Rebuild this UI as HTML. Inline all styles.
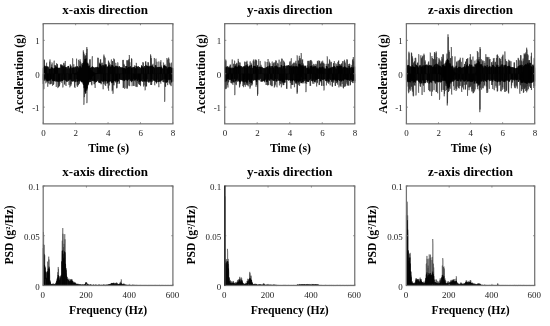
<!DOCTYPE html>
<html><head><meta charset="utf-8"><title>Vibration signals</title>
<style>
html,body{margin:0;padding:0;background:#fff}
svg{display:block}
text{font-family:"Liberation Serif","Times New Roman",serif}
.t{font-size:8.95px;fill:#1a1a1a}
.l{font-size:11.7px;font-weight:bold;fill:#000}
.ti{font-size:13.05px;font-weight:bold;fill:#000}
.s{fill:none;stroke:#000;stroke-width:0.55;stroke-linejoin:bevel}
.k2{fill:none;stroke:#444;stroke-width:0.52;stroke-linejoin:bevel}
.k{fill:none;stroke:#262626;stroke-width:0.52;stroke-linejoin:bevel}
</style></head><body>
<svg width="550" height="326" viewBox="0 0 550 326">
<rect width="550" height="326" fill="#fff"/>
<polyline points="43.2,73.75 43.2,83.89 43.45,73.75 43.45,73.75 43.7,73.75 43.7,89.29 43.95,89.09 43.95,60.08 44.2,59.51 44.2,73.75 44.45,73.75 44.45,60.13 44.71,73.75 44.71,73.75 44.96,73.75 44.96,73.75 45.21,65.82 45.21,73.75 45.46,73.75 45.46,66.79 45.71,73.75 45.71,83.28 45.96,82.63 45.96,73.75 46.21,73.75 46.21,73.75 46.46,73.75 46.46,63.67 46.71,62.68 46.71,73.75 46.96,82.23 46.96,73.75 47.21,73.75 47.21,81.81 47.46,73.75 47.46,73.75 47.72,73.75 47.72,86.74 47.97,73.75 47.97,73.75 48.22,73.75 48.22,73.75 48.47,83.38 48.47,73.75 48.72,73.75 48.72,73.75 48.97,73.75 48.97,73.75 49.22,73.75 49.22,73.75 49.47,73.75 49.47,73.75 49.72,61.63 49.72,73.75 49.97,84.35 49.97,59.47 50.22,73.75 50.22,84.11 50.48,73.75 50.48,73.75 50.73,73.75 50.73,73.75 50.98,84.03 50.98,73.75 51.23,73.75 51.23,83.58 51.48,73.75 51.48,73.75 51.73,64.47 51.73,73.75 51.98,73.75 51.98,62.49 52.23,63.3 52.23,73.75 52.48,85.75 52.48,73.75 52.73,73.75 52.73,73.75 52.98,73.75 52.98,73.75 53.23,73.75 53.23,73.75 53.49,84.91 53.49,73.75 53.74,73.75 53.74,84.15 53.99,73.75 53.99,62.08 54.24,60.67 54.24,80.93 54.49,73.75 54.49,73.75 54.74,65.44 54.74,73.75 54.99,73.75 54.99,65.02 55.24,73.75 55.24,73.75 55.49,73.75 55.49,73.75 55.74,65.27 55.74,73.75 55.99,73.75 55.99,66.14 56.25,73.75 56.25,86.91 56.5,73.75 56.5,63.17 56.75,63.58 56.75,73.75 57,73.75 57,73.75 57.25,64.1 57.25,73.75 57.5,73.75 57.5,64.49 57.75,73.75 57.75,87.89 58,87.8 58,73.75 58.25,73.75 58.25,73.75 58.5,87.08 58.5,73.75 58.75,73.75 58.75,85.15 59,86.62 59,73.75 59.26,73.75 59.26,73.75 59.51,85.98 59.51,73.75 59.76,73.75 59.76,84.44 60.01,73.75 60.01,73.75 60.26,73.75 60.26,73.75 60.51,73.75 60.51,73.75 60.76,73.75 60.76,73.75 61.01,73.75 61.01,73.75 61.26,73.75 61.26,73.75 61.51,73.75 61.51,73.75 61.76,73.75 61.76,82.78 62.02,73.75 62.02,65.11 62.27,64.96 62.27,73.75 62.52,73.75 62.52,73.75 62.77,73.75 62.77,87.44 63.02,87.12 63.02,73.75 63.27,73.75 63.27,73.75 63.52,73.75 63.52,73.75 63.77,62.8 63.77,73.75 64.02,73.75 64.02,63.41 64.27,73.75 64.27,73.75 64.52,83.88 64.52,73.75 64.77,73.75 64.77,84.88 65.03,73.75 65.03,73.75 65.28,60.99 65.28,73.75 65.53,73.75 65.53,73.75 65.78,73.75 65.78,73.75 66.03,86.03 66.03,73.75 66.28,73.75 66.28,73.75 66.53,73.75 66.53,73.75 66.78,73.75 66.78,73.75 67.03,73.75 67.03,73.75 67.28,73.75 67.28,73.75 67.53,73.75 67.53,73.75 67.79,73.75 67.79,73.75 68.04,73.75 68.04,73.75 68.29,73.75 68.29,73.75 68.54,73.75 68.54,73.75 68.79,73.75 68.79,73.75 69.04,84.97 69.04,73.75 69.29,73.74 69.29,73.76 69.54,73.75 69.54,73.75 69.79,73.74 69.79,87.32 70.04,86.77 70.04,73.74 70.29,64.34 70.29,73.76 70.54,84.25 70.54,65.01 70.8,64.9 70.8,85.99 71.05,73.77 71.05,73.72 71.3,73.73 71.3,84.4 71.55,83.55 71.55,73.71 71.8,73.71 71.8,73.79 72.05,73.81 72.05,73.69 72.3,73.67 72.3,73.83 72.55,73.84 72.55,58.3 72.8,59.15 72.8,73.85 73.05,73.85 73.05,73.62 73.3,73.61 73.3,73.88 73.56,73.91 73.56,73.57 73.81,64.28 73.81,73.91 74.06,74.04 74.06,73.53 74.31,73.52 74.31,74.06 74.56,86.81 74.56,73.56 74.81,73.31 74.81,86.81 75.06,87.96 75.06,73.3 75.31,73.33 75.31,74.37 75.56,74.27 75.56,73.02 75.81,72.89 75.81,74.36 76.06,74.47 76.06,72.95 76.31,72.9 76.31,74.75 76.57,74.51 76.57,58.66 76.82,72.29 76.82,75.2 77.07,85.57 77.07,72.61 77.32,72.42 77.32,86.68 77.57,87.03 77.57,71.63 77.82,71.87 77.82,75.48 78.07,85.26 78.07,71.62 78.32,72.05 78.32,85.09 78.57,83.16 78.57,59.85 78.82,70.07 78.82,75.71 79.07,83.84 79.07,70.23 79.33,69.63 79.33,83.57 79.58,78.99 79.58,70.15 79.83,60.86 79.83,78.43 80.08,79.97 80.08,59.24 80.33,69.33 80.33,80.57 80.58,77.68 80.58,62.55 80.83,61.96 80.83,79.53 81.08,81.09 81.08,67.36 81.33,67.08 81.33,81.81 81.58,82.17 81.58,63.69 81.83,67.11 81.83,82.37 82.08,79.37 82.08,64.51 82.34,63.31 82.34,81.96 82.59,82.23 82.59,63.45 82.84,65.25 82.84,83.72 83.09,83.82 83.09,65.26 83.34,50.37 83.34,84.58 83.59,84.3 83.59,52.01 83.84,64.99 83.84,104.81 84.09,102.64 84.09,53.71 84.34,55.11 84.34,97.13 84.59,95.49 84.59,57.79 84.84,56.38 84.84,88.75 85.1,90.94 85.1,55.38 85.35,56.67 85.35,93.79 85.6,92.39 85.6,55.56 85.85,60.34 85.85,93.14 86.1,89.92 86.1,62.78 86.35,53.04 86.35,86.91 86.6,87.45 86.6,54.49 86.85,47.03 86.85,103.14 87.1,101.08 87.1,48.9 87.35,62.23 87.35,85.4 87.6,85.89 87.6,63.03 87.85,62.66 87.85,85.22 88.11,81.98 88.11,67.37 88.36,63.66 88.36,84.97 88.61,84.82 88.61,68.76 88.86,67.12 88.86,81.69 89.11,80.94 89.11,64.99 89.36,66.05 89.36,79.69 89.61,81.8 89.61,60.14 89.86,59.32 89.86,79.66 90.11,79.94 90.11,59.44 90.36,69.78 90.36,80.14 90.61,78.99 90.61,67.88 90.87,68.49 90.87,77.51 91.12,79.18 91.12,69.6 91.37,70.18 91.37,84.09 91.62,84.49 91.62,70.69 91.87,70.26 91.87,85.3 92.12,76.64 92.12,58.47 92.37,56.22 92.37,76.67 92.62,75.31 92.62,71.2 92.87,71.86 92.87,76.13 93.12,76 93.12,72.24 93.37,71.91 93.37,75.68 93.62,75.42 93.62,72.29 93.88,72.67 93.88,75 94.13,84.29 94.13,72.71 94.38,72.62 94.38,84.04 94.63,74.84 94.63,72.87 94.88,73.3 94.88,74.67 95.13,87.95 95.13,73.06 95.38,73.14 95.38,74.15 95.63,74.19 95.63,73.22 95.88,73.46 95.88,74.18 96.13,74.08 96.13,73.39 96.38,73.43 96.38,74.1 96.64,74.06 96.64,73.49 96.89,73.62 96.89,73.97 97.14,73.9 97.14,73.59 97.39,73.58 97.39,73.92 97.64,73.89 97.64,73.63 97.89,57.6 97.89,73.86 98.14,73.84 98.14,58.01 98.39,73.68 98.39,73.83 98.64,73.82 98.64,73.69 98.89,73.7 98.89,73.79 99.14,73.77 99.14,73.72 99.39,62.68 99.39,73.78 99.65,73.77 99.65,63.59 99.9,73.73 99.9,73.77 100.15,73.77 100.15,73.73 100.4,59.61 100.4,73.76 100.65,73.76 100.65,59.27 100.9,73.74 100.9,73.76 101.15,84.3 101.15,73.75 101.4,73.75 101.4,73.75 101.65,73.75 101.65,73.75 101.9,62.95 101.9,73.75 102.15,73.75 102.15,62.64 102.41,73.75 102.41,73.75 102.66,73.75 102.66,73.75 102.91,73.75 102.91,73.75 103.16,89.25 103.16,73.75 103.41,73.75 103.41,73.75 103.66,83.77 103.66,73.75 103.91,54.6 103.91,83.79 104.16,73.75 104.16,56.31 104.41,73.75 104.41,73.75 104.66,73.75 104.66,73.75 104.91,73.75 104.91,85.15 105.16,85.01 105.16,57.7 105.42,73.75 105.42,73.75 105.67,85.94 105.67,73.75 105.92,73.75 105.92,73.75 106.17,73.75 106.17,73.75 106.42,73.75 106.42,73.75 106.67,73.75 106.67,73.75 106.92,73.75 106.92,73.75 107.17,73.75 107.17,73.75 107.42,73.75 107.42,73.75 107.67,73.75 107.67,73.75 107.92,73.75 107.92,73.75 108.18,88.35 108.18,73.75 108.43,60.59 108.43,88.6 108.68,90.71 108.68,61.53 108.93,73.75 108.93,73.75 109.18,73.75 109.18,73.75 109.43,62.69 109.43,85.46 109.68,73.75 109.68,73.75 109.93,73.75 109.93,73.75 110.18,73.75 110.18,73.75 110.43,64.48 110.43,73.75 110.68,73.75 110.68,73.75 110.94,73.75 110.94,73.75 111.19,73.75 111.19,61.53 111.44,59.44 111.44,73.75 111.69,73.75 111.69,73.75 111.94,73.75 111.94,73.75 112.19,91.22 112.19,73.75 112.44,61.17 112.44,89.88 112.69,89.04 112.69,61.11 112.94,73.75 112.94,93.79 113.19,92.39 113.19,73.75 113.44,73.75 113.44,73.75 113.69,84.83 113.69,58.49 113.95,60 113.95,85.39 114.2,73.75 114.2,73.75 114.45,59.4 114.45,73.75 114.7,73.75 114.7,73.75 114.95,73.75 114.95,73.75 115.2,73.75 115.2,73.75 115.45,73.75 115.45,73.75 115.7,82.47 115.7,62.85 115.95,63.92 115.95,81.8 116.2,73.75 116.2,73.75 116.45,73.75 116.45,73.75 116.71,88.39 116.71,73.75 116.96,73.75 116.96,87.8 117.21,73.75 117.21,73.75 117.46,73.75 117.46,83.71 117.71,73.75 117.71,62.4 117.96,63.38 117.96,73.75 118.21,73.75 118.21,73.75 118.46,73.75 118.46,73.75 118.71,73.75 118.71,73.75 118.96,73.75 118.96,83.86 119.21,83.27 119.21,73.75 119.46,73.75 119.46,83.37 119.72,73.75 119.72,73.75 119.97,73.75 119.97,73.75 120.22,73.75 120.22,73.75 120.47,73.75 120.47,73.75 120.72,73.75 120.72,73.75 120.97,73.75 120.97,73.75 121.22,73.75 121.22,73.75 121.47,73.75 121.47,73.75 121.72,73.75 121.72,73.75 121.97,73.75 121.97,73.75 122.22,73.75 122.22,73.75 122.48,73.75 122.48,73.75 122.73,73.75 122.73,60.66 122.98,59.91 122.98,73.75 123.23,88.03 123.23,59.97 123.48,73.75 123.48,87.4 123.73,73.75 123.73,73.75 123.98,63.86 123.98,73.75 124.23,73.75 124.23,64.95 124.48,73.75 124.48,87.74 124.73,88.86 124.73,73.75 124.98,73.75 124.98,73.75 125.23,73.75 125.23,73.75 125.49,66.09 125.49,73.75 125.74,73.75 125.74,66.49 125.99,73.75 125.99,87.95 126.24,73.75 126.24,73.75 126.49,73.75 126.49,73.75 126.74,73.75 126.74,60.41 126.99,60.87 126.99,88.74 127.24,89.01 127.24,60.18 127.49,73.75 127.49,87.73 127.74,73.75 127.74,73.75 127.99,61.1 127.99,73.75 128.25,73.75 128.25,60.29 128.5,60.01 128.5,73.75 128.75,85.57 128.75,73.75 129,58.94 129,73.75 129.25,73.75 129.25,55.05 129.5,56.36 129.5,86.17 129.75,85.81 129.75,62.24 130,62.37 130,73.75 130.25,73.75 130.25,73.75 130.5,73.75 130.5,73.75 130.75,73.75 130.75,73.75 131,73.75 131,73.75 131.26,82.25 131.26,73.75 131.51,58.42 131.51,81.91 131.76,73.75 131.76,58.87 132.01,73.75 132.01,86.17 132.26,85.2 132.26,73.75 132.51,73.75 132.51,73.75 132.76,73.75 132.76,73.75 133.01,73.75 133.01,73.75 133.26,73.75 133.26,73.75 133.51,73.75 133.51,84.58 133.76,85.88 133.76,73.75 134.02,73.75 134.02,85.88 134.27,73.75 134.27,65.52 134.52,65.52 134.52,73.75 134.77,80.79 134.77,73.75 135.02,73.75 135.02,80.71 135.27,81.51 135.27,66.62 135.52,65.81 135.52,73.75 135.77,86.64 135.77,73.75 136.02,73.75 136.02,73.75 136.27,73.75 136.27,62.86 136.52,64.22 136.52,73.75 136.77,86.58 136.77,73.75 137.03,73.75 137.03,87.07 137.28,73.75 137.28,73.75 137.53,73.75 137.53,73.75 137.78,73.75 137.78,73.75 138.03,73.75 138.03,82.82 138.28,73.75 138.28,73.75 138.53,73.75 138.53,82.79 138.78,84.06 138.78,73.75 139.03,73.75 139.03,73.75 139.28,84.43 139.28,73.75 139.53,73.75 139.53,84.79 139.79,73.75 139.79,73.75 140.04,73.75 140.04,73.75 140.29,84.88 140.29,73.75 140.54,73.75 140.54,86.17 140.79,73.75 140.79,73.75 141.04,73.75 141.04,73.75 141.29,73.75 141.29,73.75 141.54,65 141.54,73.75 141.79,73.75 141.79,73.75 142.04,73.75 142.04,73.75 142.29,73.75 142.29,73.75 142.54,73.75 142.54,73.75 142.8,73.75 142.8,61.99 143.05,62.48 143.05,73.75 143.3,73.75 143.3,62.81 143.55,73.75 143.55,86.39 143.8,86.57 143.8,73.75 144.05,73.75 144.05,85.28 144.3,73.75 144.3,73.75 144.55,73.75 144.55,73.75 144.8,73.75 144.8,73.75 145.05,73.75 145.05,90.3 145.3,89.6 145.3,73.75 145.56,61.68 145.56,73.75 145.81,86.52 145.81,61.38 146.06,73.75 146.06,73.75 146.31,86.1 146.31,73.75 146.56,73.75 146.56,86.34 146.81,73.75 146.81,73.75 147.06,73.75 147.06,73.75 147.31,73.75 147.31,73.75 147.56,73.75 147.56,73.75 147.81,73.75 147.81,73.75 148.06,62.12 148.06,73.75 148.31,73.75 148.31,62.59 148.57,73.75 148.57,73.75 148.82,73.75 148.82,73.75 149.07,73.75 149.07,73.75 149.32,73.75 149.32,73.75 149.57,73.75 149.57,73.75 149.82,73.75 149.82,73.75 150.07,73.75 150.07,73.75 150.32,73.75 150.32,73.75 150.57,54.38 150.57,84.15 150.82,84.95 150.82,55.73 151.07,60.55 151.07,73.75 151.33,84.97 151.33,58.18 151.58,73.75 151.58,84.94 151.83,83.52 151.83,73.75 152.08,73.75 152.08,73.75 152.33,73.75 152.33,73.75 152.58,64.93 152.58,73.75 152.83,73.75 152.83,64.5 153.08,63.77 153.08,73.75 153.33,73.75 153.33,73.75 153.58,73.75 153.58,73.75 153.83,73.75 153.83,73.75 154.08,73.75 154.08,73.75 154.34,73.75 154.34,57.97 154.59,73.75 154.59,83.81 154.84,85.27 154.84,73.75 155.09,73.75 155.09,73.75 155.34,73.75 155.34,73.75 155.59,73.75 155.59,73.75 155.84,73.75 155.84,59.12 156.09,58.69 156.09,73.75 156.34,83.1 156.34,73.75 156.59,73.75 156.59,83.54 156.84,73.75 156.84,61.73 157.1,62.22 157.1,73.75 157.35,73.75 157.35,73.75 157.6,73.75 157.6,73.75 157.85,73.75 157.85,73.75 158.1,73.75 158.1,73.75 158.35,73.75 158.35,73.75 158.6,73.75 158.6,73.75 158.85,87.19 158.85,61.48 159.1,73.75 159.1,73.75 159.35,73.75 159.35,73.75 159.6,73.75 159.6,73.75 159.85,73.75 159.85,73.75 160.11,73.75 160.11,73.75 160.36,73.75 160.36,62.29 160.61,62.3 160.61,82.77 160.86,83.64 160.86,60.19 161.11,73.75 161.11,73.75 161.36,73.75 161.36,66.37 161.61,65.55 161.61,73.75 161.86,73.75 161.86,73.75 162.11,73.75 162.11,73.75 162.36,73.75 162.36,73.75 162.61,73.75 162.61,73.75 162.87,81.95 162.87,73.75 163.12,73.75 163.12,73.75 163.37,73.75 163.37,62.54 163.62,63.08 163.62,73.75 163.87,73.75 163.87,73.75 164.12,73.75 164.12,73.75 164.37,73.75 164.37,73.75 164.62,65.22 164.62,101.81 164.87,99.84 164.87,64.63 165.12,64.6 165.12,73.75 165.37,86.79 165.37,73.75 165.62,73.75 165.62,86.5 165.88,73.75 165.88,73.75 166.13,73.75 166.13,81.88 166.38,81.75 166.38,73.75 166.63,73.75 166.63,83.04 166.88,73.75 166.88,57.99 167.13,59.28 167.13,73.75 167.38,73.75 167.38,59.58 167.63,73.75 167.63,85.14 167.88,73.75 167.88,73.75 168.13,73.75 168.13,73.75 168.38,73.75 168.38,73.75 168.64,57.55 168.64,73.75 168.89,73.75 168.89,58.86 169.14,73.75 169.14,82.75 169.39,81.46 169.39,62.66 169.64,63.37 169.64,73.75 169.89,84.15 169.89,63.58 170.14,73.75 170.14,84.19 170.39,85.11 170.39,73.75 170.64,73.75 170.64,73.75 170.89,73.75 170.89,73.75 171.14,73.75 171.14,86.11 171.39,73.75 171.39,62.64 171.65,73.75 171.65,73.75 171.9,73.75 171.9,73.75 172.15,73.75 172.15,73.75 172.4,73.75 172.4,73.75 172.65,73.75 172.65,73.75 172.9,73.75 172.9,73.75" class="k"/>
<polyline points="43.2,68.09 43.2,79.24 43.45,80.35 43.45,67.13 43.7,67.21 43.7,80.91 43.95,80.16 43.95,67.37 44.2,66.88 44.2,80.37 44.45,80.38 44.45,65.87 44.71,65.71 44.71,78.7 44.96,78.76 44.96,66.07 45.21,68.49 45.21,78.61 45.46,78.7 45.46,67.76 45.71,68.43 45.71,79.82 45.96,80.51 45.96,68.52 46.21,66.59 46.21,80.09 46.46,79.85 46.46,66.56 46.71,66.58 46.71,80.13 46.96,80.8 46.96,66.66 47.21,66.92 47.21,80.79 47.46,80.56 47.46,66.62 47.72,66.35 47.72,80.46 47.97,80.35 47.97,66.84 48.22,66.8 48.22,80.42 48.47,80.84 48.47,67.49 48.72,67.62 48.72,80.24 48.97,80.37 48.97,69.31 49.22,69.24 49.22,80.21 49.47,80.56 49.47,69.17 49.72,69.19 49.72,80.36 49.97,80.43 49.97,69.31 50.22,68.9 50.22,80.37 50.48,79.46 50.48,69.03 50.73,68.73 50.73,79.86 50.98,78.67 50.98,68.34 51.23,67.47 51.23,78.87 51.48,78.9 51.48,67.38 51.73,67.1 51.73,78.89 51.98,78.27 51.98,69.05 52.23,68 52.23,78.91 52.48,80.56 52.48,67.79 52.73,67.71 52.73,80.64 52.98,80.86 52.98,68.8 53.23,69.08 53.23,81.2 53.49,80.78 53.49,68.62 53.74,68.39 53.74,81.08 53.99,80.75 53.99,68.68 54.24,68.35 54.24,81.3 54.49,80.97 54.49,68.52 54.74,68.18 54.74,78.78 54.99,80.63 54.99,67.98 55.24,68.81 55.24,80.66 55.49,80.31 55.49,66.88 55.74,66.56 55.74,81.48 55.99,81.72 55.99,66.77 56.25,67.06 56.25,81.35 56.5,80.82 56.5,67 56.75,68.28 56.75,81.07 57,78.93 57,68.04 57.25,68.12 57.25,81.31 57.5,81.46 57.5,67.77 57.75,67.55 57.75,81.37 58,81.4 58,68.05 58.25,68.48 58.25,82.09 58.5,79.06 58.5,67.85 58.75,68.31 58.75,79.68 59,79.03 59,68.17 59.26,67.81 59.26,81.26 59.51,81.05 59.51,68.09 59.76,68.17 59.76,81.3 60.01,81.27 60.01,67.86 60.26,68.23 60.26,81.56 60.51,79.28 60.51,68.42 60.76,64.73 60.76,81.17 61.01,80.82 61.01,64.25 61.26,65.77 61.26,81.27 61.51,80.44 61.51,65.88 61.76,65.63 61.76,80.67 62.02,78.59 62.02,65.48 62.27,65.85 62.27,78.86 62.52,81.04 62.52,66.65 62.77,66.6 62.77,80.78 63.02,79.39 63.02,66.65 63.27,68.37 63.27,79.62 63.52,79.51 63.52,66.43 63.77,66.34 63.77,79.51 64.02,79.91 64.02,68.62 64.27,68.75 64.27,79.3 64.52,79.23 64.52,66.15 64.77,65.53 64.77,79.74 65.03,80.13 65.03,67.42 65.28,67.1 65.28,79.91 65.53,79.65 65.53,67.39 65.78,67.61 65.78,79.83 66.03,80.97 66.03,67.18 66.28,68.57 66.28,81.32 66.53,81.16 66.53,67.21 66.78,67.26 66.78,81.57 67.03,81.87 67.03,68.74 67.28,68.64 67.28,81.47 67.53,81.44 67.53,68.48 67.79,66.49 67.79,78.73 68.04,80.31 68.04,66.4 68.29,66.07 68.29,80.66 68.54,80.65 68.54,65.94 68.79,68.46 68.79,80.73 69.04,79.62 69.04,68.52 69.29,68.5 69.29,79.36 69.54,79.5 69.54,68.64 69.79,68.51 69.79,79.43 70.04,79.66 70.04,68.69 70.29,66.98 70.29,79.63 70.54,78.96 70.54,66.87 70.8,66.61 70.8,78.8 71.05,79.11 71.05,66.47 71.3,66.4 71.3,80.65 71.55,80.71 71.55,68.43 71.8,68.33 71.8,81.03 72.05,81.38 72.05,68.05 72.3,67.9 72.3,81.29 72.55,81.46 72.55,67.95 72.8,68.41 72.8,79.53 73.05,81.03 73.05,67.31 73.3,67.33 73.3,81.16 73.56,80.85 73.56,67.64 73.81,67.54 73.81,81.39 74.06,80.78 74.06,68.13 74.31,68.18 74.31,79.48 74.56,78.66 74.56,68.5 74.81,67.25 74.81,81.27 75.06,82.22 75.06,67.03 75.31,66.47 75.31,81.49 75.56,81.14 75.56,67.06 75.81,68.42 75.81,81.71 76.06,81.32 76.06,68.11 76.31,68.59 76.31,78.98 76.57,79.08 76.57,68.33 76.82,66.53 76.82,79.12 77.07,81.52 77.07,66.83 77.32,66.01 77.32,81.97 77.57,81.4 77.57,66.8 77.82,68.52 77.82,78.93 78.07,79.48 78.07,67.57 78.32,67.52 78.32,78.98 78.57,80.85 78.57,67.62 78.82,68.35 78.82,81.16 79.07,81.08 79.07,68.16 79.33,68.2 79.33,81.24 79.58,81.19 79.58,67.79 79.83,65.89 79.83,79.28 80.08,79.87 80.08,66.33 80.33,66.15 80.33,80.44 80.58,80.47 80.58,67.76 80.83,67.35 80.83,79.76 81.08,81.65 81.08,67.78 81.33,67.95 81.33,81.13 81.58,81.44 81.58,68.24 81.83,68.14 81.83,81.33 82.08,80.77 82.08,66.75 82.34,65.52 82.34,80.91 82.59,81.88 82.59,64.88 82.84,67.64 82.84,82.05 83.09,82.75 83.09,65.95 83.34,62.93 83.34,84.31 83.59,84.93 83.59,62.37 83.84,62.52 83.84,86.04 84.09,88.19 84.09,61.33 84.34,63.37 84.34,86.72 84.59,87.49 84.59,61.83 84.84,58.96 84.84,86.42 85.1,91.99 85.1,62.55 85.35,59.41 85.35,92.24 85.6,93.28 85.6,59.06 85.85,59.52 85.85,89.05 86.1,90.65 86.1,58.29 86.35,61.34 86.35,87.28 86.6,88.71 86.6,62.29 86.85,62.96 86.85,90.42 87.1,88.5 87.1,63.14 87.35,64.94 87.35,88.39 87.6,85.92 87.6,63.79 87.85,66.51 87.85,83.01 88.11,82.52 88.11,66.6 88.36,66.61 88.36,83.96 88.61,82.87 88.61,67.01 88.86,65.84 88.86,82.47 89.11,81.89 89.11,66.19 89.36,65.99 89.36,79.6 89.61,79.27 89.61,68.54 89.86,68.17 89.86,81.86 90.11,82.02 90.11,67.94 90.36,67.82 90.36,81.38 90.61,81.92 90.61,67.97 90.87,68.67 90.87,81.32 91.12,80.3 91.12,67.72 91.37,67.49 91.37,79.32 91.62,79.36 91.62,67.23 91.87,67.24 91.87,79.44 92.12,80.87 92.12,67.24 92.37,66.67 92.37,81 92.62,79.64 92.62,66.44 92.87,68.12 92.87,79.97 93.12,80.12 93.12,68.29 93.37,67.45 93.37,79.35 93.62,81.28 93.62,67.17 93.88,67.61 93.88,81.01 94.13,81.28 94.13,68.05 94.38,67.93 94.38,79.05 94.63,81.04 94.63,67.71 94.88,68.11 94.88,81.48 95.13,79.85 95.13,68.25 95.38,67.57 95.38,82.62 95.63,82.13 95.63,67.43 95.88,67.41 95.88,82.02 96.13,81.98 96.13,67.52 96.38,67.88 96.38,82.05 96.64,80.46 96.64,67.67 96.89,67.11 96.89,80.88 97.14,80.71 97.14,66.89 97.39,67.31 97.39,80.89 97.64,81.13 97.64,67.22 97.89,67.37 97.89,79.52 98.14,79.5 98.14,67.92 98.39,68 98.39,81.82 98.64,82.2 98.64,68.08 98.89,67.7 98.89,82.22 99.14,82.84 99.14,67.03 99.39,67.86 99.39,82.69 99.65,82.85 99.65,64.15 99.9,64.22 99.9,82.49 100.15,79.76 100.15,63.9 100.4,64.45 100.4,82.89 100.65,82.9 100.65,64.7 100.9,64.6 100.9,82.72 101.15,83.4 101.15,65.69 101.4,66.06 101.4,80.98 101.65,80.87 101.65,65.89 101.9,66.3 101.9,80.66 102.15,79.73 102.15,67.46 102.41,67.59 102.41,79.59 102.66,81.54 102.66,67.65 102.91,65.15 102.91,81.71 103.16,81.26 103.16,64.95 103.41,67.69 103.41,81.32 103.66,80.49 103.66,66.67 103.91,66.16 103.91,80.65 104.16,80.83 104.16,66.43 104.41,66.43 104.41,80.66 104.66,80.54 104.66,67.49 104.91,64.55 104.91,81.7 105.16,82.35 105.16,64.65 105.42,64.35 105.42,80.37 105.67,80.81 105.67,65.02 105.92,65.02 105.92,80.31 106.17,81.2 106.17,64.26 106.42,64.73 106.42,80.97 106.67,81.18 106.67,67.48 106.92,66.58 106.92,83.61 107.17,82.92 107.17,67.02 107.42,66.83 107.42,82.55 107.67,82.35 107.67,66.88 107.92,67.89 107.92,83.29 108.18,82.08 108.18,66.57 108.43,66.24 108.43,81.45 108.68,81.75 108.68,65.6 108.93,65.43 108.93,81.39 109.18,81.46 109.18,64.71 109.43,65.92 109.43,81.02 109.68,81.56 109.68,67.66 109.93,67.52 109.93,81.25 110.18,80.9 110.18,67.62 110.43,66.8 110.43,81.22 110.68,79.49 110.68,66.73 110.94,66.85 110.94,79.33 111.19,82.26 111.19,66.58 111.44,66.61 111.44,83.15 111.69,82.58 111.69,65.1 111.94,64.91 111.94,82.3 112.19,80.02 112.19,65.06 112.44,65.59 112.44,81.59 112.69,82.44 112.69,65.29 112.94,68.15 112.94,82.8 113.19,81.65 113.19,66.96 113.44,66.35 113.44,81.55 113.69,81.82 113.69,67.91 113.95,67.21 113.95,80.45 114.2,79.25 114.2,67.16 114.45,67.3 114.45,81.06 114.7,81.02 114.7,66.94 114.95,67.6 114.95,80.75 115.2,80.77 115.2,66.34 115.45,66.28 115.45,81.2 115.7,78.97 115.7,66.61 115.95,65.82 115.95,80.02 116.2,80.16 116.2,65.81 116.45,67.96 116.45,80.02 116.71,80.36 116.71,66.7 116.96,66.67 116.96,79.72 117.21,81.68 117.21,66.38 117.46,68.67 117.46,81.78 117.71,79.06 117.71,66.52 117.96,66.66 117.96,81.38 118.21,80.9 118.21,66.53 118.46,68.6 118.46,81.27 118.71,78.8 118.71,68.01 118.96,67.73 118.96,78.87 119.21,78.68 119.21,68.57 119.46,66.02 119.46,79.39 119.72,79.05 119.72,66.87 119.97,67.85 119.97,78.34 120.22,79.01 120.22,67.89 120.47,67.63 120.47,80.01 120.72,79.53 120.72,67.28 120.97,66.98 120.97,79.88 121.22,79.64 121.22,68.81 121.47,67.84 121.47,79.58 121.72,79.84 121.72,67.73 121.97,67.55 121.97,80.1 122.22,80.18 122.22,67.24 122.48,68.24 122.48,80.22 122.73,78.92 122.73,68.1 122.98,68.02 122.98,79.37 123.23,78.93 123.23,68.34 123.48,68.03 123.48,78.35 123.73,80.61 123.73,68.63 123.98,68.75 123.98,80.31 124.23,80.69 124.23,68.05 124.48,68.49 124.48,81.13 124.73,80.73 124.73,68.31 124.98,68.84 124.98,79.8 125.23,80.05 125.23,68.59 125.49,69.12 125.49,79.43 125.74,78.77 125.74,69.03 125.99,68.95 125.99,79.68 126.24,79.96 126.24,68.6 126.49,66.08 126.49,79.77 126.74,79.68 126.74,66.43 126.99,66.41 126.99,80.06 127.24,80.82 127.24,67.86 127.49,68.05 127.49,81.11 127.74,78.82 127.74,68.2 127.99,67.86 127.99,79.39 128.25,79.85 128.25,67.95 128.5,67.19 128.5,79.21 128.75,79.31 128.75,67.48 129,67.04 129,79.35 129.25,79.13 129.25,67.1 129.5,67.35 129.5,79.17 129.75,79.05 129.75,68.21 130,68.65 130,79.3 130.25,80.85 130.25,66.1 130.5,67.07 130.5,80.31 130.75,80.35 130.75,66.78 131,68.17 131,80.2 131.26,80.06 131.26,68.11 131.51,68.17 131.51,78.58 131.76,81.27 131.76,68.22 132.01,68.75 132.01,81.38 132.26,81.02 132.26,67.95 132.51,67.47 132.51,80.24 132.76,80.49 132.76,67.91 133.01,67.41 133.01,80.37 133.26,80.37 133.26,67.56 133.51,67.49 133.51,78.67 133.76,78.97 133.76,67.41 134.02,67.04 134.02,78.71 134.27,78.88 134.27,66.95 134.52,67.17 134.52,80.12 134.77,80.01 134.77,68.93 135.02,68.48 135.02,80.3 135.27,79.35 135.27,68.35 135.52,68.2 135.52,79.6 135.77,79.46 135.77,68.59 136.02,68.97 136.02,79.55 136.27,79.41 136.27,66.23 136.52,66.47 136.52,78.88 136.77,78.59 136.77,66.55 137.03,66.78 137.03,80.87 137.28,80.97 137.28,66.86 137.53,67.27 137.53,80.7 137.78,78.43 137.78,66.86 138.03,66.3 138.03,79.88 138.28,79.24 138.28,66.73 138.53,66.32 138.53,79.72 138.78,79.14 138.78,68.45 139.03,68.96 139.03,81.76 139.28,81.24 139.28,67.03 139.53,67.33 139.53,81.54 139.79,79.59 139.79,67.03 140.04,68.1 140.04,79.48 140.29,81.51 140.29,67.97 140.54,68.36 140.54,81.33 140.79,81.19 140.79,68.44 141.04,68.47 141.04,80.08 141.29,80.23 141.29,68.91 141.54,66.52 141.54,80.98 141.79,80.31 141.79,66.63 142.04,66.03 142.04,81.37 142.29,81.1 142.29,66.43 142.54,68.52 142.54,81.06 142.8,81.86 142.8,68.11 143.05,67.77 143.05,78.85 143.3,79.21 143.3,67.78 143.55,67.86 143.55,81.27 143.8,80.82 143.8,67.48 144.05,67.92 144.05,80.67 144.3,80.75 144.3,66.02 144.55,66.59 144.55,81.31 144.8,81.43 144.8,66.29 145.05,68.6 145.05,81.55 145.3,79.04 145.3,68.69 145.56,68.07 145.56,81.1 145.81,81.04 145.81,65.46 146.06,64.89 146.06,79.71 146.31,79.48 146.31,68.29 146.56,66.06 146.56,79.13 146.81,81.49 146.81,65.62 147.06,66.04 147.06,81.37 147.31,81.62 147.31,66.17 147.56,66 147.56,79.34 147.81,79.29 147.81,66.09 148.06,67.02 148.06,79.43 148.31,81.61 148.31,67.3 148.57,66.46 148.57,82.42 148.82,81.85 148.82,67.24 149.07,66.67 149.07,82.24 149.32,82.51 149.32,66.64 149.57,66.71 149.57,79.28 149.82,81.31 149.82,65.83 150.07,65.88 150.07,81.3 150.32,81.34 150.32,65.92 150.57,66.31 150.57,81.12 150.82,81.53 150.82,66.85 151.07,66.56 151.07,79.42 151.33,79.4 151.33,66.19 151.58,65.87 151.58,79.31 151.83,81.56 151.83,65.64 152.08,65.96 152.08,81.53 152.33,80.63 152.33,66.31 152.58,66.08 152.58,79.2 152.83,79.3 152.83,68.13 153.08,66.77 153.08,80.21 153.33,80.2 153.33,67.01 153.58,67.52 153.58,80.22 153.83,80.5 153.83,67.37 154.08,66.97 154.08,80.9 154.34,80.03 154.34,67.97 154.59,68.22 154.59,80.57 154.84,80.36 154.84,68.44 155.09,68.36 155.09,80.12 155.34,80.48 155.34,65.3 155.59,65.39 155.59,81.77 155.84,81.4 155.84,65.33 156.09,66.58 156.09,81.8 156.34,79.46 156.34,67.28 156.59,67.31 156.59,82.18 156.84,81.46 156.84,68.61 157.1,67.96 157.1,82.12 157.35,78.9 157.35,68.01 157.6,67.16 157.6,79.66 157.85,79.22 157.85,67.32 158.1,67.26 158.1,82.13 158.35,81.96 158.35,67.56 158.6,67.29 158.6,81.65 158.85,81.24 158.85,67.18 159.1,67.08 159.1,81.55 159.35,81.46 159.35,67.38 159.6,66.88 159.6,81.27 159.85,81.74 159.85,67.36 160.11,67.09 160.11,80.77 160.36,81.19 160.36,67.13 160.61,67.51 160.61,81.37 160.86,78.86 160.86,68.42 161.11,67.86 161.11,80.2 161.36,79.98 161.36,67.23 161.61,67.67 161.61,80.66 161.86,80.53 161.86,67.59 162.11,67.7 162.11,80.35 162.36,79.21 162.36,68.84 162.61,68.62 162.61,79.33 162.87,79.86 162.87,68.69 163.12,68.94 163.12,79.31 163.37,78.99 163.37,68.73 163.62,65.56 163.62,81.62 163.87,82.35 163.87,65.9 164.12,66.45 164.12,81.85 164.37,78.89 164.37,65.98 164.62,65.44 164.62,79.12 164.87,79.22 164.87,66.58 165.12,66.01 165.12,79.38 165.37,79.23 165.37,66.24 165.62,68.06 165.62,79.38 165.88,82.64 165.88,68.73 166.13,66.35 166.13,81.99 166.38,82.04 166.38,66.69 166.63,68.62 166.63,79.39 166.88,79.8 166.88,68.66 167.13,68.51 167.13,80.01 167.38,81.88 167.38,68.72 167.63,68.67 167.63,82.05 167.88,80.62 167.88,67.41 168.13,67.98 168.13,80.28 168.38,80.04 168.38,68.54 168.64,67.46 168.64,79.19 168.89,79.43 168.89,67.29 169.14,66.97 169.14,79.06 169.39,79.57 169.39,67.04 169.64,67.33 169.64,79.49 169.89,79.59 169.89,67.89 170.14,67.65 170.14,80 170.39,79.3 170.39,66.81 170.64,67.16 170.64,79.09 170.89,79.02 170.89,67.13 171.14,68.62 171.14,78.85 171.39,81.83 171.39,68.28 171.65,68.04 171.65,82.57 171.9,81.74 171.9,68.28 172.15,67.92 172.15,80.78 172.4,80.55 172.4,67.72 172.65,68.55 172.65,81.84 172.9,80.94 172.9,68.28" class="s"/>
<rect x="43.2" y="23.65" width="129.7" height="100.19999999999999" fill="none" stroke="#727272" stroke-width="1.25"/>
<text x="43.4" y="136.3" text-anchor="middle" class="t">0</text>
<text x="75.83" y="136.3" text-anchor="middle" class="t">2</text>
<text x="108.25" y="136.3" text-anchor="middle" class="t">4</text>
<text x="140.67" y="136.3" text-anchor="middle" class="t">6</text>
<text x="173.1" y="136.3" text-anchor="middle" class="t">8</text>
<text x="39.6" y="111.2" text-anchor="end" class="t">-1</text>
<text x="39.6" y="77.8" text-anchor="end" class="t">0</text>
<text x="39.6" y="44.4" text-anchor="end" class="t">1</text>
<path d="M43.2 123.85v-1.6M43.2 23.65v1.6M75.62 123.85v-1.6M75.62 23.65v1.6M108.05 123.85v-1.6M108.05 23.65v1.6M140.47 123.85v-1.6M140.47 23.65v1.6M172.9 123.85v-1.6M172.9 23.65v1.6M43.2 107.15h1.6M172.9 107.15h-1.6M43.2 73.75h1.6M172.9 73.75h-1.6M43.2 40.35h1.6M172.9 40.35h-1.6" stroke="#727272" stroke-width="0.8" fill="none"/>
<text x="105.15" y="13.75" text-anchor="middle" class="ti">x-axis direction</text>
<text x="108.75" y="151.9" text-anchor="middle" class="l">Time (s)</text>
<text transform="translate(23.3 73.75) rotate(-90)" text-anchor="middle" class="l">Acceleration (g)</text>
<polyline points="224.7,60.57 224.7,73.75 224.95,73.75 224.95,61.89 225.2,73.75 225.2,73.75 225.45,88.61 225.45,73.75 225.7,59.54 225.7,89.18 225.95,73.75 225.95,60.67 226.2,73.75 226.2,88.65 226.45,87.76 226.45,73.75 226.7,73.75 226.7,73.75 226.96,73.75 226.96,73.75 227.21,73.75 227.21,84.32 227.46,85.14 227.46,73.75 227.71,73.75 227.71,73.75 227.96,87.5 227.96,73.75 228.21,73.75 228.21,73.75 228.46,82.43 228.46,73.75 228.71,73.75 228.71,82 228.96,73.75 228.96,73.75 229.21,65.92 229.21,73.75 229.46,73.75 229.46,73.75 229.71,73.75 229.71,73.75 229.96,73.75 229.96,73.75 230.21,64.59 230.21,73.75 230.46,73.75 230.46,65 230.71,64.75 230.71,82.7 230.96,82.64 230.96,73.75 231.22,73.75 231.22,73.75 231.47,83.09 231.47,73.75 231.72,73.75 231.72,73.75 231.97,83.5 231.97,73.75 232.22,59.45 232.22,82.77 232.47,73.75 232.47,73.75 232.72,73.75 232.72,84.04 232.97,84.85 232.97,73.75 233.22,73.75 233.22,73.75 233.47,73.75 233.47,73.75 233.72,63.69 233.72,73.75 233.97,73.75 233.97,64.18 234.22,73.75 234.22,73.75 234.47,82.68 234.47,60.67 234.72,61.25 234.72,95.13 234.97,93.63 234.97,73.75 235.22,73.75 235.22,73.75 235.47,73.75 235.47,73.75 235.73,64.28 235.73,73.75 235.98,84.35 235.98,64.21 236.23,73.75 236.23,85.17 236.48,73.75 236.48,73.75 236.73,62.83 236.73,73.75 236.98,73.75 236.98,63.47 237.23,73.75 237.23,81.85 237.48,81.68 237.48,73.75 237.73,73.75 237.73,73.75 237.98,73.75 237.98,73.75 238.23,58.9 238.23,73.75 238.48,73.75 238.48,61.19 238.73,73.75 238.73,73.75 238.98,73.75 238.98,73.75 239.23,73.75 239.23,73.75 239.48,87.47 239.48,73.75 239.73,62.52 239.73,86.61 239.99,73.75 239.99,62.59 240.24,73.75 240.24,83.32 240.49,84.19 240.49,73.75 240.74,73.75 240.74,73.75 240.99,73.75 240.99,73.75 241.24,73.75 241.24,73.75 241.49,73.75 241.49,73.75 241.74,73.75 241.74,73.75 241.99,73.75 241.99,73.75 242.24,73.75 242.24,73.75 242.49,73.75 242.49,73.75 242.74,73.75 242.74,86.04 242.99,84.37 242.99,73.75 243.24,73.75 243.24,73.75 243.49,87.19 243.49,73.75 243.74,73.75 243.74,73.75 243.99,84.46 243.99,73.75 244.25,73.75 244.25,84.65 244.5,73.75 244.5,73.75 244.75,61.52 244.75,84.85 245,84.8 245,63.16 245.25,62.12 245.25,86.74 245.5,73.75 245.5,73.75 245.75,73.75 245.75,73.75 246,73.75 246,73.75 246.25,73.75 246.25,84.99 246.5,84.95 246.5,61.99 246.75,62.17 246.75,83.97 247,73.75 247,60.77 247.25,73.75 247.25,73.75 247.5,85.3 247.5,64.01 247.75,64.07 247.75,84.76 248,73.75 248,73.75 248.25,73.75 248.25,86.31 248.5,73.75 248.5,73.75 248.76,73.75 248.76,73.75 249.01,73.75 249.01,73.75 249.26,73.75 249.26,83.14 249.51,83.89 249.51,73.75 249.76,73.75 249.76,73.75 250.01,88.71 250.01,62.13 250.26,61.39 250.26,87.3 250.51,73.75 250.51,73.75 250.76,73.75 250.76,73.75 251.01,73.75 251.01,62.78 251.26,63.62 251.26,84.44 251.51,85.35 251.51,73.75 251.76,73.75 251.76,73.75 252.01,85.4 252.01,73.75 252.26,73.75 252.26,84.05 252.51,84.17 252.51,73.75 252.76,73.75 252.76,73.75 253.02,73.75 253.02,60.87 253.27,60.59 253.27,73.75 253.52,73.75 253.52,73.75 253.77,59.38 253.77,73.75 254.02,73.75 254.02,61.54 254.27,73.75 254.27,73.75 254.52,73.75 254.52,73.75 254.77,73.75 254.77,73.75 255.02,73.75 255.02,73.75 255.27,60.09 255.27,73.75 255.52,73.75 255.52,61.91 255.77,59.39 255.77,73.75 256.02,86.85 256.02,73.75 256.27,60.35 256.27,73.75 256.52,85.09 256.52,60.61 256.77,61.11 256.77,84.35 257.02,73.75 257.02,73.75 257.28,64.99 257.28,73.75 257.53,95.79 257.53,65.29 257.78,73.75 257.78,94.25 258.03,73.75 258.03,73.75 258.28,73.75 258.28,73.75 258.53,73.75 258.53,62.2 258.78,59.2 258.78,73.75 259.03,73.75 259.03,73.75 259.28,73.75 259.28,73.75 259.53,73.75 259.53,73.75 259.78,73.75 259.78,73.75 260.03,73.75 260.03,61.14 260.28,61.11 260.28,73.75 260.53,73.75 260.53,73.75 260.78,73.75 260.78,73.75 261.03,73.75 261.03,64.8 261.28,73.75 261.28,73.75 261.53,73.75 261.53,73.75 261.79,73.75 261.79,73.75 262.04,73.75 262.04,73.75 262.29,73.75 262.29,73.75 262.54,73.75 262.54,73.75 262.79,73.75 262.79,73.75 263.04,73.75 263.04,73.75 263.29,73.75 263.29,73.75 263.54,73.75 263.54,73.75 263.79,73.75 263.79,73.75 264.04,73.75 264.04,73.75 264.29,73.75 264.29,73.75 264.54,82.28 264.54,73.75 264.79,73.75 264.79,81.83 265.04,73.75 265.04,61.5 265.29,62.64 265.29,73.75 265.54,73.75 265.54,73.75 265.79,73.75 265.79,73.75 266.05,84.97 266.05,73.75 266.3,73.75 266.3,73.75 266.55,73.75 266.55,73.75 266.8,73.75 266.8,84.76 267.05,84.14 267.05,62.01 267.3,62.77 267.3,73.75 267.55,85.37 267.55,73.75 267.8,73.75 267.8,73.75 268.05,84.86 268.05,59.01 268.3,73.75 268.3,85.16 268.55,83.47 268.55,73.75 268.8,73.75 268.8,73.75 269.05,73.75 269.05,73.75 269.3,61.69 269.3,73.75 269.55,73.75 269.55,63.48 269.8,73.75 269.8,73.75 270.05,73.75 270.05,63.28 270.31,73.75 270.31,84.92 270.56,73.75 270.56,73.75 270.81,73.75 270.81,73.75 271.06,85.25 271.06,73.75 271.31,73.75 271.31,86.16 271.56,84.57 271.56,73.75 271.81,73.75 271.81,73.75 272.06,73.75 272.06,62.63 272.31,61.57 272.31,86.17 272.56,84.92 272.56,73.75 272.81,73.75 272.81,73.75 273.06,73.75 273.06,63.64 273.31,73.75 273.31,73.75 273.56,73.75 273.56,73.75 273.81,63.14 273.81,73.75 274.06,73.75 274.06,62.38 274.31,73.75 274.31,87.49 274.57,85.57 274.57,73.75 274.82,73.75 274.82,86.42 275.07,73.75 275.07,62.7 275.32,62.34 275.32,84.52 275.57,84.62 275.57,73.75 275.82,60.25 275.82,73.75 276.07,73.75 276.07,61.87 276.32,60.85 276.32,73.75 276.57,73.75 276.57,73.75 276.82,73.75 276.82,86.27 277.07,87.27 277.07,73.75 277.32,73.75 277.32,73.75 277.57,73.75 277.57,63.88 277.82,62.86 277.82,73.75 278.07,73.75 278.07,63.81 278.32,73.75 278.32,73.75 278.57,73.75 278.57,73.75 278.82,73.75 278.82,73.75 279.08,73.75 279.08,59.7 279.33,73.75 279.33,85.17 279.58,85.45 279.58,73.75 279.83,73.75 279.83,73.75 280.08,82.93 280.08,73.75 280.33,73.75 280.33,82.97 280.58,84.15 280.58,62.31 280.83,61.62 280.83,73.75 281.08,73.75 281.08,73.75 281.33,73.75 281.33,87.33 281.58,85.31 281.58,73.75 281.83,58.46 281.83,73.75 282.08,83.69 282.08,59.06 282.33,73.75 282.33,82.96 282.58,73.75 282.58,73.75 282.83,73.75 282.83,73.75 283.08,85.19 283.08,73.75 283.34,73.75 283.34,73.75 283.59,84.99 283.59,60.65 283.84,73.75 283.84,85.06 284.09,73.75 284.09,73.75 284.34,61.77 284.34,73.75 284.59,82.35 284.59,62.96 284.84,73.75 284.84,82.85 285.09,73.75 285.09,73.75 285.34,73.75 285.34,73.75 285.59,73.75 285.59,73.75 285.84,73.75 285.84,73.75 286.09,73.75 286.09,73.75 286.34,73.75 286.34,73.75 286.59,88.38 286.59,73.75 286.84,73.75 286.84,88.97 287.09,73.75 287.09,73.75 287.34,73.75 287.34,73.75 287.6,73.75 287.6,73.75 287.85,73.75 287.85,73.75 288.1,73.75 288.1,73.75 288.35,73.75 288.35,73.75 288.6,73.75 288.6,73.75 288.85,73.75 288.85,73.75 289.1,73.75 289.1,73.75 289.35,73.75 289.35,73.75 289.6,73.75 289.6,73.75 289.85,62.17 289.85,73.75 290.1,73.75 290.1,61.08 290.35,73.75 290.35,83.01 290.6,73.75 290.6,73.75 290.85,73.75 290.85,88.05 291.1,88.64 291.1,60.24 291.35,58.29 291.35,73.75 291.6,84.76 291.6,73.75 291.85,64.85 291.85,84.65 292.11,73.75 292.11,73.75 292.36,73.75 292.36,73.75 292.61,84.83 292.61,64.87 292.86,63.88 292.86,84.83 293.11,73.75 293.11,63.38 293.36,73.75 293.36,73.75 293.61,73.75 293.61,73.75 293.86,62.5 293.86,73.75 294.11,73.75 294.11,63.11 294.36,64.04 294.36,87.22 294.61,87.04 294.61,73.75 294.86,73.75 294.86,73.75 295.11,73.75 295.11,62.56 295.36,62.77 295.36,73.75 295.61,83.19 295.61,73.75 295.86,60.85 295.86,83.74 296.11,83.33 296.11,73.74 296.37,63.58 296.37,73.78 296.62,83.67 296.62,73.67 296.87,73.63 296.87,73.84 297.12,93.79 297.12,55.38 297.37,56.67 297.37,92.39 297.62,74.59 297.62,65.87 297.87,66.34 297.87,75.17 298.12,75.19 298.12,70.22 298.37,60.51 298.37,84.59 298.62,85.14 298.62,60.83 298.87,63.62 298.87,81.29 299.12,83.84 299.12,58.61 299.37,55.83 299.37,80.92 299.62,85.92 299.62,58.55 299.87,59.33 299.87,82.08 300.12,81.01 300.12,58.02 300.37,64.14 300.37,81.53 300.63,82.38 300.63,62.48 300.88,59.77 300.88,77.73 301.13,77.02 301.13,53.04 301.38,54.49 301.38,77.14 301.63,75.02 301.63,62.84 301.88,72.13 301.88,82.34 302.13,83.34 302.13,72.6 302.38,60.2 302.38,83.15 302.63,73.89 302.63,59.28 302.88,73.63 302.88,73.83 303.13,73.79 303.13,63.49 303.38,64.04 303.38,83.33 303.63,73.75 303.63,64.99 303.88,73.75 303.88,73.75 304.13,73.75 304.13,73.75 304.38,73.75 304.38,73.75 304.63,73.75 304.63,73.75 304.88,73.75 304.88,73.75 305.14,83.47 305.14,73.75 305.39,73.75 305.39,83 305.64,73.75 305.64,65.55 305.89,73.75 305.89,92.12 306.14,90.83 306.14,73.75 306.39,73.75 306.39,73.75 306.64,83.84 306.64,73.75 306.89,73.75 306.89,73.75 307.14,73.75 307.14,73.75 307.39,65.14 307.39,73.75 307.64,73.75 307.64,73.75 307.89,61.12 307.89,73.75 308.14,73.75 308.14,60.73 308.39,73.75 308.39,73.75 308.64,73.75 308.64,73.75 308.89,61.04 308.89,73.75 309.14,73.75 309.14,63.57 309.4,73.75 309.4,73.75 309.65,73.75 309.65,73.75 309.9,61.33 309.9,73.75 310.15,85.95 310.15,60.29 310.4,62.19 310.4,84.01 310.65,85.72 310.65,73.75 310.9,59.97 310.9,73.75 311.15,73.75 311.15,60.58 311.4,73.75 311.4,73.75 311.65,73.75 311.65,73.75 311.9,61.49 311.9,73.75 312.15,73.75 312.15,73.75 312.4,73.75 312.4,82.26 312.65,82.32 312.65,65.42 312.9,65.8 312.9,83.86 313.15,73.75 313.15,73.75 313.4,73.75 313.4,73.75 313.66,73.75 313.66,63.86 313.91,73.75 313.91,83.76 314.16,82.82 314.16,64.81 314.41,64.66 314.41,73.75 314.66,73.75 314.66,73.75 314.91,73.75 314.91,73.75 315.16,81.7 315.16,73.75 315.41,73.75 315.41,82.48 315.66,73.75 315.66,73.75 315.91,63.83 315.91,73.75 316.16,73.75 316.16,64.52 316.41,65.65 316.41,73.75 316.66,86.49 316.66,73.75 316.91,73.75 316.91,73.75 317.16,82.08 317.16,73.75 317.41,60.8 317.41,83.18 317.66,73.75 317.66,61.5 317.92,73.75 317.92,73.75 318.17,73.75 318.17,73.75 318.42,73.75 318.42,73.75 318.67,73.75 318.67,61.48 318.92,60.28 318.92,73.75 319.17,85.1 319.17,73.75 319.42,61.05 319.42,84.74 319.67,73.75 319.67,61.19 319.92,73.75 319.92,73.75 320.17,73.75 320.17,73.75 320.42,63.9 320.42,73.75 320.67,73.75 320.67,63.43 320.92,73.75 320.92,81.2 321.17,82.57 321.17,73.75 321.42,61.57 321.42,73.75 321.67,85.77 321.67,63.56 321.92,62.95 321.92,85.77 322.17,73.75 322.17,73.75 322.43,62.41 322.43,73.75 322.68,73.75 322.68,60.72 322.93,73.75 322.93,73.75 323.18,73.75 323.18,73.75 323.43,63.66 323.43,73.75 323.68,85.91 323.68,62.74 323.93,73.75 323.93,90.45 324.18,89.28 324.18,73.75 324.43,73.75 324.43,73.75 324.68,73.75 324.68,63.84 324.93,64.29 324.93,73.75 325.18,73.75 325.18,73.75 325.43,73.75 325.43,73.75 325.68,73.75 325.68,73.75 325.93,73.75 325.93,73.75 326.18,73.75 326.18,73.75 326.43,73.75 326.43,85.4 326.69,73.75 326.69,63.83 326.94,64.45 326.94,73.75 327.19,73.75 327.19,56.38 327.44,57.6 327.44,73.75 327.69,82.28 327.69,73.75 327.94,73.75 327.94,82.77 328.19,73.75 328.19,64.01 328.44,73.75 328.44,73.75 328.69,83.86 328.69,63.67 328.94,73.75 328.94,82.46 329.19,73.75 329.19,73.75 329.44,59.36 329.44,73.75 329.69,73.75 329.69,62.12 329.94,60.57 329.94,73.75 330.19,85.32 330.19,73.75 330.44,73.75 330.44,73.75 330.69,73.75 330.69,73.75 330.95,62.38 330.95,73.75 331.2,73.75 331.2,61.8 331.45,73.75 331.45,73.75 331.7,73.75 331.7,73.75 331.95,73.75 331.95,73.75 332.2,86.34 332.2,73.75 332.45,73.75 332.45,86.66 332.7,73.75 332.7,73.75 332.95,73.75 332.95,82.25 333.2,81.98 333.2,73.75 333.45,63.54 333.45,73.75 333.7,82.74 333.7,63 333.95,73.75 333.95,81.25 334.2,73.75 334.2,61.1 334.45,61.4 334.45,73.75 334.7,73.75 334.7,73.75 334.95,73.75 334.95,73.75 335.2,85.73 335.2,73.75 335.46,73.75 335.46,85.97 335.71,73.75 335.71,63.47 335.96,63.53 335.96,73.75 336.21,73.75 336.21,73.75 336.46,73.75 336.46,73.75 336.71,83.06 336.71,64.19 336.96,64.42 336.96,83.15 337.21,73.75 337.21,73.75 337.46,73.75 337.46,84.5 337.71,84.63 337.71,62.2 337.96,62.85 337.96,73.75 338.21,73.75 338.21,73.75 338.46,60.98 338.46,73.75 338.71,73.75 338.71,60.44 338.96,73.75 338.96,87.39 339.21,73.75 339.21,73.75 339.46,64.19 339.46,73.75 339.72,73.75 339.72,64.09 339.97,73.75 339.97,85.67 340.22,85.18 340.22,73.75 340.47,64.64 340.47,73.75 340.72,85.69 340.72,64.91 340.97,73.75 340.97,86.89 341.22,73.75 341.22,73.75 341.47,63.86 341.47,73.75 341.72,73.75 341.72,63.42 341.97,73.75 341.97,83 342.22,83.94 342.22,73.75 342.47,61.22 342.47,73.75 342.72,73.75 342.72,73.75 342.97,73.75 342.97,86.52 343.22,87.58 343.22,73.75 343.47,73.75 343.47,88.37 343.72,73.75 343.72,73.75 343.98,61.14 343.98,73.75 344.23,73.75 344.23,61.52 344.48,59.82 344.48,73.75 344.73,86.87 344.73,73.75 344.98,61.6 344.98,86.41 345.23,73.75 345.23,63.2 345.48,73.75 345.48,73.75 345.73,85.84 345.73,73.75 345.98,73.75 345.98,73.75 346.23,73.75 346.23,73.75 346.48,73.75 346.48,73.75 346.73,82.48 346.73,73.75 346.98,59.05 346.98,84.07 347.23,73.75 347.23,60.04 347.48,73.75 347.48,73.75 347.73,85.46 347.73,73.75 347.98,73.75 347.98,85.4 348.23,73.75 348.23,65.31 348.49,64.26 348.49,84.95 348.74,85.69 348.74,73.75 348.99,73.75 348.99,73.75 349.24,73.75 349.24,73.75 349.49,63.78 349.49,73.75 349.74,73.75 349.74,64.16 349.99,64.37 349.99,73.75 350.24,85.32 350.24,73.75 350.49,73.75 350.49,84.73 350.74,73.75 350.74,73.75 350.99,73.75 350.99,73.75 351.24,73.75 351.24,73.75 351.49,73.75 351.49,81.5 351.74,82.09 351.74,64.93 351.99,65.38 351.99,73.75 352.24,73.75 352.24,73.75 352.49,60.23 352.49,73.75 352.75,82.82 352.75,58.91 353,59.31 353,83.13 353.25,73.75 353.25,57.05 353.5,58.22 353.5,73.75 353.75,73.75 353.75,61.33 354,73.75 354,73.75 354.25,73.75 354.25,73.75 354.5,73.75 354.5,73.75 354.75,82.87 354.75,73.75" class="k"/>
<polyline points="224.7,67.47 224.7,78.82 224.95,82.07 224.95,67.17 225.2,67.56 225.2,81.58 225.45,81.38 225.45,68.46 225.7,68.55 225.7,81.43 225.95,82.03 225.95,66.8 226.2,66.93 226.2,79.02 226.45,80.68 226.45,67.39 226.7,68.77 226.7,80.46 226.96,80.79 226.96,66.45 227.21,66.4 227.21,79.11 227.46,78.82 227.46,66.42 227.71,67.59 227.71,79.08 227.96,78.91 227.96,67.53 228.21,67.94 228.21,79.27 228.46,78.98 228.46,67.42 228.71,67.36 228.71,79 228.96,78.56 228.96,67.97 229.21,67.41 229.21,79.7 229.46,79.64 229.46,67.71 229.71,68.73 229.71,80.08 229.96,79.43 229.96,68.92 230.21,68.13 230.21,79.28 230.46,79.46 230.46,67.86 230.71,67.76 230.71,79.35 230.96,79.64 230.96,68.9 231.22,69.05 231.22,79.24 231.47,80.53 231.47,68.08 231.72,67.72 231.72,81.15 231.97,78.69 231.97,67.85 232.22,67.69 232.22,78.85 232.47,79 232.47,68.53 232.72,68.83 232.72,79.18 232.97,81.44 232.97,68.03 233.22,67.88 233.22,82.09 233.47,82.38 233.47,68.08 233.72,68.57 233.72,81.8 233.97,81.79 233.97,68.13 234.22,68.43 234.22,78.99 234.47,78.81 234.47,67.41 234.72,66.84 234.72,78.81 234.97,78.74 234.97,66.2 235.22,66.74 235.22,81.58 235.47,81 235.47,66.25 235.73,65.67 235.73,81.1 235.98,80.02 235.98,66.37 236.23,68.6 236.23,80.37 236.48,80.33 236.48,67.16 236.73,66.86 236.73,80.1 236.98,80.36 236.98,67.23 237.23,67.26 237.23,78.62 237.48,78.69 237.48,67.12 237.73,67.85 237.73,80.36 237.98,80.52 237.98,67.2 238.23,66.11 238.23,80.05 238.48,80.62 238.48,65.87 238.73,65.68 238.73,81.08 238.98,81.41 238.98,65.17 239.23,65.61 239.23,81.87 239.48,81.43 239.48,66.55 239.73,66.67 239.73,81.81 239.99,81.98 239.99,66.64 240.24,67.98 240.24,81.87 240.49,82.38 240.49,65.91 240.74,65.76 240.74,80.98 240.99,81.17 240.99,66.61 241.24,66.67 241.24,81.26 241.49,81.35 241.49,66.28 241.74,68.04 241.74,79.85 241.99,79.9 241.99,67.9 242.24,68.05 242.24,80.19 242.49,81.32 242.49,67.74 242.74,66.77 242.74,81.26 242.99,81.45 242.99,66.76 243.24,66.72 243.24,81.84 243.49,81.75 243.49,66.73 243.74,66.82 243.74,81.37 243.99,82.55 243.99,66.77 244.25,66.01 244.25,82.03 244.5,79.2 244.5,66.71 244.75,66.83 244.75,79.1 245,79.07 245,68.12 245.25,67.69 245.25,81.27 245.5,81.65 245.5,67.7 245.75,65.61 245.75,81 246,81.56 246,65.19 246.25,65.44 246.25,81.61 246.5,82.41 246.5,67.82 246.75,68.25 246.75,82.24 247,82.49 247,65.41 247.25,66 247.25,82.48 247.5,80.63 247.5,65.79 247.75,68.2 247.75,80.73 248,80.73 248,66.43 248.25,66.66 248.25,79.47 248.5,79.57 248.5,66.85 248.76,67.01 248.76,79.64 249.01,79.11 249.01,68.36 249.26,65.69 249.26,81.22 249.51,81.75 249.51,65.77 249.76,65.91 249.76,81.55 250.01,81.74 250.01,65.68 250.26,65.76 250.26,81.79 250.51,79.34 250.51,67.86 250.76,68.16 250.76,82.23 251.01,82.98 251.01,68.11 251.26,64.84 251.26,82.78 251.51,82.38 251.51,65.01 251.76,64.72 251.76,82.54 252.01,82.57 252.01,67.74 252.26,68.28 252.26,79.73 252.51,79.25 252.51,68.4 252.76,67.98 252.76,79.41 253.02,79.86 253.02,66.35 253.27,66.28 253.27,80.51 253.52,80.38 253.52,65.97 253.77,66.25 253.77,80.41 254.02,80.32 254.02,68.14 254.27,66.05 254.27,79.05 254.52,79.55 254.52,65.87 254.77,68.76 254.77,80.06 255.02,79.92 255.02,66.24 255.27,66.21 255.27,79.52 255.52,79.96 255.52,66.55 255.77,67.81 255.77,80.31 256.02,79.78 256.02,67.76 256.27,66.91 256.27,81.53 256.52,81.62 256.52,67.12 256.77,67.61 256.77,81.87 257.02,78.9 257.02,67.99 257.28,66.95 257.28,78.87 257.53,79.61 257.53,66.17 257.78,67.3 257.78,78.77 258.03,78.9 258.03,67.42 258.28,67.05 258.28,78.57 258.53,79.56 258.53,69.2 258.78,68.91 258.78,80.06 259.03,79.89 259.03,67.57 259.28,66.75 259.28,79.83 259.53,80.3 259.53,66.78 259.78,67.2 259.78,78.89 260.03,78.75 260.03,67.42 260.28,67.06 260.28,78.84 260.53,78.47 260.53,67.39 260.78,69.02 260.78,78.53 261.03,81.72 261.03,66.57 261.28,67.11 261.28,81.2 261.53,79.1 261.53,69.09 261.79,67.17 261.79,81.56 262.04,81.2 262.04,66.87 262.29,67.27 262.29,81.63 262.54,80.95 262.54,68.1 262.79,68.14 262.79,81.01 263.04,80.54 263.04,68.16 263.29,68.05 263.29,80.67 263.54,80.2 263.54,68.26 263.79,68.77 263.79,81.21 264.04,80.62 264.04,68.38 264.29,68.97 264.29,80.93 264.54,80.69 264.54,68.15 264.79,68.01 264.79,79.99 265.04,80.3 265.04,68.53 265.29,68.55 265.29,79.75 265.54,78.79 265.54,68.13 265.79,67.89 265.79,78.95 266.05,78.88 266.05,66.91 266.3,67.81 266.3,81.79 266.55,81.35 266.55,67.6 266.8,67.26 266.8,81.83 267.05,81.95 267.05,67.51 267.3,67.38 267.3,81.68 267.55,79.53 267.55,66.65 267.8,66.54 267.8,79.86 268.05,80.1 268.05,66.32 268.3,68.53 268.3,79.29 268.55,79.08 268.55,68.36 268.8,68.6 268.8,79.13 269.05,80.17 269.05,68.1 269.3,65.84 269.3,80.46 269.55,80.43 269.55,65.56 269.8,66.6 269.8,80.5 270.05,80.65 270.05,66.49 270.31,66.09 270.31,78.8 270.56,78.97 270.56,68.3 270.81,67.48 270.81,79.07 271.06,79.46 271.06,67.75 271.31,67.91 271.31,79.14 271.56,79.35 271.56,66.02 271.81,66.54 271.81,78.83 272.06,78.66 272.06,66.14 272.31,66.26 272.31,80.13 272.56,79.71 272.56,66.12 272.81,68.45 272.81,80.07 273.06,80.46 273.06,68.05 273.31,68.7 273.31,80.69 273.56,80.32 273.56,67.17 273.81,67.45 273.81,80.65 274.06,80.67 274.06,68.47 274.31,68.91 274.31,80.82 274.57,78.85 274.57,68.37 274.82,66.2 274.82,79.45 275.07,79.11 275.07,66.48 275.32,68.1 275.32,79.04 275.57,79 275.57,66.28 275.82,66.06 275.82,79.6 276.07,81.26 276.07,68.53 276.32,66.21 276.32,81.51 276.57,81.36 276.57,65.49 276.82,65.98 276.82,81.15 277.07,78.65 277.07,67.06 277.32,67.01 277.32,78.68 277.57,79.2 277.57,66.73 277.82,67.36 277.82,80.78 278.07,80.56 278.07,67.31 278.32,68.45 278.32,80.43 278.57,80.1 278.57,68.4 278.82,68.53 278.82,79.88 279.08,80.61 279.08,67.19 279.33,67.22 279.33,80.26 279.58,80.17 279.58,67.53 279.83,68.65 279.83,80.81 280.08,80.53 280.08,68.01 280.33,67.83 280.33,80.24 280.58,80.86 280.58,67.71 280.83,67.08 280.83,80.41 281.08,80.6 281.08,65.37 281.33,65.89 281.33,80.48 281.58,79.51 281.58,64.97 281.83,66.54 281.83,81.69 282.08,81.67 282.08,66.18 282.33,67.88 282.33,81.1 282.58,81.78 282.58,68.62 282.83,68.57 282.83,81.1 283.08,78.85 283.08,68.28 283.34,66.25 283.34,82.63 283.59,82.05 283.59,66.09 283.84,66.36 283.84,81.91 284.09,82.39 284.09,66.13 284.34,65.8 284.34,82.23 284.59,81.7 284.59,65.53 284.84,66.12 284.84,82.13 285.09,82.22 285.09,66.15 285.34,66.21 285.34,79.63 285.59,79.46 285.59,68.63 285.84,68.34 285.84,79.59 286.09,79.77 286.09,66.01 286.34,65.42 286.34,79.88 286.59,78.99 286.59,66.24 286.84,68.21 286.84,79.4 287.09,79.32 287.09,68.08 287.34,65.88 287.34,79.66 287.6,79.12 287.6,65.76 287.85,65.47 287.85,79.97 288.1,79.68 288.1,65.52 288.35,65.11 288.35,80.24 288.6,80.35 288.6,65.2 288.85,65.54 288.85,80.59 289.1,79.52 289.1,68.63 289.35,66.21 289.35,80.1 289.6,79.97 289.6,66.03 289.85,66.3 289.85,80 290.1,79.75 290.1,66.98 290.35,66.97 290.35,81.2 290.6,80.78 290.6,67.46 290.85,65.77 290.85,80.81 291.1,78.8 291.1,65.83 291.35,68.04 291.35,80.13 291.6,79.64 291.6,67.75 291.85,67.96 291.85,79.62 292.11,81.03 292.11,66.71 292.36,66.7 292.36,81.4 292.61,80.05 292.61,66.69 292.86,67.03 292.86,80.04 293.11,80.08 293.11,66.4 293.36,66.56 293.36,80.33 293.61,80.26 293.61,66.41 293.86,66.33 293.86,79.4 294.11,80.2 294.11,66.65 294.36,66.81 294.36,79.65 294.61,80.93 294.61,66.48 294.86,66.82 294.86,81.58 295.11,81.07 295.11,66.89 295.36,68.08 295.36,79.26 295.61,80.13 295.61,68.46 295.86,66.21 295.86,82.39 296.11,82.54 296.11,66.01 296.37,66.76 296.37,79.97 296.62,81.58 296.62,66.75 296.87,66.63 296.87,82.54 297.12,80.77 297.12,66.7 297.37,67.92 297.37,80.61 297.62,80.57 297.62,67.72 297.87,67.31 297.87,80.82 298.12,79.78 298.12,67.03 298.37,67.28 298.37,82.33 298.62,82.24 298.62,66.17 298.87,63.89 298.87,81.63 299.12,81.69 299.12,63.75 299.37,63.81 299.37,79.92 299.62,80.6 299.62,65.41 299.87,64.6 299.87,81 300.12,80.75 300.12,64.19 300.37,65.53 300.37,80.74 300.63,80.51 300.63,65.58 300.88,66.25 300.88,83.17 301.13,82.88 301.13,66.31 301.38,66.82 301.38,83.02 301.63,80.04 301.63,66.03 301.88,65.4 301.88,80.13 302.13,80.01 302.13,65.16 302.38,65.66 302.38,79.37 302.63,82.04 302.63,66.45 302.88,68.17 302.88,81.72 303.13,81.23 303.13,67.06 303.38,67.14 303.38,81.43 303.63,81.7 303.63,66.26 303.88,66.1 303.88,79.03 304.13,78.62 304.13,65.65 304.38,66.24 304.38,78.71 304.63,80.63 304.63,68.44 304.88,66.51 304.88,80.88 305.14,80.94 305.14,66.37 305.39,66.48 305.39,78.73 305.64,79.41 305.64,66.26 305.89,66.79 305.89,79.34 306.14,79.41 306.14,68.6 306.39,68.5 306.39,78.62 306.64,81.52 306.64,67.97 306.89,68.31 306.89,80.74 307.14,81.09 307.14,67.67 307.39,68.15 307.39,81.3 307.64,81.94 307.64,68.14 307.89,68.1 307.89,79.02 308.14,81.75 308.14,68.59 308.39,68.73 308.39,81.97 308.64,81.29 308.64,67.3 308.89,66.55 308.89,81.38 309.14,80.95 309.14,68.96 309.4,68.98 309.4,78.98 309.65,79.99 309.65,68.68 309.9,68.3 309.9,79.81 310.15,78.45 310.15,68.82 310.4,66.4 310.4,78.69 310.65,78.8 310.65,66.25 310.9,66.07 310.9,78.66 311.15,78.73 311.15,66.07 311.4,65.83 311.4,80.89 311.65,80.77 311.65,66.17 311.9,65.61 311.9,80.62 312.15,78.79 312.15,66.61 312.4,67.64 312.4,78.58 312.65,81.08 312.65,67.37 312.9,68.94 312.9,80.93 313.15,80.36 313.15,68.95 313.4,66.57 313.4,80.1 313.66,80.36 313.66,66.98 313.91,66.76 313.91,79.13 314.16,78.88 314.16,66.47 314.41,66.8 314.41,81.9 314.66,81.01 314.66,68.67 314.91,66.36 314.91,81.61 315.16,79.04 315.16,66.13 315.41,66.6 315.41,79.28 315.66,79.53 315.66,66.53 315.91,66.24 315.91,79.94 316.16,80.14 316.16,68.39 316.41,68.58 316.41,79.64 316.66,78.71 316.66,67.71 316.91,67.42 316.91,78.5 317.16,79.52 317.16,67.93 317.41,69 317.41,79.1 317.66,78.66 317.66,69.01 317.92,69.04 317.92,78.75 318.17,78.75 318.17,69.1 318.42,69.2 318.42,78.36 318.67,78.75 318.67,69.13 318.92,67.84 318.92,78.88 319.17,78.36 319.17,67.77 319.42,67.62 319.42,78.57 319.67,78.55 319.67,67.03 319.92,67.72 319.92,78.76 320.17,81.05 320.17,67.65 320.42,67.56 320.42,81.15 320.67,81.03 320.67,67.92 320.92,68.76 320.92,81.15 321.17,78.98 321.17,68.05 321.42,68.1 321.42,79 321.67,78.98 321.67,67.26 321.92,66.95 321.92,78.96 322.17,79.25 322.17,67.28 322.43,66.68 322.43,79.91 322.68,79.56 322.68,66.91 322.93,68.69 322.93,79.71 323.18,79.78 323.18,68.48 323.43,68.81 323.43,79.33 323.68,79.47 323.68,67.76 323.93,67.23 323.93,79.32 324.18,79.11 324.18,68.69 324.43,68.84 324.43,78.98 324.68,79.16 324.68,68.81 324.93,68.74 324.93,79.39 325.18,78.84 325.18,68.41 325.43,68.68 325.43,78.83 325.68,80.89 325.68,69.03 325.93,68.86 325.93,80.74 326.18,81.25 326.18,66 326.43,66.07 326.43,80.94 326.69,80.92 326.69,66.23 326.94,68.88 326.94,80.96 327.19,78.72 327.19,66.74 327.44,66.81 327.44,79.79 327.69,80.42 327.69,69.09 327.94,69.09 327.94,78.98 328.19,78.87 328.19,68.83 328.44,68.42 328.44,78.85 328.69,81.2 328.69,68.56 328.94,68.71 328.94,81.51 329.19,81.48 329.19,68.68 329.44,68.81 329.44,78.8 329.69,78.66 329.69,69.08 329.94,67.81 329.94,79.39 330.19,79.63 330.19,67.88 330.44,67.86 330.44,79.67 330.69,79.85 330.69,67.66 330.95,68.31 330.95,79.86 331.2,78.73 331.2,68.42 331.45,68.43 331.45,81.43 331.7,81.56 331.7,68.97 331.95,66.94 331.95,81.57 332.2,79.33 332.2,67.47 332.45,66.9 332.45,79.96 332.7,79.72 332.7,68.93 332.95,67.55 332.95,79.26 333.2,78.81 333.2,67.36 333.45,67.57 333.45,80.14 333.7,79.95 333.7,66.51 333.95,66.16 333.95,80.17 334.2,78.61 334.2,66.54 334.45,66.34 334.45,78.51 334.7,79.42 334.7,66.57 334.95,67.45 334.95,79.6 335.2,79.58 335.2,67.34 335.46,67.13 335.46,78.85 335.71,80.53 335.71,68.66 335.96,68.68 335.96,80.61 336.21,78.89 336.21,68.94 336.46,68.67 336.46,80.45 336.71,79.85 336.71,66.09 336.96,66.37 336.96,80.09 337.21,81.6 337.21,65.98 337.46,67.04 337.46,81.66 337.71,81.33 337.71,66.94 337.96,67.07 337.96,79.66 338.21,79.63 338.21,66.74 338.46,67.22 338.46,78.63 338.71,80.09 338.71,68.84 338.96,65.89 338.96,80.07 339.21,80.32 339.21,66.47 339.46,65.96 339.46,80.94 339.72,78.78 339.72,66.21 339.97,66.1 339.97,80.22 340.22,80.35 340.22,66.42 340.47,66.45 340.47,80.32 340.72,79.11 340.72,66.3 340.97,68.67 340.97,81.72 341.22,81.38 341.22,66.05 341.47,66.44 341.47,81.08 341.72,80.1 341.72,66.17 341.97,66.38 341.97,80.19 342.22,80.29 342.22,68.52 342.47,68.9 342.47,80.01 342.72,80.25 342.72,68.81 342.97,67.32 342.97,80.2 343.22,80.8 343.22,67.18 343.47,67.55 343.47,80.36 343.72,79.99 343.72,67.87 343.98,68.64 343.98,79.68 344.23,79.62 344.23,66.67 344.48,66.65 344.48,78.98 344.73,78.78 344.73,66.65 344.98,66.55 344.98,78.98 345.23,78.82 345.23,67.33 345.48,67.46 345.48,78.76 345.73,79.48 345.73,67.71 345.98,67.8 345.98,79.43 346.23,79.56 346.23,67.56 346.48,67.96 346.48,79.44 346.73,79.53 346.73,67.94 346.98,68.1 346.98,78.76 347.23,80.08 347.23,68.35 347.48,67.77 347.48,80.15 347.73,80.12 347.73,68.15 347.98,68.2 347.98,79.65 348.23,79.46 348.23,68.45 348.49,68.88 348.49,78.79 348.74,79.96 348.74,66.51 348.99,66.02 348.99,80.11 349.24,79.91 349.24,66.15 349.49,68.57 349.49,80.91 349.74,80.39 349.74,68.8 349.99,68.09 349.99,80.27 350.24,79.95 350.24,67.98 350.49,68.39 350.49,79.06 350.74,79.19 350.74,68.42 350.99,67.12 350.99,79.45 351.24,79.61 351.24,66.85 351.49,67.15 351.49,79.94 351.74,80.06 351.74,69.09 351.99,68.15 351.99,78.56 352.24,81.19 352.24,67.96 352.49,67.57 352.49,80.96 352.75,81.18 352.75,67.55 353,68.18 353,79.82 353.25,79.08 353.25,69.1 353.5,68.3 353.5,79.23 353.75,80.82 353.75,68.86 354,66.83 354,80.89 354.25,80.75 354.25,66.89 354.5,66.73 354.5,79.06 354.75,81.07 354.75,66.67" class="s"/>
<rect x="224.7" y="23.65" width="130.05" height="100.19999999999999" fill="none" stroke="#727272" stroke-width="1.25"/>
<text x="224.9" y="136.3" text-anchor="middle" class="t">0</text>
<text x="257.41" y="136.3" text-anchor="middle" class="t">2</text>
<text x="289.93" y="136.3" text-anchor="middle" class="t">4</text>
<text x="322.44" y="136.3" text-anchor="middle" class="t">6</text>
<text x="354.95" y="136.3" text-anchor="middle" class="t">8</text>
<text x="221.1" y="111.2" text-anchor="end" class="t">-1</text>
<text x="221.1" y="77.8" text-anchor="end" class="t">0</text>
<text x="221.1" y="44.4" text-anchor="end" class="t">1</text>
<path d="M224.7 123.85v-1.6M224.7 23.65v1.6M257.21 123.85v-1.6M257.21 23.65v1.6M289.73 123.85v-1.6M289.73 23.65v1.6M322.24 123.85v-1.6M322.24 23.65v1.6M354.75 123.85v-1.6M354.75 23.65v1.6M224.7 107.15h1.6M354.75 107.15h-1.6M224.7 73.75h1.6M354.75 73.75h-1.6M224.7 40.35h1.6M354.75 40.35h-1.6" stroke="#727272" stroke-width="0.8" fill="none"/>
<text x="289.73" y="13.75" text-anchor="middle" class="ti">y-axis direction</text>
<text x="290.43" y="151.9" text-anchor="middle" class="l">Time (s)</text>
<text transform="translate(204.8 73.75) rotate(-90)" text-anchor="middle" class="l">Acceleration (g)</text>
<polyline points="406.4,73.75 406.4,73.75 406.65,91.36 406.65,59.42 406.9,60.8 406.9,73.75 407.15,73.75 407.15,73.75 407.4,73.75 407.4,73.75 407.65,73.75 407.65,73.75 407.9,73.75 407.9,73.75 408.15,86.58 408.15,73.75 408.4,73.75 408.4,73.75 408.66,93.21 408.66,73.75 408.91,51.71 408.91,91.95 409.16,73.75 409.16,53.25 409.41,73.75 409.41,88.27 409.66,89.45 409.66,73.75 409.91,73.75 409.91,88.44 410.16,73.75 410.16,73.75 410.41,73.75 410.41,73.75 410.66,90.72 410.66,73.75 410.91,73.75 410.91,73.75 411.16,86.31 411.16,73.75 411.41,52.55 411.41,86.81 411.66,73.75 411.66,53.25 411.91,73.75 411.91,73.75 412.16,89.48 412.16,73.75 412.41,56.39 412.41,91.62 412.66,91.2 412.66,58.45 412.92,73.75 412.92,73.75 413.17,95.73 413.17,64.53 413.42,62.54 413.42,96.34 413.67,95.55 413.67,63.6 413.92,73.75 413.92,73.75 414.17,85.37 414.17,73.75 414.42,61.93 414.42,83.96 414.67,85.21 414.67,60.99 414.92,73.75 414.92,73.75 415.17,85.61 415.17,57.98 415.42,73.75 415.42,73.75 415.67,73.75 415.67,57.78 415.92,60.17 415.92,95.46 416.17,93.94 416.17,73.75 416.42,73.75 416.42,73.75 416.67,73.75 416.67,73.75 416.92,73.75 416.92,73.75 417.18,73.75 417.18,73.75 417.43,62.96 417.43,73.75 417.68,73.75 417.68,62.53 417.93,73.75 417.93,73.75 418.18,73.75 418.18,73.75 418.43,73.75 418.43,91.47 418.68,92.77 418.68,54.22 418.93,55.32 418.93,73.75 419.18,73.75 419.18,73.75 419.43,73.75 419.43,73.75 419.68,73.75 419.68,73.75 419.93,73.75 419.93,73.75 420.18,86.08 420.18,73.75 420.43,73.75 420.43,86.91 420.68,73.75 420.68,56.21 420.93,55.29 420.93,73.75 421.18,73.75 421.18,73.75 421.44,58.61 421.44,73.75 421.69,73.75 421.69,57.71 421.94,73.75 421.94,94.21 422.19,94.97 422.19,73.75 422.44,56.57 422.44,73.75 422.69,73.75 422.69,58.29 422.94,55.66 422.94,73.75 423.19,84.89 423.19,73.75 423.44,73.75 423.44,85.78 423.69,84.87 423.69,73.75 423.94,53.71 423.94,73.75 424.19,92.12 424.19,55.11 424.44,73.75 424.44,73.75 424.69,73.75 424.69,73.75 424.94,61.85 424.94,73.75 425.19,73.75 425.19,60.4 425.44,73.75 425.44,73.75 425.7,73.75 425.7,73.75 425.95,73.75 425.95,73.75 426.2,73.75 426.2,73.75 426.45,73.75 426.45,73.75 426.7,73.75 426.7,73.75 426.95,73.75 426.95,73.75 427.2,73.75 427.2,73.75 427.45,73.75 427.45,73.75 427.7,82.97 427.7,73.75 427.95,73.75 427.95,73.75 428.2,73.75 428.2,62.56 428.45,62.5 428.45,88.43 428.7,90.14 428.7,61.37 428.95,73.75 428.95,73.75 429.2,73.75 429.2,73.75 429.45,73.75 429.45,73.75 429.7,91.23 429.7,73.75 429.96,73.75 429.96,90.78 430.21,91.35 430.21,52.57 430.46,53.15 430.46,73.75 430.71,73.75 430.71,73.75 430.96,73.75 430.96,73.75 431.21,73.75 431.21,73.75 431.46,73.75 431.46,95.32 431.71,96.02 431.71,57.35 431.96,56.1 431.96,73.75 432.21,73.75 432.21,73.75 432.46,58.05 432.46,91.54 432.71,88.98 432.71,73.75 432.96,73.75 432.96,73.75 433.21,73.75 433.21,58.9 433.46,59.42 433.46,73.75 433.71,73.75 433.71,59.29 433.96,73.75 433.96,89.82 434.22,90.18 434.22,60.88 434.47,52.04 434.47,73.75 434.72,73.75 434.72,53.56 434.97,73.75 434.97,73.75 435.22,73.75 435.22,59.48 435.47,59.82 435.47,73.76 435.72,73.76 435.72,73.74 435.97,52.79 435.97,73.76 436.22,91.86 436.22,51.51 436.47,73.73 436.47,91.75 436.72,73.78 436.72,58.56 436.97,57.17 436.97,73.77 437.22,73.8 437.22,73.7 437.47,73.7 437.47,91.96 437.72,93.26 437.72,73.68 437.97,73.68 437.97,73.86 438.22,73.86 438.22,63.82 438.48,62.52 438.48,73.89 438.73,73.93 438.73,73.55 438.98,57.91 438.98,74.01 439.23,74.08 439.23,59.21 439.48,73.33 439.48,99.8 439.73,97.98 439.73,61.85 439.98,60.2 439.98,74.25 440.23,74.57 440.23,72.96 440.48,72.8 440.48,74.55 440.73,74.6 440.73,61.35 440.98,61.33 440.98,74.99 441.23,75.26 441.23,61.73 441.48,72.55 441.48,90.06 441.73,91.84 441.73,56.88 441.98,58.29 441.98,89.95 442.23,76.51 442.23,58.76 442.48,70.29 442.48,75.97 442.73,77.76 442.73,54.34 442.99,70.52 442.99,76.19 443.24,77.15 443.24,68.98 443.49,54.42 443.49,89.43 443.74,89.97 443.74,68.16 443.99,67.32 443.99,77.19 444.24,96.31 444.24,67.92 444.49,63.71 444.49,93.79 444.74,80.82 444.74,65.58 444.99,67.44 444.99,90.94 445.24,90.9 445.24,63 445.49,62.56 445.49,81.59 445.74,85.62 445.74,62.37 445.99,60.62 445.99,83.58 446.24,86.02 446.24,63.58 446.49,62.48 446.49,89.99 446.74,89.04 446.74,56.86 446.99,53.57 446.99,85.31 447.25,105.48 447.25,62.22 447.5,58.59 447.5,103.26 447.75,89.56 447.75,65.26 448,34.34 448,81.93 448.25,91.86 448.25,37.1 448.5,65.5 448.5,91.8 448.75,87.72 448.75,55.41 449,50.37 449,90.9 449.25,90.34 449.25,52.01 449.5,56.92 449.5,84.97 449.75,88.13 449.75,63.27 450,63.05 450,88.98 450.25,86.98 450.25,58.25 450.5,58.25 450.5,81.03 450.75,81.53 450.75,58.14 451,67.45 451,83.67 451.25,82.37 451.25,47.03 451.51,48.9 451.51,92.59 451.76,94.55 451.76,69.52 452.01,68.97 452.01,81.56 452.26,78.6 452.26,56.22 452.51,70.29 452.51,79.47 452.76,76.49 452.76,69.17 453.01,69.13 453.01,78.43 453.26,77.49 453.26,69.94 453.51,70.98 453.51,86.2 453.76,77.19 453.76,71.03 454.01,71.67 454.01,76.18 454.26,90.1 454.26,72.04 454.51,72.04 454.51,75.4 454.76,74.68 454.76,72.71 455.01,56.45 455.01,75.19 455.26,74.48 455.26,72.43 455.51,72.66 455.51,74.81 455.77,88.61 455.77,73.05 456.02,73.08 456.02,90.97 456.27,88.69 456.27,73.13 456.52,61.64 456.52,74.07 456.77,89.36 456.77,62.75 457.02,62.47 457.02,86.23 457.27,86.36 457.27,73.53 457.52,73.55 457.52,73.94 457.77,73.91 457.77,73.57 458.02,61.13 458.02,73.83 458.27,86.67 458.27,60.48 458.52,73.7 458.52,88.02 458.77,73.8 458.77,73.69 459.02,73.7 459.02,73.8 459.27,88.5 459.27,73.72 459.52,59.59 459.52,73.77 459.77,85.74 459.77,60.17 460.03,73.74 460.03,86.02 460.28,73.76 460.28,57.74 460.53,59.98 460.53,73.76 460.78,73.76 460.78,73.74 461.03,73.75 461.03,73.75 461.28,73.75 461.28,61.81 461.53,62.68 461.53,90.07 461.78,91.94 461.78,73.75 462.03,73.75 462.03,73.75 462.28,87.57 462.28,73.75 462.53,73.75 462.53,86.34 462.78,73.75 462.78,57.83 463.03,73.75 463.03,73.75 463.28,73.75 463.28,73.75 463.53,73.75 463.53,89.39 463.78,73.75 463.78,73.75 464.03,73.75 464.03,85.01 464.29,84.68 464.29,73.75 464.54,63.95 464.54,73.75 464.79,73.75 464.79,64.24 465.04,73.75 465.04,73.75 465.29,89.59 465.29,73.75 465.54,61.92 465.54,89.17 465.79,73.75 465.79,61.44 466.04,73.75 466.04,73.75 466.29,84.62 466.29,73.75 466.54,59.18 466.54,84.27 466.79,73.75 466.79,59.02 467.04,73.75 467.04,73.75 467.29,73.75 467.29,73.75 467.54,58.53 467.54,95.8 467.79,73.75 467.79,58.3 468.04,73.75 468.04,73.75 468.29,73.75 468.29,73.75 468.55,73.75 468.55,87.25 468.8,87.39 468.8,73.75 469.05,73.75 469.05,90.19 469.3,73.75 469.3,73.75 469.55,73.75 469.55,87.17 469.8,86.37 469.8,73.75 470.05,57.25 470.05,87.19 470.3,73.75 470.3,54.16 470.55,56.66 470.55,86.37 470.8,86.13 470.8,73.75 471.05,59.66 471.05,85.26 471.3,73.75 471.3,59.84 471.55,73.75 471.55,90.55 471.8,91.52 471.8,73.75 472.05,73.75 472.05,89.03 472.3,73.75 472.3,73.75 472.55,73.75 472.55,73.75 472.81,91.45 472.81,56.85 473.06,56.55 473.06,93.27 473.31,73.75 473.31,73.75 473.56,73.75 473.56,92.98 473.81,91.63 473.81,73.75 474.06,73.75 474.06,73.75 474.31,73.75 474.31,73.75 474.56,73.74 474.56,91.44 474.81,88.81 474.81,61.3 475.06,60.59 475.06,89.36 475.31,73.89 475.31,73.58 475.56,73.44 475.56,73.96 475.81,74.55 475.81,72.79 476.06,71.34 476.06,75.12 476.31,75.24 476.31,70.36 476.56,65.73 476.56,78.99 476.81,80.2 476.81,65.21 477.07,59.34 477.07,81.49 477.32,86.7 477.32,50.99 477.57,53.8 477.57,89.14 477.82,88.49 477.82,59.31 478.07,52.3 478.07,85.82 478.32,85.17 478.32,62.43 478.57,59.36 478.57,80.08 478.82,77.62 478.82,59.1 479.07,56.97 479.07,77.41 479.32,90.49 479.32,59.02 479.57,72.33 479.57,90.64 479.82,112.16 479.82,72.89 480.07,47.03 480.07,109.47 480.32,90.33 480.32,48.9 480.57,73.69 480.57,87.72 480.82,73.76 480.82,73.74 481.07,73.75 481.07,73.75 481.33,73.75 481.33,59.23 481.58,59.62 481.58,89.62 481.83,73.75 481.83,73.75 482.08,73.75 482.08,73.75 482.33,73.75 482.33,73.75 482.58,61.34 482.58,73.75 482.83,87.86 482.83,60.21 483.08,73.75 483.08,88.37 483.33,73.75 483.33,73.75 483.58,73.75 483.58,73.75 483.83,73.75 483.83,62.61 484.08,61.01 484.08,86.26 484.33,84.9 484.33,73.75 484.58,73.75 484.58,84.96 484.83,73.75 484.83,62.77 485.08,73.75 485.08,73.75 485.33,73.75 485.33,73.75 485.59,73.75 485.59,73.75 485.84,73.75 485.84,54.21 486.09,73.75 486.09,86.32 486.34,86.37 486.34,57.03 486.59,73.75 486.59,73.75 486.84,92.94 486.84,73.75 487.09,73.75 487.09,90.33 487.34,73.75 487.34,73.75 487.59,57.51 487.59,92.68 487.84,91.87 487.84,56.89 488.09,73.75 488.09,73.75 488.34,73.75 488.34,73.75 488.59,73.75 488.59,73.75 488.84,73.75 488.84,57.72 489.09,57.16 489.09,85.8 489.34,88.85 489.34,59.43 489.59,73.75 489.59,73.75 489.85,73.75 489.85,60.54 490.1,59.06 490.1,73.75 490.35,73.75 490.35,73.75 490.6,73.75 490.6,73.75 490.85,73.75 490.85,73.75 491.1,73.75 491.1,73.75 491.35,73.75 491.35,73.75 491.6,62.28 491.6,83.57 491.85,84.97 491.85,62.37 492.1,73.75 492.1,85 492.35,73.75 492.35,73.75 492.6,73.75 492.6,87.73 492.85,89.04 492.85,73.75 493.1,61.18 493.1,73.75 493.35,73.75 493.35,58.45 493.6,61.4 493.6,73.75 493.85,73.75 493.85,73.75 494.11,57.98 494.11,90.15 494.36,90.15 494.36,73.75 494.61,73.75 494.61,73.75 494.86,73.75 494.86,73.75 495.11,62.34 495.11,73.75 495.36,73.75 495.36,61.77 495.61,73.75 495.61,73.75 495.86,85.79 495.86,73.75 496.11,73.75 496.11,87.67 496.36,73.75 496.36,58.07 496.61,58.94 496.61,73.75 496.86,73.75 496.86,73.75 497.11,55.01 497.11,91.13 497.36,91.57 497.36,54.44 497.61,73.75 497.61,90.99 497.86,73.75 497.86,56.59 498.11,55.93 498.11,73.75 498.37,73.75 498.37,73.75 498.62,73.75 498.62,73.75 498.87,73.75 498.87,73.75 499.12,73.75 499.12,85.71 499.37,85.14 499.37,59.94 499.62,57.87 499.62,73.75 499.87,73.75 499.87,58.54 500.12,73.75 500.12,84.3 500.37,84.8 500.37,60.28 500.62,59.13 500.62,73.75 500.87,91.03 500.87,60.97 501.12,73.75 501.12,91.43 501.37,73.75 501.37,73.75 501.62,73.75 501.62,73.75 501.87,73.75 501.87,57.31 502.12,56.77 502.12,73.75 502.37,89.68 502.37,73.75 502.62,55.74 502.62,87.18 502.88,87.43 502.88,54.57 503.13,54.75 503.13,73.75 503.38,73.75 503.38,73.75 503.63,73.75 503.63,73.75 503.88,73.75 503.88,73.75 504.13,73.75 504.13,88.93 504.38,73.75 504.38,73.75 504.63,73.75 504.63,91.09 504.88,91.75 504.88,51.45 505.13,73.75 505.13,91.93 505.38,73.75 505.38,59.31 505.63,59.21 505.63,73.75 505.88,73.75 505.88,73.75 506.13,73.75 506.13,73.75 506.38,91.1 506.38,61.09 506.63,73.75 506.63,90.24 506.88,73.75 506.88,61.46 507.14,62.46 507.14,73.75 507.39,73.75 507.39,73.75 507.64,73.75 507.64,73.75 507.89,73.75 507.89,73.75 508.14,73.75 508.14,73.75 508.39,92.42 508.39,73.75 508.64,59.74 508.64,93.44 508.89,73.75 508.89,62.43 509.14,73.75 509.14,73.75 509.39,73.75 509.39,73.75 509.64,60.7 509.64,73.75 509.89,73.75 509.89,60.89 510.14,73.75 510.14,73.75 510.39,73.75 510.39,73.75 510.64,73.75 510.64,73.75 510.89,73.75 510.89,62.79 511.14,61.42 511.14,73.75 511.4,88.22 511.4,73.75 511.65,73.75 511.65,85.46 511.9,73.75 511.9,73.75 512.15,73.75 512.15,73.75 512.4,82.44 512.4,73.75 512.65,73.75 512.65,82.38 512.9,73.75 512.9,73.75 513.15,73.75 513.15,73.75 513.4,73.75 513.4,73.75 513.65,73.75 513.65,73.75 513.9,73.75 513.9,73.75 514.15,62.48 514.15,84.66 514.4,86.51 514.4,62.6 514.65,73.75 514.65,73.75 514.9,87.86 514.9,73.75 515.15,73.75 515.15,88.25 515.4,73.75 515.4,73.75 515.66,73.75 515.66,73.75 515.91,73.75 515.91,73.75 516.16,73.75 516.16,85.5 516.41,84.91 516.41,60.12 516.66,62.06 516.66,73.75 516.91,86.53 516.91,73.75 517.16,73.75 517.16,87.06 517.41,88.55 517.41,73.75 517.66,73.75 517.66,73.75 517.91,73.75 517.91,73.75 518.16,57.86 518.16,73.75 518.41,73.75 518.41,61.2 518.66,58.66 518.66,73.75 518.91,73.76 518.91,73.74 519.16,73.74 519.16,73.76 519.41,73.76 519.41,73.73 519.66,60.31 519.66,92.57 519.92,93.73 519.92,73.71 520.17,73.67 520.17,73.8 520.42,84.65 520.42,73.66 520.67,55.08 520.67,85.3 520.92,73.96 520.92,55.46 521.17,73.49 521.17,74.03 521.42,91.05 521.42,73.23 521.67,60.57 521.67,74.18 521.92,89.09 521.92,61.64 522.17,72.28 522.17,89.27 522.42,74.94 522.42,72.64 522.67,71.74 522.67,75.75 522.92,86.62 522.92,70.9 523.17,58.57 523.17,76.27 523.42,92.8 523.42,60.76 523.67,67.26 523.67,92.34 523.92,91.5 523.92,66.32 524.18,53.36 524.18,78.75 524.43,88.55 524.43,54.45 524.68,62.78 524.68,88.76 524.93,88.83 524.93,56.06 525.18,54.6 525.18,81.92 525.43,87.46 525.43,53.81 525.68,52.53 525.68,90.99 525.93,88.26 525.93,54.25 526.18,58.94 526.18,88.81 526.43,90.46 526.43,50.8 526.68,47.7 526.68,92.3 526.93,84.66 526.93,49.52 527.18,55.84 527.18,86.13 527.43,84 527.43,57.87 527.68,54.15 527.68,90.42 527.93,88.24 527.93,58.07 528.18,55.38 528.18,89.02 528.44,88.26 528.44,60.73 528.69,60.34 528.69,80.96 528.94,82.25 528.94,60.31 529.19,60.94 529.19,78.39 529.44,86.53 529.44,60.01 529.69,69.57 529.69,79.47 529.94,78.4 529.94,68.76 530.19,70.63 530.19,76.36 530.44,87.82 530.44,70.09 530.69,71.3 530.69,88 530.94,75.21 530.94,72.43 531.19,56.28 531.19,74.59 531.44,90.03 531.44,52.74 531.69,72.94 531.69,74.22 531.94,74 531.94,73.23 532.19,73.48 532.19,73.92 532.44,73.9 532.44,73.61 532.7,73.59 532.7,73.9 532.95,73.83 532.95,73.66 533.2,73.7 533.2,73.8 533.45,73.78 533.45,73.71 533.7,73.72 533.7,87.86 533.95,86.29 533.95,73.73 534.2,57.87 534.2,85.85 534.45,73.75 534.45,58.91 534.7,73.75 534.7,85.97" class="k"/>
<polyline points="406.4,68.19 406.4,79.71 406.65,81.02 406.65,67.3 406.9,67.99 406.9,81.49 407.15,81.12 407.15,66.49 407.4,65.81 407.4,81.51 407.65,81.48 407.65,66.15 407.9,64.95 407.9,81.37 408.15,82.33 408.15,65.02 408.4,65.11 408.4,81.45 408.66,81.69 408.66,65.11 408.91,66.03 408.91,80.98 409.16,81.93 409.16,65.99 409.41,65.95 409.41,81.61 409.66,81.93 409.66,67.65 409.91,67.41 409.91,79.79 410.16,82.3 410.16,68.17 410.41,66.58 410.41,82.16 410.66,81.97 410.66,66.4 410.91,66.49 410.91,79.28 411.16,79.55 411.16,66.76 411.41,67.47 411.41,79.75 411.66,81.09 411.66,67.55 411.91,67.41 411.91,80.56 412.16,80.38 412.16,65.57 412.41,65.08 412.41,80.82 412.66,79.67 412.66,68 412.92,66.84 412.92,79.89 413.17,82.58 413.17,67.01 413.42,66.95 413.42,82.2 413.67,82.07 413.67,66.66 413.92,67.56 413.92,80.79 414.17,80.51 414.17,67.05 414.42,68.1 414.42,79.51 414.67,82 414.67,67.27 414.92,68.13 414.92,81.81 415.17,81.97 415.17,67.4 415.42,67.73 415.42,82.73 415.67,81.97 415.67,64.33 415.92,65.52 415.92,80.63 416.17,80.15 416.17,65.35 416.42,64.92 416.42,80.38 416.67,80.25 416.67,65.33 416.92,67.82 416.92,79.7 417.18,79.53 417.18,66.42 417.43,66.48 417.43,79.35 417.68,80.54 417.68,65.92 417.93,67.68 417.93,80.42 418.18,80.61 418.18,68.02 418.43,68.14 418.43,79.77 418.68,81.64 418.68,67.07 418.93,68.1 418.93,81.34 419.18,81.71 419.18,66.21 419.43,66.12 419.43,79.54 419.68,82.71 419.68,65.15 419.93,65.36 419.93,82.53 420.18,83.82 420.18,65.18 420.43,65.37 420.43,81.53 420.68,81.49 420.68,67.01 420.93,66.45 420.93,81.53 421.18,82.73 421.18,66.94 421.44,67 421.44,83.39 421.69,83.19 421.69,67.58 421.94,67.34 421.94,82.19 422.19,83.25 422.19,66.43 422.44,67.1 422.44,79.99 422.69,80.24 422.69,67.54 422.94,65.51 422.94,80.85 423.19,80.61 423.19,65.67 423.44,65.46 423.44,82.55 423.69,82.75 423.69,67.61 423.94,67.65 423.94,83.03 424.19,83.22 424.19,65.77 424.44,65.4 424.44,82.79 424.69,82.59 424.69,65.8 424.94,65.92 424.94,82.36 425.19,82.69 425.19,67.56 425.44,65.2 425.44,82.1 425.7,83.17 425.7,65.15 425.95,65.17 425.95,80.07 426.2,79.5 426.2,64.87 426.45,67.05 426.45,79.95 426.7,79.83 426.7,65.03 426.95,64.35 426.95,82.13 427.2,81.62 427.2,65.12 427.45,65.49 427.45,81.19 427.7,80.5 427.7,65.59 427.95,66.38 427.95,80.66 428.2,80.7 428.2,66.54 428.45,65.84 428.45,79.57 428.7,80.3 428.7,65.87 428.95,67.73 428.95,80.39 429.2,83.69 429.2,64.91 429.45,65.12 429.45,82.78 429.7,82.41 429.7,65.59 429.96,65.18 429.96,81.48 430.21,81.99 430.21,65.5 430.46,65.67 430.46,82.34 430.71,81.35 430.71,65.8 430.96,66.2 430.96,81.03 431.21,82.06 431.21,65.82 431.46,65.97 431.46,82.7 431.71,82.76 431.71,65.43 431.96,67.26 431.96,80.35 432.21,80.15 432.21,67.08 432.46,67.83 432.46,80.58 432.71,80.36 432.71,67.22 432.96,67.14 432.96,80.16 433.21,80.93 433.21,67.23 433.46,67.03 433.46,80.47 433.71,79.75 433.71,66.28 433.96,67.03 433.96,79.72 434.22,81.3 434.22,64.94 434.47,65.14 434.47,81.22 434.72,81.26 434.72,64.74 434.97,67.17 434.97,82.8 435.22,83.02 435.22,67.56 435.47,67.33 435.47,83.51 435.72,82.69 435.72,64.54 435.97,64.09 435.97,81.33 436.22,81.44 436.22,64.14 436.47,63.65 436.47,81.26 436.72,81.12 436.72,67.01 436.97,66.82 436.97,81.28 437.22,80.39 437.22,66.05 437.47,64.31 437.47,82.13 437.72,81.49 437.72,64.67 437.97,65.13 437.97,81.79 438.22,81.57 438.22,64.75 438.48,67.97 438.48,82.32 438.73,80.97 438.73,66.29 438.98,66.33 438.98,79.61 439.23,81.25 439.23,66.46 439.48,65.92 439.48,82 439.73,81.13 439.73,65.62 439.98,65.56 439.98,80.91 440.23,81.1 440.23,66.22 440.48,67.94 440.48,82.41 440.73,82.45 440.73,66.68 440.98,66.54 440.98,82.01 441.23,81.45 441.23,67.13 441.48,67.12 441.48,81 441.73,81.9 441.73,68.13 441.98,68.19 441.98,79.54 442.23,80.7 442.23,64.97 442.48,65.64 442.48,79.74 442.73,80.6 442.73,65.09 442.99,64.85 442.99,79.37 443.24,80.46 443.24,67.65 443.49,64.51 443.49,80.58 443.74,80.54 443.74,64.88 443.99,66.68 443.99,80.67 444.24,80.13 444.24,66.18 444.49,66.59 444.49,80.29 444.74,80.61 444.74,66.52 444.99,66.81 444.99,80.88 445.24,81.08 445.24,66.61 445.49,66.08 445.49,80.88 445.74,80.91 445.74,66.39 445.99,63.39 445.99,82.08 446.24,82.69 446.24,63.19 446.49,62.48 446.49,83.69 446.74,83.13 446.74,61.79 446.99,59.96 446.99,83.6 447.25,86.28 447.25,61.04 447.5,59.08 447.5,87.36 447.75,88.16 447.75,60.45 448,60.61 448,88.5 448.25,86.37 448.25,60.01 448.5,62.67 448.5,88.12 448.75,86.49 448.75,60.5 449,63.23 449,86.88 449.25,86.03 449.25,64.61 449.5,64.73 449.5,86.5 449.75,84.46 449.75,63.24 450,64.39 450,83.48 450.25,82.9 450.25,63.8 450.5,66.52 450.5,81.94 450.75,80.09 450.75,65.67 451,66.77 451,82.43 451.25,81.81 451.25,66.66 451.51,67.81 451.51,81.35 451.76,79.76 451.76,67.98 452.01,66.57 452.01,79.59 452.26,81.76 452.26,66.7 452.51,66.19 452.51,81.04 452.76,80.7 452.76,65.61 453.01,66.77 453.01,80.03 453.26,79.02 453.26,67.53 453.51,68.52 453.51,81.66 453.76,81.31 453.76,68.62 454.01,67.51 454.01,80.91 454.26,78.74 454.26,68.58 454.51,68.73 454.51,78.78 454.76,79.92 454.76,67.73 455.01,67.75 455.01,79.27 455.26,79.69 455.26,67.46 455.51,68.45 455.51,79.43 455.77,79.25 455.77,68.33 456.02,66.14 456.02,79 456.27,78.86 456.27,65.64 456.52,66.15 456.52,79.66 456.77,80.9 456.77,68.68 457.02,68.37 457.02,80.82 457.27,80.58 457.27,68.56 457.52,68.22 457.52,80.94 457.77,80.52 457.77,68.36 458.02,68.04 458.02,80.81 458.27,80.79 458.27,67.01 458.52,67.46 458.52,81.1 458.77,80.25 458.77,67.15 459.02,67.28 459.02,78.85 459.27,78.73 459.27,66.8 459.52,67.48 459.52,79.47 459.77,79.16 459.77,67.21 460.03,66.86 460.03,80.5 460.28,80.49 460.28,66.95 460.53,67.78 460.53,81.28 460.78,81.66 460.78,67.79 461.03,68.11 461.03,81.27 461.28,81.12 461.28,68 461.53,68.4 461.53,79.46 461.78,78.84 461.78,67.57 462.03,68.08 462.03,79.29 462.28,79.57 462.28,67.95 462.53,67.55 462.53,79.32 462.78,79.82 462.78,68.73 463.03,67.9 463.03,80.66 463.28,80.07 463.28,67.23 463.53,67.54 463.53,79.37 463.78,80.97 463.78,66.9 464.03,68.14 464.03,81.92 464.29,81.27 464.29,66.19 464.54,66.13 464.54,81.14 464.79,79.82 464.79,66.88 465.04,68.4 465.04,80.52 465.29,80.55 465.29,68.23 465.54,68.43 465.54,80.83 465.79,79.91 465.79,66.76 466.04,67.02 466.04,79.45 466.29,79.5 466.29,67.23 466.54,65.21 466.54,79.93 466.79,80.14 466.79,65.4 467.04,65.17 467.04,81.74 467.29,81.58 467.29,64.83 467.54,63.68 467.54,81.12 467.79,81.08 467.79,67.49 468.04,66.95 468.04,80.96 468.29,81.31 468.29,66.66 468.55,65.96 468.55,80.91 468.8,81.24 468.8,66.82 469.05,67.17 469.05,80.88 469.3,80.92 469.3,65.22 469.55,64.52 469.55,81.26 469.8,81.18 469.8,64.28 470.05,66.37 470.05,80.82 470.3,81.15 470.3,65.76 470.55,65.37 470.55,81.8 470.8,80.22 470.8,67.59 471.05,67.19 471.05,81.76 471.3,82.08 471.3,65.24 471.55,64.74 471.55,81.37 471.8,80.74 471.8,65.29 472.05,65.42 472.05,79.6 472.3,81.78 472.3,67.62 472.55,66.83 472.55,81.44 472.81,81.58 472.81,67.08 473.06,66.5 473.06,79.61 473.31,80.21 473.31,67.16 473.56,67.1 473.56,80.66 473.81,80.76 473.81,66.84 474.06,66.99 474.06,83.52 474.31,82.63 474.31,67.39 474.56,67.22 474.56,82.96 474.81,83.45 474.81,64.37 475.06,64.21 475.06,81.26 475.31,80.65 475.31,64.81 475.56,65.02 475.56,81.23 475.81,80.69 475.81,64.63 476.06,63.63 476.06,82.08 476.31,83.37 476.31,64.09 476.56,64.55 476.56,83.11 476.81,83.15 476.81,63.16 477.07,63.77 477.07,81.97 477.32,82.69 477.32,64.33 477.57,63.28 477.57,83.04 477.82,83.52 477.82,62.82 478.07,60.53 478.07,83.87 478.32,84 478.32,61.14 478.57,61.7 478.57,85.21 478.82,83.88 478.82,63.2 479.07,62.78 479.07,82.91 479.32,83.33 479.32,61.84 479.57,64.1 479.57,84.69 479.82,84.86 479.82,64.05 480.07,64.48 480.07,83.74 480.32,82.07 480.32,66.41 480.57,64.58 480.57,81.16 480.82,81.38 480.82,64.99 481.07,64.55 481.07,80.94 481.33,81.11 481.33,64.82 481.58,64.38 481.58,81.48 481.83,80.41 481.83,64.65 482.08,66.66 482.08,80.5 482.33,80.92 482.33,66.54 482.58,66.57 482.58,79.26 482.83,79.56 482.83,66.41 483.08,65.96 483.08,81.54 483.33,81.49 483.33,68.2 483.58,68.05 483.58,81.39 483.83,81.63 483.83,67.22 484.08,68.32 484.08,79.36 484.33,80.49 484.33,65.59 484.58,67.11 484.58,79.9 484.83,79.82 484.83,68.85 485.08,66.64 485.08,78.64 485.33,80.69 485.33,66.56 485.59,66.06 485.59,80.93 485.84,78.88 485.84,66.25 486.09,65.6 486.09,82.02 486.34,81.72 486.34,67.03 486.59,67.18 486.59,81.89 486.84,79.6 486.84,67.02 487.09,67.9 487.09,80.1 487.34,79.91 487.34,65.06 487.59,65.78 487.59,79.36 487.84,79.78 487.84,68.21 488.09,68.55 488.09,79.43 488.34,79.39 488.34,68.52 488.59,67.05 488.59,79.61 488.84,79.07 488.84,66.89 489.09,66.62 489.09,79.93 489.34,81.15 489.34,66.54 489.59,66.71 489.59,80.5 489.85,79.13 489.85,66.44 490.1,65.98 490.1,79.59 490.35,79.13 490.35,67.79 490.6,67.58 490.6,80.99 490.85,80.41 490.85,67.33 491.1,67.24 491.1,80.4 491.35,80.29 491.35,67.59 491.6,66.8 491.6,79.19 491.85,80.08 491.85,67.38 492.1,67.23 492.1,80.34 492.35,80.57 492.35,68.38 492.6,64.97 492.6,80.47 492.85,81.69 492.85,65.37 493.1,64.72 493.1,80.61 493.35,79.39 493.35,65.51 493.6,65.6 493.6,79.49 493.85,79.6 493.85,68.39 494.11,68.45 494.11,79.69 494.36,79.63 494.36,66.29 494.61,66.73 494.61,79.73 494.86,81.05 494.86,67.32 495.11,67.38 495.11,81.06 495.36,81.02 495.36,67.11 495.61,67.66 495.61,81.11 495.86,81.11 495.86,67.35 496.11,67.7 496.11,81.42 496.36,81.44 496.36,67.64 496.61,65.43 496.61,79.57 496.86,79.72 496.86,64.47 497.11,65.06 497.11,82.05 497.36,82.07 497.36,66.27 497.61,66.54 497.61,82.28 497.86,81.86 497.86,65.19 498.11,65.51 498.11,81.8 498.37,81.08 498.37,66.99 498.62,67.87 498.62,80.43 498.87,80.49 498.87,67.11 499.12,66.85 499.12,80.6 499.37,81.15 499.37,67.98 499.62,66.66 499.62,80.45 499.87,81.78 499.87,67.43 500.12,67.04 500.12,82.04 500.37,81.48 500.37,66.52 500.62,67.24 500.62,80.85 500.87,80.82 500.87,65.42 501.12,65.36 501.12,79.73 501.37,79.54 501.37,64.56 501.62,65.3 501.62,80.43 501.87,81.12 501.87,67.52 502.12,67.77 502.12,80.65 502.37,80.58 502.37,64.3 502.62,65.61 502.62,80.32 502.88,79.48 502.88,64.96 503.13,67.2 503.13,81.38 503.38,81.62 503.38,67.41 503.63,67.19 503.63,81.34 503.88,81.37 503.88,66.86 504.13,65.63 504.13,82.1 504.38,79.67 504.38,65.38 504.63,65.98 504.63,81.49 504.88,81.68 504.88,64.95 505.13,64.67 505.13,81.76 505.38,80.08 505.38,66.71 505.63,65.21 505.63,80.46 505.88,80.43 505.88,64.8 506.13,67.67 506.13,79.71 506.38,79.19 506.38,67.41 506.63,67.65 506.63,80.15 506.88,80.91 506.88,66 507.14,66.09 507.14,79.98 507.39,79.1 507.39,66.77 507.64,66.58 507.64,80.43 507.89,80.4 507.89,66.49 508.14,68.24 508.14,80.38 508.39,80.47 508.39,66.4 508.64,66.04 508.64,79.65 508.89,81.78 508.89,65.82 509.14,65.64 509.14,81.2 509.39,81.39 509.39,66.23 509.64,66.32 509.64,81.27 509.89,81.2 509.89,66.47 510.14,67.1 510.14,79.72 510.39,79.3 510.39,67.23 510.64,67.17 510.64,79.61 510.89,79.09 510.89,67.57 511.14,67.45 511.14,78.98 511.4,78.57 511.4,67.42 511.65,67.14 511.65,78.78 511.9,79.46 511.9,67.43 512.15,67.46 512.15,78.64 512.4,79.06 512.4,68.85 512.65,67.14 512.65,78.64 512.9,80.09 512.9,67.72 513.15,69.03 513.15,80.08 513.4,80.17 513.4,67.89 513.65,67.41 513.65,78.9 513.9,78.17 513.9,67.79 514.15,67.85 514.15,79.69 514.4,79.63 514.4,67.8 514.65,69.08 514.65,80.54 514.9,78.68 514.9,68.81 515.15,68.69 515.15,78.67 515.4,78.92 515.4,68.58 515.66,68.56 515.66,79.89 515.91,79.48 515.91,68.38 516.16,67.95 516.16,80.14 516.41,79.99 516.41,68.03 516.66,68.58 516.66,79.84 516.91,80.15 516.91,68.86 517.16,67.84 517.16,79.92 517.41,79.83 517.41,67.97 517.66,67.7 517.66,79.31 517.91,79.1 517.91,66.69 518.16,66.31 518.16,81.25 518.41,81.91 518.41,66.82 518.66,66.57 518.66,81.89 518.91,79.2 518.91,66.04 519.16,66.24 519.16,78.83 519.41,79.5 519.41,65.66 519.66,65.63 519.66,80.29 519.92,80.19 519.92,65.13 520.17,65.15 520.17,80.24 520.42,79.85 520.42,68.02 520.67,65.83 520.67,80.04 520.92,82.43 520.92,65.16 521.17,64.69 521.17,82.53 521.42,82.29 521.42,65.9 521.67,65.45 521.67,82.8 521.92,82.98 521.92,67.12 522.17,67.28 522.17,80.48 522.42,82.35 522.42,65.06 522.67,65.24 522.67,82.92 522.92,82.27 522.92,66.99 523.17,66.67 523.17,81.34 523.42,80.95 523.42,66.82 523.67,66.12 523.67,81.79 523.92,82.18 523.92,66.4 524.18,66.49 524.18,82.44 524.43,82.79 524.43,65.23 524.68,65.87 524.68,81.49 524.93,81.42 524.93,65.59 525.18,64.82 525.18,82.55 525.43,83.06 525.43,64.26 525.68,64.21 525.68,82.82 525.93,82.92 525.93,65.9 526.18,64.85 526.18,83.14 526.43,83.53 526.43,64.87 526.68,64.34 526.68,82.37 526.93,83.43 526.93,65.02 527.18,64.94 527.18,83.78 527.43,82.5 527.43,63.11 527.68,63.6 527.68,82.18 527.93,82.05 527.93,62.71 528.18,62.77 528.18,82.01 528.44,82.18 528.44,64.84 528.69,64.09 528.69,82.92 528.94,83.11 528.94,65.34 529.19,65.43 529.19,82.6 529.44,83.28 529.44,65.28 529.69,63.16 529.69,81.79 529.94,82.41 529.94,62.68 530.19,63.8 530.19,83.09 530.44,81.61 530.44,63.14 530.69,63.5 530.69,81.67 530.94,81.37 530.94,66 531.19,67.12 531.19,82.49 531.44,82.94 531.44,67.1 531.69,67.03 531.69,82.55 531.94,82.96 531.94,66.6 532.19,67.47 532.19,82.48 532.44,81.73 532.44,67 532.7,64.94 532.7,81.84 532.95,81.68 532.95,64.52 533.2,65.55 533.2,81.57 533.45,81.74 533.45,65.76 533.7,65.93 533.7,80.39 533.95,79.54 533.95,66.52 534.2,67.69 534.2,81.54 534.45,81.16 534.45,67.9 534.7,67.67 534.7,81.44" class="s"/>
<rect x="406.4" y="23.65" width="128.30000000000007" height="100.19999999999999" fill="none" stroke="#727272" stroke-width="1.25"/>
<text x="406.6" y="136.3" text-anchor="middle" class="t">0</text>
<text x="438.68" y="136.3" text-anchor="middle" class="t">2</text>
<text x="470.75" y="136.3" text-anchor="middle" class="t">4</text>
<text x="502.82" y="136.3" text-anchor="middle" class="t">6</text>
<text x="534.9" y="136.3" text-anchor="middle" class="t">8</text>
<text x="402.8" y="111.2" text-anchor="end" class="t">-1</text>
<text x="402.8" y="77.8" text-anchor="end" class="t">0</text>
<text x="402.8" y="44.4" text-anchor="end" class="t">1</text>
<path d="M406.4 123.85v-1.6M406.4 23.65v1.6M438.48 123.85v-1.6M438.48 23.65v1.6M470.55 123.85v-1.6M470.55 23.65v1.6M502.62 123.85v-1.6M502.62 23.65v1.6M534.7 123.85v-1.6M534.7 23.65v1.6M406.4 107.15h1.6M534.7 107.15h-1.6M406.4 73.75h1.6M534.7 73.75h-1.6M406.4 40.35h1.6M534.7 40.35h-1.6" stroke="#727272" stroke-width="0.8" fill="none"/>
<text x="470.55" y="13.75" text-anchor="middle" class="ti">z-axis direction</text>
<text x="471.25" y="151.9" text-anchor="middle" class="l">Time (s)</text>
<text transform="translate(387.4 73.75) rotate(-90)" text-anchor="middle" class="l">Acceleration (g)</text>
<polyline points="43.2,285.5 43.2,285.5 43.45,285.5 43.45,232.04 43.7,237.39 43.7,285.5 43.95,285.5 43.95,285.5 44.2,244.84 44.2,285.5 44.45,285.5 44.45,285.5 44.71,255.23 44.71,285.5 44.96,285.5 44.96,285.5 45.21,285.5 45.21,285.5 45.46,285.5 45.46,267.88 45.71,285.5 45.71,285.5 45.96,285.5 45.96,285.5 46.21,273.21 46.21,285.5 46.46,285.5 46.46,271.76 46.71,285.5 46.71,285.5 46.96,285.5 46.96,285.5 47.21,285.5 47.21,285.5 47.46,285.5 47.46,261.61 47.72,264 47.72,285.5 47.97,285.5 47.97,268.93 48.22,285.5 48.22,285.5 48.47,285.5 48.47,285.5 48.72,256.63 48.72,285.5 48.97,285.5 48.97,259.52 49.22,285.5 49.22,285.5 49.47,285.5 49.47,285.5 49.72,285.5 49.72,285.5 49.97,285.5 49.97,285.5 50.22,281.73 50.22,285.5 50.48,285.5 50.48,285.5 50.73,285.5 50.73,285.5 50.98,285.5 50.98,285.5 51.23,285.5 51.23,285.5 51.48,285.5 51.48,285.5 51.73,284.01 51.73,285.5 51.98,285.5 51.98,284.03 52.23,285.5 52.23,285.5 52.48,285.5 52.48,285.5 52.73,285.5 52.73,285.5 52.98,285.5 52.98,283.26 53.23,283.25 53.23,285.5 53.49,285.5 53.49,285.5 53.74,285.5 53.74,285.5 53.99,285.5 53.99,285.5 54.24,285.5 54.24,285.5 54.49,285.5 54.49,285.5 54.74,283.91 54.74,285.5 54.99,285.5 54.99,283.94 55.24,283.9 55.24,285.5 55.49,285.5 55.49,285.5 55.74,283.03 55.74,285.5 55.99,285.5 55.99,285.5 56.25,281.97 56.25,285.5 56.5,285.5 56.5,280.93 56.75,285.5 56.75,285.5 57,285.5 57,279.35 57.25,278.33 57.25,285.5 57.5,285.5 57.5,285.5 57.75,272.2 57.75,285.5 58,285.5 58,285.5 58.25,266.98 58.25,285.5 58.5,285.5 58.5,268.84 58.75,285.5 58.75,285.5 59,285.5 59,285.5 59.26,277.94 59.26,285.5 59.51,285.5 59.51,285.5 59.76,276.33 59.76,285.5 60.01,285.5 60.01,276.67 60.26,285.5 60.26,285.5 60.51,285.5 60.51,285.5 60.76,285.5 60.76,285.5 61.01,285.5 61.01,285.5 61.26,285.5 61.26,285.5 61.51,285.5 61.51,285.5 61.76,285.5 61.76,285.5 62.02,285.5 62.02,285.5 62.27,240.7 62.27,285.5 62.52,285.5 62.52,245.18 62.77,228.06 62.77,285.5 63.02,285.5 63.02,233.8 63.27,243.3 63.27,285.5 63.52,285.5 63.52,247.06 63.77,285.5 63.77,285.5 64.02,285.5 64.02,243.86 64.27,245.68 64.27,285.5 64.52,285.5 64.52,249.66 64.77,234.13 64.77,285.5 65.03,285.5 65.03,239.27 65.28,285.5 65.28,285.5 65.53,285.5 65.53,285.5 65.78,285.5 65.78,285.5 66.03,285.5 66.03,285.5 66.28,270.21 66.28,285.5 66.53,285.5 66.53,273.45 66.78,285.5 66.78,285.5 67.03,285.5 67.03,285.5 67.28,285.5 67.28,285.5 67.53,285.5 67.53,285.5 67.79,285.5 67.79,285.5 68.04,285.5 68.04,285.5 68.29,285.5 68.29,285.5 68.54,285.5 68.54,285.5 68.79,278.55 68.79,285.5 69.04,285.5 69.04,279.04 69.29,285.5 69.29,285.5 69.54,285.5 69.54,285.5 69.79,285.5 69.79,285.5 70.04,285.5 70.04,285.5 70.29,285.5 70.29,285.5 70.54,285.5 70.54,285.5 70.8,279.08 70.8,285.5 71.05,285.5 71.05,279.12 71.3,285.5 71.3,285.5 71.55,285.5 71.55,279.33 71.8,279.46 71.8,285.5 72.05,285.5 72.05,279.45 72.3,285.5 72.3,285.5 72.55,285.5 72.55,285.5 72.8,285.5 72.8,285.5 73.05,285.5 73.05,285.5 73.3,285.5 73.3,285.5 73.56,285.5 73.56,285.5 73.81,281.68 73.81,285.5 74.06,285.5 74.06,285.5 74.31,285.5 74.31,285.5 74.56,285.5 74.56,285.5 74.81,282.37 74.81,285.5 75.06,285.5 75.06,282.53 75.31,282.66 75.31,285.5 75.56,285.5 75.56,285.5 75.81,285.5 75.81,285.5 76.06,285.5 76.06,285.5 76.31,285.5 76.31,285.5 76.57,285.5 76.57,285.5 76.82,283.91 76.82,285.5 77.07,285.5 77.07,284.03 77.32,285.5 77.32,285.5 77.57,285.5 77.57,285.5 77.82,283.82 77.82,285.5 78.07,285.5 78.07,283.86 78.32,285.5 78.32,285.5 78.57,285.5 78.57,284.43 78.82,284.45 78.82,285.5 79.07,285.5 79.07,285.5 79.33,285.5 79.33,285.5 79.58,285.5 79.58,285.5 79.83,284.1 79.83,285.5 80.08,285.5 80.08,284.13 80.33,285.5 80.33,285.5 80.58,285.5 80.58,285.5 80.83,285.5 80.83,285.5 81.08,285.5 81.08,285.5 81.33,285.5 81.33,285.5 81.58,285.5 81.58,285.5 81.83,285.5 81.83,285.5 82.08,285.5 82.08,285.5 82.34,284.33 82.34,285.5 82.59,285.5 82.59,285.5 82.84,285.5 82.84,285.5 83.09,285.5 83.09,285.5 83.34,285.5 83.34,285.5 83.59,285.5 83.59,284.48 83.84,285.5 83.84,285.5 84.09,285.5 84.09,285.5 84.34,284.74 84.34,285.5 84.59,285.5 84.59,284.45 84.84,284.17 84.84,285.5 85.1,285.5 85.1,285.5 85.35,285.5 85.35,285.5 85.6,285.5 85.6,282.21 85.85,285.5 85.85,285.5 86.1,285.5 86.1,285.5 86.35,282.06 86.35,285.5 86.6,285.5 86.6,282.41 86.85,285.5 86.85,285.5 87.1,285.5 87.1,285.5 87.35,283.6 87.35,285.5 87.6,285.5 87.6,283.89 87.85,285.5 87.85,285.5 88.11,285.5 88.11,283.93 88.36,285.5 88.36,285.5 88.61,285.5 88.61,285.5 88.86,285.5 88.86,285.5 89.11,285.5 89.11,285.5 89.36,285.5 89.36,285.5 89.61,285.5 89.61,285.5 89.86,285.5 89.86,285.5 90.11,285.5 90.11,284.4 90.36,284.46 90.36,285.5 90.61,285.5 90.61,284.45 90.87,285.5 90.87,285.5 91.12,285.5 91.12,285.5 91.37,285.5 91.37,285.5 91.62,285.5 91.62,284.85 91.87,284.85 91.87,285.5 92.12,285.5 92.12,285.5 92.37,285.5 92.37,285.5 92.62,285.5 92.62,285.5 92.87,285.5 92.87,285.5 93.12,285.5 93.12,284.68 93.37,284.66 93.37,285.5 93.62,285.5 93.62,284.65 93.88,285.5 93.88,285.5 94.13,285.5 94.13,285.5 94.38,285.5 94.38,285.5 94.63,285.5 94.63,285.5 94.88,284.93 94.88,285.5 95.13,285.5 95.13,284.93 95.38,284.93 95.38,285.5 95.63,285.5 95.63,285.5 95.88,284.68 95.88,285.5 96.13,285.5 96.13,284.67 96.38,285.5 96.38,285.5 96.64,285.5 96.64,285.5 96.89,285 96.89,285.5 97.14,285.5 97.14,285 97.39,285.5 97.39,285.5 97.64,285.5 97.64,285.5 97.89,285.5 97.89,285.5 98.14,285.5 98.14,285.5 98.39,284.79 98.39,285.5 98.64,285.5 98.64,284.77 98.89,285.5 98.89,285.5 99.14,285.5 99.14,285.5 99.39,284.78 99.39,285.5 99.65,285.5 99.65,284.77 99.9,284.76 99.9,285.5 100.15,285.5 100.15,285.5 100.4,285.5 100.4,285.5 100.65,285.5 100.65,285.5 100.9,285.5 100.9,285.5 101.15,285.5 101.15,285.5 101.4,285.5 101.4,285.5 101.65,285.5 101.65,284.85 101.9,284.85 101.9,285.5 102.15,285.5 102.15,285.5 102.41,285.5 102.41,285.5 102.66,285.5 102.66,285.5 102.91,285.5 102.91,285.5 103.16,285.5 103.16,284.66 103.41,284.6 103.41,285.5 103.66,285.5 103.66,285.5 103.91,284.48 103.91,285.5 104.16,285.5 104.16,285.5 104.41,285.5 104.41,285.5 104.66,285.5 104.66,285.5 104.91,285.5 104.91,285.5 105.16,285.5 105.16,284.87 105.42,285.5 105.42,285.5 105.67,285.5 105.67,285.5 105.92,285.5 105.92,285.5 106.17,285.5 106.17,284.76 106.42,285.5 106.42,285.5 106.67,285.5 106.67,285.5 106.92,284.68 106.92,285.5 107.17,285.5 107.17,284.68 107.42,285.5 107.42,285.5 107.67,285.5 107.67,285.5 107.92,284.71 107.92,285.5 108.18,285.5 108.18,284.64 108.43,285.5 108.43,285.5 108.68,285.5 108.68,285.5 108.93,284.35 108.93,285.5 109.18,285.5 109.18,284.23 109.43,285.5 109.43,285.5 109.68,285.5 109.68,285.5 109.93,285.5 109.93,285.5 110.18,285.5 110.18,285.5 110.43,285.5 110.43,285.5 110.68,285.5 110.68,285.5 110.94,285.5 110.94,285.5 111.19,285.5 111.19,283.15 111.44,283.05 111.44,285.5 111.69,285.5 111.69,285.5 111.94,285.5 111.94,285.5 112.19,285.5 112.19,283.15 112.44,283.13 112.44,285.5 112.69,285.5 112.69,285.5 112.94,283.21 112.94,285.5 113.19,285.5 113.19,283.18 113.44,285.5 113.44,285.5 113.69,285.5 113.69,282.79 113.95,282.76 113.95,285.5 114.2,285.5 114.2,285.5 114.45,285.5 114.45,285.5 114.7,285.5 114.7,285.5 114.95,285.5 114.95,285.5 115.2,285.5 115.2,285.5 115.45,285.5 115.45,285.5 115.7,285.5 115.7,285.5 115.95,285.5 115.95,285.5 116.2,285.5 116.2,282.55 116.45,282.63 116.45,285.5 116.71,285.5 116.71,285.5 116.96,282.84 116.96,285.5 117.21,285.5 117.21,282.99 117.46,285.5 117.46,285.5 117.71,285.5 117.71,285.5 117.96,285.5 117.96,285.5 118.21,285.5 118.21,285.5 118.46,285.5 118.46,285.5 118.71,285.5 118.71,285.5 118.96,285.5 118.96,285.5 119.21,285.5 119.21,285.5 119.46,283.7 119.46,285.5 119.72,285.5 119.72,283.64 119.97,285.5 119.97,285.5 120.22,285.5 120.22,282.16 120.47,285.5 120.47,285.5 120.72,285.5 120.72,281.66 120.97,285.5 120.97,285.5 121.22,285.5 121.22,279.33 121.47,279.95 121.47,285.5 121.72,285.5 121.72,285.5 121.97,285.5 121.97,285.5 122.22,285.5 122.22,285.5 122.48,285.5 122.48,285.5 122.73,285.5 122.73,285.5 122.98,285.5 122.98,285.5 123.23,285.5 123.23,283.64 123.48,283.8 123.48,285.5 123.73,285.5 123.73,285.5 123.98,283.76 123.98,285.5 124.23,285.5 124.23,283.89 124.48,284.04 124.48,285.5 124.73,285.5 124.73,285.5 124.98,285.5 124.98,285.5 125.23,285.5 125.23,284.52 125.49,284.59 125.49,285.5 125.74,285.5 125.74,285.5 125.99,284.7 125.99,285.5 126.24,285.5 126.24,284.73 126.49,285.5 126.49,285.5 126.74,285.5 126.74,285.5 126.99,285.5 126.99,285.5 127.24,285.5 127.24,285.5 127.49,285.5 127.49,285.5 127.74,285.5 127.74,284.93 127.99,285.5 127.99,285.5 128.25,285.5 128.25,284.93 128.5,284.94 128.5,285.5 128.75,285.5 128.75,285.5 129,285.5 129,285.5 129.25,285.5 129.25,285.5 129.5,285.5 129.5,285.5 129.75,285.5 129.75,285.5 130,285.5 130,285.5 130.25,285.5 130.25,285.5 130.5,285.5 130.5,285.5 130.75,285.5 130.75,285.5 131,285.5 131,285.5 131.26,285.5 131.26,285.5 131.51,285.5 131.51,285.5 131.76,285.5 131.76,285.5 132.01,285.5 132.01,285.5 132.26,285.5 132.26,285.5 132.51,284.79 132.51,285.5 132.76,285.5 132.76,285.5 133.01,284.83 133.01,285.5 133.26,285.5 133.26,285.5 133.51,285.5 133.51,285.5 133.76,285.5 133.76,284.94 134.02,284.95 134.02,285.5 134.27,285.5 134.27,285.5 134.52,285.5 134.52,285.5 134.77,285.5 134.77,285.02 135.02,285.03 135.02,285.5 135.27,285.5 135.27,285.03 135.52,285.5 135.52,285.5 135.77,285.5 135.77,285.15 136.02,285.15 136.02,285.5 136.27,285.5 136.27,285.16 136.52,285.5 136.52,285.5 136.77,285.5 136.77,285.01 137.03,284.99 137.03,285.5 137.28,285.5 137.28,285.01 137.53,285.5 137.53,285.5 137.78,285.5 137.78,285.5 138.03,285.5 138.03,285.5 138.28,285.5 138.28,285.06 138.53,285.5 138.53,285.5 138.78,285.5 138.78,285.5 139.03,285.5 139.03,285.5 139.28,285.5 139.28,285.5 139.53,285.5 139.53,285.5 139.79,285.5 139.79,285.5 140.04,284.98 140.04,285.5 140.29,285.5 140.29,284.98 140.54,285.5 140.54,285.5 140.79,285.5 140.79,285.5 141.04,285.5 141.04,285.5 141.29,285.5 141.29,285.5 141.54,285.5 141.54,285.5 141.79,285.5 141.79,285.5 142.04,285.5 142.04,285.5 142.29,285.5 142.29,285.5 142.54,285.22 142.54,285.5 142.8,285.5 142.8,285.23 143.05,285.5 143.05,285.5 143.3,285.5 143.3,285.5 143.55,285.5 143.55,285.5 143.8,285.5 143.8,285.5 144.05,285.5 144.05,285.5 144.3,285.5 144.3,285.5 144.55,285.5 144.55,285.5 144.8,285.5 144.8,285.5 145.05,285.5 145.05,285.5 145.3,285.5 145.3,285.5 145.56,285.5 145.56,285.5 145.81,285.5 145.81,285.2 146.06,285.21 146.06,285.5 146.31,285.5 146.31,285.5 146.56,285.07 146.56,285.5 146.81,285.5 146.81,285.07 147.06,285.5 147.06,285.5 147.31,285.5 147.31,285.5 147.56,285.5 147.56,285.5 147.81,285.5 147.81,285.11 148.06,285.5 148.06,285.5 148.31,285.5 148.31,285.17 148.57,285.19 148.57,285.5 148.82,285.5 148.82,285.5 149.07,285.5 149.07,285.5 149.32,285.5 149.32,285.17 149.57,285.19 149.57,285.5 149.82,285.5 149.82,285.5 150.07,285.19 150.07,285.5 150.32,285.5 150.32,285.2 150.57,285.2 150.57,285.5 150.82,285.5 150.82,285.5 151.07,285.5 151.07,285.5 151.33,285.5 151.33,285.15 151.58,285.17 151.58,285.5 151.83,285.5 151.83,285.5 152.08,285.25 152.08,285.5 152.33,285.5 152.33,285.5 152.58,285.5 152.58,285.5 152.83,285.5 152.83,285.5 153.08,285.2 153.08,285.5 153.33,285.5 153.33,285.5 153.58,285.5 153.58,285.5 153.83,285.5 153.83,285.29 154.08,285.29 154.08,285.5 154.34,285.5 154.34,285.29 154.59,285.5 154.59,285.5 154.84,285.5 154.84,285.3 155.09,285.3 155.09,285.5 155.34,285.5 155.34,285.5 155.59,285.5 155.59,285.5 155.84,285.5 155.84,285.21 156.09,285.22 156.09,285.5 156.34,285.5 156.34,285.22 156.59,285.5 156.59,285.5 156.84,285.5 156.84,285.5 157.1,285.5 157.1,285.5 157.35,285.5 157.35,285.5 157.6,285.5 157.6,285.5 157.85,285.5 157.85,285.28 158.1,285.28 158.1,285.5 158.35,285.5 158.35,285.5 158.6,285.5 158.6,285.5 158.85,285.5 158.85,285.5 159.1,285.5 159.1,285.5 159.35,285.5 159.35,285.27 159.6,285.27 159.6,285.5 159.85,285.5 159.85,285.27 160.11,285.5 160.11,285.5 160.36,285.5 160.36,285.24 160.61,285.5 160.61,285.5 160.86,285.5 160.86,285.5 161.11,285.21 161.11,285.5 161.36,285.5 161.36,285.23 161.61,285.21 161.61,285.5 161.86,285.5 161.86,285.5 162.11,285.5 162.11,285.5 162.36,285.5 162.36,285.29 162.61,285.29 162.61,285.5 162.87,285.5 162.87,285.5 163.12,285.5 163.12,285.5 163.37,285.5 163.37,285.5 163.62,285.27 163.62,285.5 163.87,285.5 163.87,285.26 164.12,285.5 164.12,285.5 164.37,285.5 164.37,285.5 164.62,285.5 164.62,285.5 164.87,285.5 164.87,285.5 165.12,285.5 165.12,285.5 165.37,285.5 165.37,285.25 165.62,285.25 165.62,285.5 165.88,285.5 165.88,285.5 166.13,285.5 166.13,285.5 166.38,285.5 166.38,285.5 166.63,285.5 166.63,285.5 166.88,285.5 166.88,285.5 167.13,285.5 167.13,285.5 167.38,285.5 167.38,285.33 167.63,285.33 167.63,285.5 167.88,285.5 167.88,285.5 168.13,285.26 168.13,285.5 168.38,285.5 168.38,285.26 168.64,285.27 168.64,285.5 168.89,285.5 168.89,285.5 169.14,285.5 169.14,285.5 169.39,285.5 169.39,285.5 169.64,285.5 169.64,285.5 169.89,285.5 169.89,285.5 170.14,285.5 170.14,285.5 170.39,285.5 170.39,285.31 170.64,285.31 170.64,285.5 170.89,285.5 170.89,285.31 171.14,285.5 171.14,285.5 171.39,285.5 171.39,285.34 171.65,285.34 171.65,285.5 171.9,285.5 171.9,285.34 172.15,285.5 172.15,285.5 172.4,285.5 172.4,285.5 172.65,285.5 172.65,285.5 172.9,285.5 172.9,285.5" class="k2"/>
<polyline points="43.2,248.04 43.2,285.5 43.45,285.5 43.45,244.37 43.7,255.3 43.7,285.5 43.95,285.5 43.95,253.88 44.2,261.45 44.2,285.5 44.45,285.5 44.45,264.94 44.71,265.96 44.71,285.5 44.96,272.03 44.96,266.64 45.21,268.68 45.21,273.6 45.46,279.07 45.46,271.54 45.71,275.79 45.71,285.5 45.96,285.5 45.96,278.78 46.21,280.09 46.21,285.5 46.46,285.5 46.46,277.72 46.71,278.95 46.71,285.5 46.96,285.5 46.96,273.98 47.21,272.25 47.21,285.5 47.46,285.5 47.46,271.13 47.72,274.27 47.72,285.5 47.97,285.5 47.97,274.94 48.22,272.62 48.22,279.65 48.47,285.5 48.47,268.53 48.72,269.45 48.72,285.5 48.97,285.5 48.97,266.66 49.22,267.06 49.22,285.5 49.47,285.5 49.47,268.62 49.72,276.73 49.72,284.64 49.97,282.3 49.97,280.44 50.22,282.58 50.22,285.5 50.48,285.5 50.48,282.6 50.73,284.03 50.73,285.5 50.98,285.5 50.98,284.59 51.23,284.42 51.23,285.5 51.48,285.5 51.48,284.57 51.73,284.51 51.73,285.5 51.98,285.5 51.98,284.64 52.23,284.51 52.23,285.35 52.48,285.5 52.48,284.46 52.73,284.75 52.73,285.5 52.98,285.5 52.98,284.49 53.23,284.41 53.23,285.5 53.49,285.1 53.49,284.49 53.74,284.66 53.74,285.1 53.99,285.5 53.99,284.48 54.24,284.72 54.24,285.5 54.49,284.9 54.49,284.6 54.74,284.44 54.74,285.5 54.99,285.5 54.99,284.65 55.24,284.65 55.24,285.5 55.49,285.5 55.49,284.71 55.74,284.73 55.74,285.5 55.99,285.32 55.99,283.64 56.25,283.23 56.25,285.5 56.5,285.5 56.5,282.45 56.75,281.34 56.75,285.5 57,285.5 57,281.32 57.25,279.45 57.25,285.5 57.5,285.5 57.5,279.66 57.75,277.39 57.75,285.5 58,285.5 58,275.15 58.25,275.81 58.25,285.5 58.5,285.5 58.5,275.57 58.75,277.15 58.75,285.5 59,285.5 59,280.15 59.26,280.92 59.26,285.5 59.51,285.5 59.51,279.9 59.76,279.63 59.76,285.5 60.01,285.5 60.01,279.94 60.26,278.26 60.26,285.5 60.51,285.5 60.51,278.21 60.76,276.38 60.76,285.5 61.01,285.5 61.01,277.94 61.26,274.88 61.26,285.5 61.51,285.5 61.51,264.62 61.76,261.35 61.76,285.5 62.02,285.5 62.02,261.31 62.27,250.84 62.27,285.5 62.52,285.5 62.52,255.37 62.77,250.52 62.77,282.18 63.02,285.5 63.02,253.72 63.27,255.04 63.27,284.68 63.52,281.74 63.52,260.43 63.77,257.72 63.77,285.5 64.02,285.5 64.02,260.24 64.27,259.74 64.27,279.64 64.52,285.5 64.52,251.41 64.77,255.27 64.77,285.5 65.03,285.5 65.03,252.35 65.28,259.54 65.28,285.5 65.53,285.5 65.53,263.84 65.78,270.65 65.78,285.5 66.03,285.5 66.03,268.29 66.28,273.69 66.28,285.5 66.53,285.5 66.53,275.85 66.78,277.26 66.78,285.5 67.03,285.5 67.03,278.45 67.28,277.3 67.28,284 67.53,285.5 67.53,278.92 67.79,280.88 67.79,283.09 68.04,285.5 68.04,279.94 68.29,280.78 68.29,285.5 68.54,285.5 68.54,280.67 68.79,280.32 68.79,282.37 69.04,285.5 69.04,281.48 69.29,280.9 69.29,285.5 69.54,285.5 69.54,281.61 69.79,282.4 69.79,285.5 70.04,285.5 70.04,280.93 70.29,281.14 70.29,285.5 70.54,285.5 70.54,280.51 70.8,281.7 70.8,285.5 71.05,285.5 71.05,281.65 71.3,280.14 71.3,285.5 71.55,285.5 71.55,280.69 71.8,281.87 71.8,285.5 72.05,285.5 72.05,280.89 72.3,281.04 72.3,285.5 72.55,284.7 72.55,280.93 72.8,281.39 72.8,285.5 73.05,285.5 73.05,282.36 73.3,282.69 73.3,285.5 73.56,285.5 73.56,282.87 73.81,283.06 73.81,284.38 74.06,285.5 74.06,283.02 74.31,282.64 74.31,285.5 74.56,285.5 74.56,283.17 74.81,283.27 74.81,285.5 75.06,284.84 75.06,283.15 75.31,283.81 75.31,285.5 75.56,284.45 75.56,283.79 75.81,283.68 75.81,285.5 76.06,285.5 76.06,283.55 76.31,283.92 76.31,285.5 76.57,285.42 76.57,284.32 76.82,284.01 76.82,285.5 77.07,285.12 77.07,284.4 77.32,284.25 77.32,285.5 77.57,285.5 77.57,284.53 77.82,284.45 77.82,285.5 78.07,284.96 78.07,284.51 78.32,284.59 78.32,285.5 78.57,285.5 78.57,284.74 78.82,284.78 78.82,285.5 79.07,285.5 79.07,284.77 79.33,284.81 79.33,285.16 79.58,285.5 79.58,284.8 79.83,284.78 79.83,285.5 80.08,285.5 80.08,284.65 80.33,284.71 80.33,285.5 80.58,285.5 80.58,284.88 80.83,284.87 80.83,285.5 81.08,284.91 81.08,284.64 81.33,284.76 81.33,285.5 81.58,285.5 81.58,284.87 81.83,284.87 81.83,285.5 82.08,285.5 82.08,284.76 82.34,284.91 82.34,285.5 82.59,285.5 82.59,284.83 82.84,284.75 82.84,285.5 83.09,285.15 83.09,284.8 83.34,284.95 83.34,285.5 83.59,285.5 83.59,284.91 83.84,284.9 83.84,285.5 84.09,285.5 84.09,284.87 84.34,284.96 84.34,285.5 84.59,285.5 84.59,284.78 84.84,284.55 84.84,285.5 85.1,285.5 85.1,284.12 85.35,283.79 85.35,285.5 85.6,285.5 85.6,283.56 85.85,283.5 85.85,285.5 86.1,285.5 86.1,282.89 86.35,283.5 86.35,284.93 86.6,285.5 86.6,283.89 86.85,284.05 86.85,285.5 87.1,285.5 87.1,284.23 87.35,284.54 87.35,285.45 87.6,285.5 87.6,284.83 87.85,284.9 87.85,285.5 88.11,285.5 88.11,284.84 88.36,284.79 88.36,285.5 88.61,285.5 88.61,284.91 88.86,284.79 88.86,285.01 89.11,285.5 89.11,284.98 89.36,284.94 89.36,285.5 89.61,285.5 89.61,284.84 89.86,284.99 89.86,285.5 90.11,285.5 90.11,284.91 90.36,284.95 90.36,285.5 90.61,285.5 90.61,284.89 90.87,285.04 90.87,285.5 91.12,285.5 91.12,285.09 91.37,284.98 91.37,285.5 91.62,285.5 91.62,285 91.87,284.99 91.87,285.5 92.12,285.5 92.12,285.01 92.37,285.17 92.37,285.5 92.62,285.5 92.62,285.15 92.87,285.11 92.87,285.5 93.12,285.5 93.12,285.07 93.37,285.07 93.37,285.5 93.62,285.33 93.62,285.12 93.88,285.07 93.88,285.5 94.13,285.5 94.13,285.1 94.38,285.14 94.38,285.5 94.63,285.5 94.63,285.12 94.88,285.1 94.88,285.5 95.13,285.5 95.13,285.11 95.38,285.05 95.38,285.5 95.63,285.27 95.63,285.05 95.88,285.13 95.88,285.5 96.13,285.5 96.13,285.04 96.38,285.16 96.38,285.5 96.64,285.5 96.64,285.16 96.89,285.16 96.89,285.5 97.14,285.5 97.14,285.11 97.39,285.18 97.39,285.5 97.64,285.5 97.64,285.04 97.89,285.05 97.89,285.5 98.14,285.5 98.14,285.17 98.39,285.15 98.39,285.5 98.64,285.42 98.64,285.12 98.89,285.15 98.89,285.5 99.14,285.44 99.14,285.05 99.39,285.12 99.39,285.5 99.65,285.5 99.65,285.02 99.9,285.08 99.9,285.26 100.15,285.5 100.15,285.03 100.4,285.03 100.4,285.5 100.65,285.5 100.65,285.02 100.9,285.09 100.9,285.5 101.15,285.5 101.15,285.07 101.4,285.03 101.4,285.5 101.65,285.24 101.65,285.11 101.9,285.08 101.9,285.5 102.15,285.5 102.15,285.06 102.41,285.15 102.41,285.5 102.66,285.5 102.66,285.06 102.91,285.08 102.91,285.5 103.16,285.5 103.16,285.02 103.41,285.1 103.41,285.5 103.66,285.5 103.66,285 103.91,285.05 103.91,285.5 104.16,285.5 104.16,285.12 104.41,285.01 104.41,285.5 104.66,285.29 104.66,285.04 104.91,285.13 104.91,285.31 105.16,285.5 105.16,285.07 105.42,285.03 105.42,285.5 105.67,285.5 105.67,284.98 105.92,285.14 105.92,285.5 106.17,285.5 106.17,284.97 106.42,285.07 106.42,285.5 106.67,285.5 106.67,284.97 106.92,285.03 106.92,285.5 107.17,285.5 107.17,284.99 107.42,285.03 107.42,285.5 107.67,285.5 107.67,285.02 107.92,285.08 107.92,285.5 108.18,285.5 108.18,284.97 108.43,284.82 108.43,285.5 108.68,285.5 108.68,284.67 108.93,284.59 108.93,285.5 109.18,285.5 109.18,284.49 109.43,284.31 109.43,285.5 109.68,285.5 109.68,284.42 109.93,284.16 109.93,285.5 110.18,285.5 110.18,284.16 110.43,284.09 110.43,285.5 110.68,285.5 110.68,283.97 110.94,283.87 110.94,285.5 111.19,285.5 111.19,283.83 111.44,283.57 111.44,285.5 111.69,285.5 111.69,283.71 111.94,283.33 111.94,285.5 112.19,285.5 112.19,283.53 112.44,283.87 112.44,285.5 112.69,285.5 112.69,283.71 112.94,283.77 112.94,285.5 113.19,285.5 113.19,283.45 113.44,283.39 113.44,285.5 113.69,285.5 113.69,283.38 113.95,283.54 113.95,285.5 114.2,285.5 114.2,283.82 114.45,283.83 114.45,285.5 114.7,285.5 114.7,283.41 114.95,283.64 114.95,285.5 115.2,285.5 115.2,283.45 115.45,283.61 115.45,285.5 115.7,285.5 115.7,283.5 115.95,283.65 115.95,285.5 116.2,285.5 116.2,283.47 116.45,283.71 116.45,284.61 116.71,285.5 116.71,283.89 116.96,284.08 116.96,285.5 117.21,285.5 117.21,284.34 117.46,284.3 117.46,285.5 117.71,285.5 117.71,284.54 117.96,284.14 117.96,285.5 118.21,285.23 118.21,284.44 118.46,284.09 118.46,285.5 118.71,285.5 118.71,284 118.96,284.03 118.96,285.5 119.21,285.5 119.21,284.03 119.46,284.2 119.46,285.5 119.72,285.5 119.72,283.97 119.97,283.99 119.97,285.5 120.22,285.5 120.22,284.01 120.47,283.72 120.47,285.5 120.72,284.34 120.72,283.85 120.97,283.38 120.97,285.5 121.22,285.5 121.22,283.45 121.47,283.97 121.47,285.5 121.72,285.5 121.72,284.13 121.97,284.16 121.97,285.5 122.22,284.68 122.22,284.07 122.48,284.04 122.48,285.5 122.73,285.5 122.73,284.38 122.98,284.44 122.98,285.5 123.23,285.5 123.23,284.26 123.48,284.52 123.48,285.5 123.73,285.5 123.73,284.52 123.98,284.72 123.98,285.5 124.23,285.5 124.23,284.83 124.48,284.78 124.48,285.5 124.73,285.5 124.73,284.86 124.98,285.01 124.98,285.5 125.23,285.5 125.23,284.98 125.49,285.03 125.49,285.5 125.74,285.22 125.74,285.02 125.99,285.11 125.99,285.5 126.24,285.5 126.24,285.01 126.49,285.1 126.49,285.5 126.74,285.5 126.74,285.06 126.99,285.02 126.99,285.5 127.24,285.46 127.24,285.15 127.49,285.1 127.49,285.5 127.74,285.5 127.74,285.02 127.99,285.03 127.99,285.5 128.25,285.5 128.25,285.08 128.5,285.03 128.5,285.47 128.75,285.5 128.75,285.02 129,285.05 129,285.5 129.25,285.5 129.25,285.05 129.5,285.17 129.5,285.5 129.75,285.5 129.75,285.09 130,285.08 130,285.5 130.25,285.5 130.25,285.1 130.5,285.08 130.5,285.5 130.75,285.5 130.75,285.19 131,285.09 131,285.36 131.26,285.5 131.26,285.1 131.51,285.17 131.51,285.49 131.76,285.5 131.76,285.17 132.01,285.13 132.01,285.5 132.26,285.42 132.26,285.17 132.51,285.12 132.51,285.5 132.76,285.42 132.76,285.17 133.01,285.13 133.01,285.5 133.26,285.22 133.26,285.1 133.51,285.2 133.51,285.5 133.76,285.5 133.76,285.22 134.02,285.13 134.02,285.5 134.27,285.5 134.27,285.18 134.52,285.13 134.52,285.5 134.77,285.5 134.77,285.17 135.02,285.14 135.02,285.5 135.27,285.5 135.27,285.19 135.52,285.2 135.52,285.5 135.77,285.31 135.77,285.25 136.02,285.23 136.02,285.5 136.27,285.5 136.27,285.27 136.52,285.25 136.52,285.5 136.77,285.5 136.77,285.2 137.03,285.27 137.03,285.5 137.28,285.5 137.28,285.24 137.53,285.2 137.53,285.5 137.78,285.5 137.78,285.22 138.03,285.22 138.03,285.5 138.28,285.5 138.28,285.28 138.53,285.26 138.53,285.5 138.78,285.5 138.78,285.25 139.03,285.21 139.03,285.5 139.28,285.5 139.28,285.29 139.53,285.29 139.53,285.5 139.79,285.5 139.79,285.29 140.04,285.25 140.04,285.5 140.29,285.5 140.29,285.28 140.54,285.32 140.54,285.5 140.79,285.35 140.79,285.29 141.04,285.31 141.04,285.5 141.29,285.45 141.29,285.27 141.54,285.31 141.54,285.5 141.79,285.5 141.79,285.34 142.04,285.3 142.04,285.5 142.29,285.5 142.29,285.29 142.54,285.32 142.54,285.5 142.8,285.5 142.8,285.3 143.05,285.32 143.05,285.5 143.3,285.5 143.3,285.32 143.55,285.29 143.55,285.5 143.8,285.5 143.8,285.3 144.05,285.35 144.05,285.47 144.3,285.5 144.3,285.31 144.55,285.32 144.55,285.46 144.8,285.5 144.8,285.29 145.05,285.34 145.05,285.5 145.3,285.5 145.3,285.34 145.56,285.35 145.56,285.5 145.81,285.5 145.81,285.33 146.06,285.35 146.06,285.5 146.31,285.5 146.31,285.32 146.56,285.31 146.56,285.45 146.81,285.5 146.81,285.32 147.06,285.31 147.06,285.44 147.31,285.5 147.31,285.34 147.56,285.31 147.56,285.5 147.81,285.5 147.81,285.34 148.06,285.31 148.06,285.4 148.31,285.5 148.31,285.33 148.57,285.36 148.57,285.5 148.82,285.5 148.82,285.36 149.07,285.37 149.07,285.44 149.32,285.5 149.32,285.36 149.57,285.34 149.57,285.5 149.82,285.5 149.82,285.36 150.07,285.37 150.07,285.5 150.32,285.5 150.32,285.32 150.57,285.35 150.57,285.5 150.82,285.5 150.82,285.33 151.07,285.34 151.07,285.49 151.33,285.5 151.33,285.35 151.58,285.34 151.58,285.5 151.83,285.5 151.83,285.35 152.08,285.33 152.08,285.46 152.33,285.43 152.33,285.35 152.58,285.32 152.58,285.46 152.83,285.47 152.83,285.37 153.08,285.33 153.08,285.5 153.33,285.5 153.33,285.37 153.58,285.34 153.58,285.5 153.83,285.5 153.83,285.38 154.08,285.35 154.08,285.5 154.34,285.5 154.34,285.38 154.59,285.33 154.59,285.5 154.84,285.5 154.84,285.33 155.09,285.34 155.09,285.39 155.34,285.4 155.34,285.33 155.59,285.37 155.59,285.5 155.84,285.5 155.84,285.37 156.09,285.37 156.09,285.5 156.34,285.5 156.34,285.35 156.59,285.34 156.59,285.5 156.84,285.5 156.84,285.33 157.1,285.35 157.1,285.5 157.35,285.5 157.35,285.35 157.6,285.34 157.6,285.5 157.85,285.5 157.85,285.37 158.1,285.38 158.1,285.5 158.35,285.5 158.35,285.38 158.6,285.38 158.6,285.5 158.85,285.5 158.85,285.35 159.1,285.38 159.1,285.46 159.35,285.41 159.35,285.38 159.6,285.35 159.6,285.5 159.85,285.5 159.85,285.38 160.11,285.35 160.11,285.5 160.36,285.5 160.36,285.38 160.61,285.37 160.61,285.5 160.86,285.46 160.86,285.38 161.11,285.35 161.11,285.5 161.36,285.5 161.36,285.38 161.61,285.38 161.61,285.5 161.86,285.5 161.86,285.37 162.11,285.35 162.11,285.5 162.36,285.5 162.36,285.4 162.61,285.37 162.61,285.5 162.87,285.5 162.87,285.36 163.12,285.4 163.12,285.5 163.37,285.5 163.37,285.38 163.62,285.39 163.62,285.5 163.87,285.5 163.87,285.36 164.12,285.38 164.12,285.5 164.37,285.5 164.37,285.37 164.62,285.38 164.62,285.5 164.87,285.5 164.87,285.38 165.12,285.39 165.12,285.5 165.37,285.5 165.37,285.41 165.62,285.38 165.62,285.46 165.88,285.5 165.88,285.39 166.13,285.39 166.13,285.49 166.38,285.5 166.38,285.37 166.63,285.39 166.63,285.5 166.88,285.5 166.88,285.4 167.13,285.4 167.13,285.5 167.38,285.5 167.38,285.37 167.63,285.37 167.63,285.47 167.88,285.43 167.88,285.38 168.13,285.38 168.13,285.5 168.38,285.5 168.38,285.41 168.64,285.41 168.64,285.48 168.89,285.5 168.89,285.41 169.14,285.4 169.14,285.5 169.39,285.5 169.39,285.41 169.64,285.39 169.64,285.5 169.89,285.5 169.89,285.4 170.14,285.39 170.14,285.5 170.39,285.5 170.39,285.41 170.64,285.39 170.64,285.5 170.89,285.5 170.89,285.41 171.14,285.4 171.14,285.5 171.39,285.5 171.39,285.41 171.65,285.42 171.65,285.5 171.9,285.5 171.9,285.41 172.15,285.4 172.15,285.44 172.4,285.5 172.4,285.41 172.65,285.41 172.65,285.5 172.9,285.45 172.9,285.42" class="s"/>
<rect x="43.2" y="185.95" width="129.7" height="99.55000000000001" fill="none" stroke="#727272" stroke-width="1.25"/>
<text x="42.7" y="297.7" text-anchor="middle" class="t">0</text>
<text x="85.93" y="297.7" text-anchor="middle" class="t">200</text>
<text x="129.17" y="297.7" text-anchor="middle" class="t">400</text>
<text x="172.4" y="297.7" text-anchor="middle" class="t">600</text>
<text x="39.6" y="289.55" text-anchor="end" class="t">0</text>
<text x="39.6" y="239.78" text-anchor="end" class="t">0.05</text>
<text x="39.6" y="190" text-anchor="end" class="t">0.1</text>
<path d="M43.2 285.5v-1.6M43.2 185.95v1.6M86.43 285.5v-1.6M86.43 185.95v1.6M129.67 285.5v-1.6M129.67 185.95v1.6M172.9 285.5v-1.6M172.9 185.95v1.6M43.2 285.5h1.6M172.9 285.5h-1.6M43.2 235.72h1.6M172.9 235.72h-1.6M43.2 185.95h1.6M172.9 185.95h-1.6" stroke="#727272" stroke-width="0.8" fill="none"/>
<text x="105.15" y="176.05" text-anchor="middle" class="ti">x-axis direction</text>
<text x="108.05" y="313.8" text-anchor="middle" class="l">Frequency (Hz)</text>
<text transform="translate(13.3 234.92) rotate(-90)" text-anchor="middle" class="l">PSD (g<tspan dy="-3.3" dx="0.2" font-size="5.6">2</tspan><tspan dy="3.3" dx="0.1">/Hz)</tspan></text>
<polyline points="224.7,186.95 224.7,285.5 224.95,285.5 224.95,196.35 225.2,260.71 225.2,285.5 225.45,285.5 225.45,260.61 225.7,285.5 225.7,285.5 225.95,285.5 225.95,285.5 226.2,285.5 226.2,285.5 226.45,285.5 226.45,259.19 226.7,285.5 226.7,285.5 226.96,285.5 226.96,285.5 227.21,285.5 227.21,285.5 227.46,285.5 227.46,248.87 227.71,252.53 227.71,285.5 227.96,285.5 227.96,285.5 228.21,258.92 228.21,285.5 228.46,285.5 228.46,261.58 228.71,269.91 228.71,285.5 228.96,285.5 228.96,285.5 229.21,285.5 229.21,285.5 229.46,285.5 229.46,278.48 229.71,280.39 229.71,285.5 229.96,285.5 229.96,285.5 230.21,280.37 230.21,285.5 230.46,285.5 230.46,280.7 230.71,285.5 230.71,285.5 230.96,285.5 230.96,281.18 231.22,281.44 231.22,285.5 231.47,285.5 231.47,281.7 231.72,285.5 231.72,285.5 231.97,285.5 231.97,282.2 232.22,282.08 232.22,285.5 232.47,285.5 232.47,285.5 232.72,285.5 232.72,285.5 232.97,285.5 232.97,280.95 233.22,281.08 233.22,285.5 233.47,285.5 233.47,281.39 233.72,285.5 233.72,285.5 233.97,285.5 233.97,285.5 234.22,285.5 234.22,285.5 234.47,285.5 234.47,285.5 234.72,285.5 234.72,285.5 234.97,285.5 234.97,282.39 235.22,282.45 235.22,285.5 235.47,285.5 235.47,282.5 235.73,285.5 235.73,285.5 235.98,285.5 235.98,285.5 236.23,282.98 236.23,285.5 236.48,285.5 236.48,285.5 236.73,281.83 236.73,285.5 236.98,285.5 236.98,285.5 237.23,285.5 237.23,285.5 237.48,285.5 237.48,280.62 237.73,280.1 237.73,285.5 237.98,285.5 237.98,285.5 238.23,279.76 238.23,285.5 238.48,285.5 238.48,285.5 238.73,285.5 238.73,285.5 238.98,285.5 238.98,279.1 239.23,285.5 239.23,285.5 239.48,285.5 239.48,285.5 239.73,276.84 239.73,285.5 239.99,285.5 239.99,277.71 240.24,285.5 240.24,285.5 240.49,285.5 240.49,279.07 240.74,279.48 240.74,285.5 240.99,285.5 240.99,285.5 241.24,278.52 241.24,285.5 241.49,285.5 241.49,277.54 241.74,278.33 241.74,285.5 241.99,285.5 241.99,280.18 242.24,280.84 242.24,285.5 242.49,285.5 242.49,281.4 242.74,285.5 242.74,285.5 242.99,285.5 242.99,285.5 243.24,285.5 243.24,285.5 243.49,285.5 243.49,285.5 243.74,285.5 243.74,285.5 243.99,285.5 243.99,285.5 244.25,285.5 244.25,285.5 244.5,285.5 244.5,285.5 244.75,285.5 244.75,285.5 245,285.5 245,283.51 245.25,285.5 245.25,285.5 245.5,285.5 245.5,282.86 245.75,282.89 245.75,285.5 246,285.5 246,285.5 246.25,285.5 246.25,285.5 246.5,285.5 246.5,285.5 246.75,285.5 246.75,285.5 247,285.5 247,280.87 247.25,285.5 247.25,285.5 247.5,285.5 247.5,279.38 247.75,278.76 247.75,285.5 248,285.5 248,285.5 248.25,285.5 248.25,285.5 248.5,285.5 248.5,285.5 248.76,285.5 248.76,285.5 249.01,285.5 249.01,285.5 249.26,285.5 249.26,285.5 249.51,285.5 249.51,276.46 249.76,271.86 249.76,285.5 250.01,285.5 250.01,273.23 250.26,285.5 250.26,285.5 250.51,285.5 250.51,275.93 250.76,276.93 250.76,285.5 251.01,285.5 251.01,275.55 251.26,276.54 251.26,285.5 251.51,285.5 251.51,279.84 251.76,285.5 251.76,285.5 252.01,285.5 252.01,285.5 252.26,282.4 252.26,285.5 252.51,285.5 252.51,285.5 252.76,285.5 252.76,285.5 253.02,285.5 253.02,285.5 253.27,285.5 253.27,285.5 253.52,285.5 253.52,285.5 253.77,285.5 253.77,285.5 254.02,285.5 254.02,285.5 254.27,285.5 254.27,285.5 254.52,285.5 254.52,285.5 254.77,283.81 254.77,285.5 255.02,285.5 255.02,283.88 255.27,283.83 255.27,285.5 255.52,285.5 255.52,285.5 255.77,284.39 255.77,285.5 256.02,285.5 256.02,285.5 256.27,283.94 256.27,285.5 256.52,285.5 256.52,283.99 256.77,285.5 256.77,285.5 257.02,285.5 257.02,285.5 257.28,285.5 257.28,285.5 257.53,285.5 257.53,285.5 257.78,285.5 257.78,285.5 258.03,285.5 258.03,285.5 258.28,285.5 258.28,285.5 258.53,285.5 258.53,285.5 258.78,285.5 258.78,285.5 259.03,285.5 259.03,285.5 259.28,284.34 259.28,285.5 259.53,285.5 259.53,284.39 259.78,285.5 259.78,285.5 260.03,285.5 260.03,284.26 260.28,285.5 260.28,285.5 260.53,285.5 260.53,285.5 260.78,284.46 260.78,285.5 261.03,285.5 261.03,284.49 261.28,285.5 261.28,285.5 261.53,285.5 261.53,285.5 261.79,285.5 261.79,285.5 262.04,285.5 262.04,285.5 262.29,285.5 262.29,285.5 262.54,285.5 262.54,285.5 262.79,285.5 262.79,285.5 263.04,285.5 263.04,285.5 263.29,283.6 263.29,285.5 263.54,285.5 263.54,283.61 263.79,285.5 263.79,285.5 264.04,285.5 264.04,283.62 264.29,285.5 264.29,285.5 264.54,285.5 264.54,284.24 264.79,284.4 264.79,285.5 265.04,285.5 265.04,285.5 265.29,285.5 265.29,285.5 265.54,285.5 265.54,285.5 265.79,285.5 265.79,285.5 266.05,285.5 266.05,285.5 266.3,285.5 266.3,285.5 266.55,285.5 266.55,284.71 266.8,284.74 266.8,285.5 267.05,285.5 267.05,285.5 267.3,284.59 267.3,285.5 267.55,285.5 267.55,284.61 267.8,284.6 267.8,285.5 268.05,285.5 268.05,285.5 268.3,284.81 268.3,285.5 268.55,285.5 268.55,284.8 268.8,284.81 268.8,285.5 269.05,285.5 269.05,285.5 269.3,285.5 269.3,285.5 269.55,285.5 269.55,284.93 269.8,284.93 269.8,285.5 270.05,285.5 270.05,285.5 270.31,284.92 270.31,285.5 270.56,285.5 270.56,284.92 270.81,284.93 270.81,285.5 271.06,285.5 271.06,285.5 271.31,284.79 271.31,285.5 271.56,285.5 271.56,285.5 271.81,285.5 271.81,285.5 272.06,285.5 272.06,285.5 272.31,285.5 272.31,285.5 272.56,285.5 272.56,285.5 272.81,284.97 272.81,285.5 273.06,285.5 273.06,285.5 273.31,284.68 273.31,285.5 273.56,285.5 273.56,284.71 273.81,285.5 273.81,285.5 274.06,285.5 274.06,285.5 274.31,285.5 274.31,285.5 274.57,285.5 274.57,284.64 274.82,284.68 274.82,285.5 275.07,285.5 275.07,285.5 275.32,285.5 275.32,285.5 275.57,285.5 275.57,285.5 275.82,284.7 275.82,285.5 276.07,285.5 276.07,285.5 276.32,285.5 276.32,285.5 276.57,285.5 276.57,285.5 276.82,285.5 276.82,285.5 277.07,285.5 277.07,285.5 277.32,285.5 277.32,285.5 277.57,285.5 277.57,285.5 277.82,285.09 277.82,285.5 278.07,285.5 278.07,285.11 278.32,285.12 278.32,285.5 278.57,285.5 278.57,285.5 278.82,285.16 278.82,285.5 279.08,285.5 279.08,285.15 279.33,285.5 279.33,285.5 279.58,285.5 279.58,285.5 279.83,285.04 279.83,285.5 280.08,285.5 280.08,285.05 280.33,285.5 280.33,285.5 280.58,285.5 280.58,285.5 280.83,285.5 280.83,285.5 281.08,285.5 281.08,285.5 281.33,285.06 281.33,285.5 281.58,285.5 281.58,285.5 281.83,285.18 281.83,285.5 282.08,285.5 282.08,285.5 282.33,285.5 282.33,285.5 282.58,285.5 282.58,285.11 282.83,285.5 282.83,285.5 283.08,285.5 283.08,285.04 283.34,285.04 283.34,285.5 283.59,285.5 283.59,285.06 283.84,285.5 283.84,285.5 284.09,285.5 284.09,285.14 284.34,285.15 284.34,285.5 284.59,285.5 284.59,285.14 284.84,285.5 284.84,285.5 285.09,285.5 285.09,285.24 285.34,285.24 285.34,285.5 285.59,285.5 285.59,285.5 285.84,285.09 285.84,285.5 286.09,285.5 286.09,285.09 286.34,285.5 286.34,285.5 286.59,285.5 286.59,285.5 286.84,285.5 286.84,285.5 287.09,285.5 287.09,285.5 287.34,285.5 287.34,285.5 287.6,285.5 287.6,285.11 287.85,285.5 287.85,285.5 288.1,285.5 288.1,285.5 288.35,285.5 288.35,285.5 288.6,285.5 288.6,285.1 288.85,285.1 288.85,285.5 289.1,285.5 289.1,285.1 289.35,285.5 289.35,285.5 289.6,285.5 289.6,285.5 289.85,285.21 289.85,285.5 290.1,285.5 290.1,285.5 290.35,285.06 290.35,285.5 290.6,285.5 290.6,285.09 290.85,285.5 290.85,285.5 291.1,285.5 291.1,285.5 291.35,285.5 291.35,285.5 291.6,285.5 291.6,285.19 291.85,285.5 291.85,285.5 292.11,285.5 292.11,285.5 292.36,285.5 292.36,285.5 292.61,285.5 292.61,285.5 292.86,285.5 292.86,285.5 293.11,285.5 293.11,285.5 293.36,285.5 293.36,285.5 293.61,285.5 293.61,285.18 293.86,285.18 293.86,285.5 294.11,285.5 294.11,285.17 294.36,285.5 294.36,285.5 294.61,285.5 294.61,285.5 294.86,285.5 294.86,285.5 295.11,285.5 295.11,285.5 295.36,285.5 295.36,285.5 295.61,285.5 295.61,285.5 295.86,285.11 295.86,285.5 296.11,285.5 296.11,285.09 296.37,285.5 296.37,285.5 296.62,285.5 296.62,285.02 296.87,285.5 296.87,285.5 297.12,285.5 297.12,284.8 297.37,284.7 297.37,285.5 297.62,285.5 297.62,284.64 297.87,285.5 297.87,285.5 298.12,285.5 298.12,285.5 298.37,285.5 298.37,285.5 298.62,285.5 298.62,285.5 298.87,285.5 298.87,285.5 299.12,285.5 299.12,285.5 299.37,285.5 299.37,285.5 299.62,285.5 299.62,284.26 299.87,284.24 299.87,285.5 300.12,285.5 300.12,284.25 300.37,285.5 300.37,285.5 300.63,285.5 300.63,285.5 300.88,285.5 300.88,285.5 301.13,285.5 301.13,285.5 301.38,284.42 301.38,285.5 301.63,285.5 301.63,285.5 301.88,284.23 301.88,285.5 302.13,285.5 302.13,285.5 302.38,285.5 302.38,285.5 302.63,285.5 302.63,285.5 302.88,284.22 302.88,285.5 303.13,285.5 303.13,284.24 303.38,285.5 303.38,285.5 303.63,285.5 303.63,285.5 303.88,285.5 303.88,285.5 304.13,285.5 304.13,285.5 304.38,284.17 304.38,285.5 304.63,285.5 304.63,284.17 304.88,285.5 304.88,285.5 305.14,285.5 305.14,285.5 305.39,285.5 305.39,285.5 305.64,285.5 305.64,285.5 305.89,284.62 305.89,285.5 306.14,285.5 306.14,285.5 306.39,284.37 306.39,285.5 306.64,285.5 306.64,284.33 306.89,285.5 306.89,285.5 307.14,285.5 307.14,284.17 307.39,285.5 307.39,285.5 307.64,285.5 307.64,284.25 307.89,284.24 307.89,285.5 308.14,285.5 308.14,284.25 308.39,285.5 308.39,285.5 308.64,285.5 308.64,285.5 308.89,285.5 308.89,285.5 309.14,285.5 309.14,284.23 309.4,284.25 309.4,285.5 309.65,285.5 309.65,285.5 309.9,285.5 309.9,285.5 310.15,285.5 310.15,285.5 310.4,285.5 310.4,285.5 310.65,285.5 310.65,285.5 310.9,284.13 310.9,285.5 311.15,285.5 311.15,285.5 311.4,285.5 311.4,285.5 311.65,285.5 311.65,285.5 311.9,284.16 311.9,285.5 312.15,285.5 312.15,284.19 312.4,284.24 312.4,285.5 312.65,285.5 312.65,285.5 312.9,285.5 312.9,285.5 313.15,285.5 313.15,284.24 313.4,284.27 313.4,285.5 313.66,285.5 313.66,285.5 313.91,285.5 313.91,285.5 314.16,285.5 314.16,285.5 314.41,285.5 314.41,285.5 314.66,285.5 314.66,285.5 314.91,284.31 314.91,285.5 315.16,285.5 315.16,284.34 315.41,285.5 315.41,285.5 315.66,285.5 315.66,285.5 315.91,284.22 315.91,285.5 316.16,285.5 316.16,285.5 316.41,284.48 316.41,285.5 316.66,285.5 316.66,285.5 316.91,285.5 316.91,285.5 317.16,285.5 317.16,285.5 317.41,285.5 317.41,285.5 317.66,285.5 317.66,285.5 317.92,284.14 317.92,285.5 318.17,285.5 318.17,285.5 318.42,285.5 318.42,285.5 318.67,285.5 318.67,285.5 318.92,285.5 318.92,285.5 319.17,285.5 319.17,285.5 319.42,285.5 319.42,285.5 319.67,285.5 319.67,285.5 319.92,285.5 319.92,285.5 320.17,285.5 320.17,285.14 320.42,285.14 320.42,285.5 320.67,285.5 320.67,285.5 320.92,285.5 320.92,285.5 321.17,285.5 321.17,285.5 321.42,285.21 321.42,285.5 321.67,285.5 321.67,285.2 321.92,285.21 321.92,285.5 322.17,285.5 322.17,285.5 322.43,285.15 322.43,285.5 322.68,285.5 322.68,285.15 322.93,285.5 322.93,285.5 323.18,285.5 323.18,285.5 323.43,285.5 323.43,285.5 323.68,285.5 323.68,285.5 323.93,285.5 323.93,285.5 324.18,285.5 324.18,285.24 324.43,285.5 324.43,285.5 324.68,285.5 324.68,285.5 324.93,285.5 324.93,285.5 325.18,285.5 325.18,285.27 325.43,285.28 325.43,285.5 325.68,285.5 325.68,285.27 325.93,285.5 325.93,285.5 326.18,285.5 326.18,285.5 326.43,285.5 326.43,285.5 326.69,285.5 326.69,285.5 326.94,285.5 326.94,285.5 327.19,285.5 327.19,285.27 327.44,285.28 327.44,285.5 327.69,285.5 327.69,285.5 327.94,285.5 327.94,285.5 328.19,285.5 328.19,285.5 328.44,285.5 328.44,285.5 328.69,285.5 328.69,285.5 328.94,285.5 328.94,285.5 329.19,285.5 329.19,285.22 329.44,285.5 329.44,285.5 329.69,285.5 329.69,285.21 329.94,285.21 329.94,285.5 330.19,285.5 330.19,285.2 330.44,285.5 330.44,285.5 330.69,285.5 330.69,285.5 330.95,285.24 330.95,285.5 331.2,285.5 331.2,285.5 331.45,285.5 331.45,285.5 331.7,285.5 331.7,285.28 331.95,285.29 331.95,285.5 332.2,285.5 332.2,285.5 332.45,285.5 332.45,285.5 332.7,285.5 332.7,285.22 332.95,285.5 332.95,285.5 333.2,285.5 333.2,285.28 333.45,285.29 333.45,285.5 333.7,285.5 333.7,285.5 333.95,285.28 333.95,285.5 334.2,285.5 334.2,285.29 334.45,285.5 334.45,285.5 334.7,285.5 334.7,285.5 334.95,285.5 334.95,285.5 335.2,285.5 335.2,285.25 335.46,285.5 335.46,285.5 335.71,285.5 335.71,285.5 335.96,285.5 335.96,285.5 336.21,285.5 336.21,285.24 336.46,285.23 336.46,285.5 336.71,285.5 336.71,285.23 336.96,285.5 336.96,285.5 337.21,285.5 337.21,285.5 337.46,285.27 337.46,285.5 337.71,285.5 337.71,285.26 337.96,285.27 337.96,285.5 338.21,285.5 338.21,285.5 338.46,285.24 338.46,285.5 338.71,285.5 338.71,285.22 338.96,285.5 338.96,285.5 339.21,285.5 339.21,285.23 339.46,285.22 339.46,285.5 339.72,285.5 339.72,285.22 339.97,285.5 339.97,285.5 340.22,285.5 340.22,285.5 340.47,285.32 340.47,285.5 340.72,285.5 340.72,285.5 340.97,285.34 340.97,285.5 341.22,285.5 341.22,285.34 341.47,285.5 341.47,285.5 341.72,285.5 341.72,285.5 341.97,285.5 341.97,285.5 342.22,285.5 342.22,285.5 342.47,285.5 342.47,285.5 342.72,285.5 342.72,285.35 342.97,285.35 342.97,285.5 343.22,285.5 343.22,285.5 343.47,285.5 343.47,285.5 343.72,285.5 343.72,285.34 343.98,285.35 343.98,285.5 344.23,285.5 344.23,285.5 344.48,285.5 344.48,285.5 344.73,285.5 344.73,285.5 344.98,285.34 344.98,285.5 345.23,285.5 345.23,285.5 345.48,285.5 345.48,285.5 345.73,285.5 345.73,285.5 345.98,285.5 345.98,285.5 346.23,285.5 346.23,285.5 346.48,285.33 346.48,285.5 346.73,285.5 346.73,285.33 346.98,285.33 346.98,285.5 347.23,285.5 347.23,285.5 347.48,285.36 347.48,285.5 347.73,285.5 347.73,285.5 347.98,285.29 347.98,285.5 348.23,285.5 348.23,285.29 348.49,285.3 348.49,285.5 348.74,285.5 348.74,285.5 348.99,285.5 348.99,285.5 349.24,285.5 349.24,285.31 349.49,285.31 349.49,285.5 349.74,285.5 349.74,285.5 349.99,285.5 349.99,285.5 350.24,285.5 350.24,285.33 350.49,285.33 350.49,285.5 350.74,285.5 350.74,285.33 350.99,285.5 350.99,285.5 351.24,285.5 351.24,285.34 351.49,285.5 351.49,285.5 351.74,285.5 351.74,285.33 351.99,285.5 351.99,285.5 352.24,285.5 352.24,285.5 352.49,285.5 352.49,285.5 352.75,285.5 352.75,285.5 353,285.5 353,285.5 353.25,285.5 353.25,285.5 353.5,285.35 353.5,285.5 353.75,285.5 353.75,285.35 354,285.5 354,285.5 354.25,285.5 354.25,285.37 354.5,285.37 354.5,285.5 354.75,285.5 354.75,285.5" class="k2"/>
<polyline points="224.7,263.94 224.7,285.5 224.95,285.5 224.95,267.36 225.2,262.98 225.2,285.5 225.45,285.5 225.45,263.94 225.7,264.07 225.7,285.5 225.95,274.52 225.95,264.82 226.2,265.87 226.2,285.5 226.45,282.19 226.45,262.4 226.7,264.97 226.7,285.5 226.96,279.19 226.96,264.76 227.21,261.15 227.21,285.5 227.46,285.5 227.46,261.43 227.71,265.79 227.71,285.5 227.96,285.5 227.96,263.94 228.21,268.26 228.21,278.26 228.46,285.5 228.46,268.53 228.71,272.96 228.71,285.5 228.96,285.5 228.96,277.21 229.21,277.91 229.21,285.5 229.46,285.5 229.46,281.2 229.71,281.84 229.71,285.5 229.96,284.59 229.96,282.67 230.21,282.46 230.21,285.5 230.46,285.5 230.46,283.08 230.71,283.25 230.71,285.5 230.96,285.5 230.96,283 231.22,283.53 231.22,285.5 231.47,285.5 231.47,283.81 231.72,283.8 231.72,285.5 231.97,285.5 231.97,283.54 232.22,283.27 232.22,285.16 232.47,285.5 232.47,283.34 232.72,282.75 232.72,284.45 232.97,283.5 232.97,282.77 233.22,282.9 233.22,285.5 233.47,285.5 233.47,283.17 233.72,282.96 233.72,285.5 233.97,285.5 233.97,283.3 234.22,283.77 234.22,285.5 234.47,285.5 234.47,283.52 234.72,283.42 234.72,285.5 234.97,285.5 234.97,283.8 235.22,283.62 235.22,285.5 235.47,285.5 235.47,284.02 235.73,283.96 235.73,285.16 235.98,285.5 235.98,284.1 236.23,284.1 236.23,285.5 236.48,285.5 236.48,283.57 236.73,283.4 236.73,285.5 236.98,285.5 236.98,282.7 237.23,282.75 237.23,285.5 237.48,285.5 237.48,282.99 237.73,282.41 237.73,285.5 237.98,285.5 237.98,281.52 238.23,281.85 238.23,285.5 238.48,285.5 238.48,282.18 238.73,281.6 238.73,285.5 238.98,285.5 238.98,281.67 239.23,279.84 239.23,285.5 239.48,281.54 239.48,279.68 239.73,279.97 239.73,281.67 239.99,285.5 239.99,280.68 240.24,280.74 240.24,282.99 240.49,285.5 240.49,282 240.74,282.1 240.74,285.5 240.99,285.5 240.99,281.38 241.24,281.27 241.24,285.5 241.49,285.5 241.49,281.46 241.74,279.84 241.74,285.5 241.99,285.5 241.99,281.34 242.24,281.78 242.24,285.5 242.49,285.5 242.49,282.53 242.74,283.05 242.74,285.5 242.99,285.5 242.99,283.22 243.24,283.18 243.24,285.5 243.49,285.5 243.49,283.61 243.74,284.15 243.74,285.5 243.99,285.5 243.99,284.37 244.25,283.96 244.25,285.5 244.5,285.5 244.5,284.24 244.75,284.08 244.75,285.5 245,284.72 245,284.37 245.25,284.03 245.25,285.5 245.5,285.5 245.5,284.18 245.75,284.12 245.75,285.5 246,285.5 246,284.16 246.25,284.2 246.25,284.64 246.5,285.5 246.5,283.87 246.75,283.09 246.75,285.5 247,285.5 247,283.37 247.25,282.77 247.25,285.5 247.5,285.5 247.5,282.71 247.75,281.33 247.75,285.5 248,285.5 248,280.98 248.25,281.3 248.25,284.36 248.5,283.68 248.5,280.51 248.76,279.6 248.76,285.5 249.01,285.5 249.01,279.13 249.26,280.13 249.26,285.5 249.51,285.5 249.51,278.33 249.76,278.43 249.76,285.5 250.01,285.5 250.01,280.02 250.26,278.41 250.26,282.66 250.51,284.22 250.51,278.83 250.76,278.93 250.76,285.5 251.01,281.41 251.01,279.9 251.26,280.93 251.26,285.5 251.51,285.5 251.51,280.05 251.76,281.35 251.76,285.5 252.01,285.5 252.01,282.47 252.26,283.3 252.26,285.5 252.51,285.23 252.51,283.43 252.76,283.93 252.76,285.5 253.02,285.5 253.02,284.04 253.27,284.19 253.27,285.23 253.52,285.5 253.52,284.28 253.77,284.54 253.77,285.5 254.02,285.5 254.02,284.7 254.27,284.57 254.27,285.5 254.52,285.5 254.52,284.62 254.77,284.61 254.77,285.5 255.02,285.5 255.02,284.57 255.27,284.73 255.27,285.5 255.52,285.5 255.52,284.76 255.77,284.8 255.77,285.5 256.02,285.5 256.02,284.76 256.27,284.85 256.27,285.27 256.52,285.5 256.52,284.67 256.77,284.78 256.77,285.5 257.02,285.5 257.02,284.82 257.28,284.86 257.28,285.5 257.53,285.5 257.53,284.82 257.78,284.85 257.78,285.5 258.03,285.5 258.03,284.84 258.28,284.8 258.28,285.5 258.53,285.5 258.53,284.79 258.78,284.73 258.78,285.39 259.03,285.5 259.03,284.7 259.28,284.95 259.28,285.5 259.53,285.21 259.53,284.92 259.78,284.83 259.78,285.5 260.03,285.5 260.03,284.96 260.28,284.8 260.28,285.5 260.53,285.5 260.53,284.96 260.78,284.86 260.78,285.5 261.03,285.5 261.03,284.89 261.28,284.87 261.28,285.5 261.53,285.5 261.53,285.05 261.79,284.96 261.79,285.5 262.04,285.5 262.04,284.81 262.29,284.92 262.29,285.5 262.54,285.5 262.54,284.89 262.79,284.76 262.79,285.5 263.04,285.5 263.04,284.64 263.29,284.77 263.29,285.5 263.54,285.5 263.54,284.74 263.79,284.81 263.79,285.5 264.04,285.5 264.04,284.76 264.29,284.76 264.29,285.5 264.54,285.5 264.54,284.95 264.79,284.87 264.79,285.5 265.04,285.42 265.04,284.96 265.29,284.93 265.29,285.5 265.54,285.5 265.54,285 265.79,284.93 265.79,285.5 266.05,285.5 266.05,284.87 266.3,284.97 266.3,285.5 266.55,285.5 266.55,285.02 266.8,284.98 266.8,285.5 267.05,285.5 267.05,284.98 267.3,284.97 267.3,285.5 267.55,285.5 267.55,284.97 267.8,285.07 267.8,285.5 268.05,285.5 268.05,285.04 268.3,284.99 268.3,285.5 268.55,285.5 268.55,284.94 268.8,284.93 268.8,285.5 269.05,285.5 269.05,284.93 269.3,284.99 269.3,285.44 269.55,285.32 269.55,284.9 269.8,285.03 269.8,285.48 270.05,285.5 270.05,285 270.31,284.95 270.31,285.5 270.56,285.5 270.56,284.93 270.81,285.02 270.81,285.25 271.06,285.5 271.06,284.94 271.31,285.02 271.31,285.5 271.56,285.44 271.56,284.97 271.81,285.1 271.81,285.5 272.06,285.5 272.06,285.1 272.31,284.94 272.31,285.5 272.56,285.5 272.56,285.09 272.81,284.99 272.81,285.5 273.06,285.5 273.06,285.06 273.31,285.08 273.31,285.5 273.56,285.5 273.56,285.05 273.81,284.96 273.81,285.5 274.06,285.5 274.06,285.02 274.31,284.96 274.31,285.5 274.57,285.5 274.57,285.01 274.82,285.06 274.82,285.26 275.07,285.5 275.07,285.07 275.32,285.13 275.32,285.5 275.57,285.5 275.57,285.18 275.82,285.13 275.82,285.5 276.07,285.5 276.07,285.13 276.32,285.1 276.32,285.5 276.57,285.34 276.57,285.15 276.82,285.14 276.82,285.5 277.07,285.31 277.07,285.15 277.32,285.17 277.32,285.5 277.57,285.47 277.57,285.2 277.82,285.28 277.82,285.5 278.07,285.5 278.07,285.28 278.32,285.3 278.32,285.5 278.57,285.5 278.57,285.27 278.82,285.29 278.82,285.5 279.08,285.5 279.08,285.33 279.33,285.31 279.33,285.5 279.58,285.5 279.58,285.29 279.83,285.29 279.83,285.5 280.08,285.5 280.08,285.34 280.33,285.3 280.33,285.5 280.58,285.5 280.58,285.29 280.83,285.35 280.83,285.5 281.08,285.5 281.08,285.34 281.33,285.32 281.33,285.5 281.58,285.5 281.58,285.34 281.83,285.29 281.83,285.5 282.08,285.5 282.08,285.3 282.33,285.3 282.33,285.5 282.58,285.5 282.58,285.3 282.83,285.33 282.83,285.5 283.08,285.5 283.08,285.33 283.34,285.31 283.34,285.5 283.59,285.47 283.59,285.32 283.84,285.29 283.84,285.5 284.09,285.5 284.09,285.31 284.34,285.32 284.34,285.5 284.59,285.5 284.59,285.29 284.84,285.32 284.84,285.45 285.09,285.5 285.09,285.34 285.34,285.3 285.34,285.38 285.59,285.39 285.59,285.32 285.84,285.33 285.84,285.5 286.09,285.5 286.09,285.3 286.34,285.28 286.34,285.5 286.59,285.5 286.59,285.33 286.84,285.3 286.84,285.5 287.09,285.5 287.09,285.3 287.34,285.34 287.34,285.5 287.6,285.5 287.6,285.29 287.85,285.32 287.85,285.5 288.1,285.5 288.1,285.34 288.35,285.31 288.35,285.5 288.6,285.5 288.6,285.33 288.85,285.34 288.85,285.5 289.1,285.5 289.1,285.35 289.35,285.34 289.35,285.5 289.6,285.5 289.6,285.32 289.85,285.31 289.85,285.5 290.1,285.5 290.1,285.34 290.35,285.3 290.35,285.5 290.6,285.5 290.6,285.34 290.85,285.34 290.85,285.5 291.1,285.5 291.1,285.3 291.35,285.29 291.35,285.5 291.6,285.45 291.6,285.28 291.85,285.31 291.85,285.5 292.11,285.5 292.11,285.32 292.36,285.34 292.36,285.5 292.61,285.5 292.61,285.31 292.86,285.34 292.86,285.5 293.11,285.5 293.11,285.31 293.36,285.31 293.36,285.5 293.61,285.47 293.61,285.29 293.86,285.33 293.86,285.5 294.11,285.5 294.11,285.28 294.36,285.28 294.36,285.5 294.61,285.5 294.61,285.29 294.86,285.3 294.86,285.5 295.11,285.5 295.11,285.3 295.36,285.29 295.36,285.5 295.61,285.5 295.61,285.28 295.86,285.29 295.86,285.5 296.11,285.5 296.11,285.31 296.37,285.32 296.37,285.5 296.62,285.5 296.62,285.2 296.87,285.17 296.87,285.5 297.12,285.44 297.12,285.14 297.37,284.95 297.37,285.5 297.62,285.22 297.62,284.9 297.87,284.89 297.87,285.5 298.12,285.5 298.12,284.84 298.37,284.77 298.37,285.5 298.62,285 298.62,284.83 298.87,284.79 298.87,285.5 299.12,285.5 299.12,284.78 299.37,284.9 299.37,285.5 299.62,285.5 299.62,284.65 299.87,284.89 299.87,285.41 300.12,285.5 300.12,284.8 300.37,284.88 300.37,285.5 300.63,285.2 300.63,284.85 300.88,284.64 300.88,285.5 301.13,285.5 301.13,284.8 301.38,284.7 301.38,285.5 301.63,285.5 301.63,284.87 301.88,284.83 301.88,285.5 302.13,285.5 302.13,284.66 302.38,284.65 302.38,285.29 302.63,285.5 302.63,284.82 302.88,284.63 302.88,285.5 303.13,285.5 303.13,284.72 303.38,284.76 303.38,285.5 303.63,285.5 303.63,284.8 303.88,284.81 303.88,285.5 304.13,285.5 304.13,284.64 304.38,284.71 304.38,285.5 304.63,285.5 304.63,284.75 304.88,284.89 304.88,285.5 305.14,285.5 305.14,284.83 305.39,284.64 305.39,285.5 305.64,285.5 305.64,284.75 305.89,284.8 305.89,285.5 306.14,285.15 306.14,284.9 306.39,284.83 306.39,285.5 306.64,285.42 306.64,284.83 306.89,284.86 306.89,285.5 307.14,285.49 307.14,284.81 307.39,284.85 307.39,285.5 307.64,285.5 307.64,284.89 307.89,284.88 307.89,285.5 308.14,285.5 308.14,284.76 308.39,284.88 308.39,285.5 308.64,285.27 308.64,284.64 308.89,284.85 308.89,285.5 309.14,285.5 309.14,284.77 309.4,284.79 309.4,285.5 309.65,285.5 309.65,284.82 309.9,284.81 309.9,285.5 310.15,285.5 310.15,284.84 310.4,284.82 310.4,285.5 310.65,285.5 310.65,284.87 310.9,284.71 310.9,285.5 311.15,285.5 311.15,284.72 311.4,284.82 311.4,285.32 311.65,285.5 311.65,284.66 311.9,284.8 311.9,285.37 312.15,285.5 312.15,284.73 312.4,284.76 312.4,285.13 312.65,285.5 312.65,284.81 312.9,284.64 312.9,285.41 313.15,285.5 313.15,284.67 313.4,284.67 313.4,285.5 313.66,285.5 313.66,284.64 313.91,284.9 313.91,285.5 314.16,285.22 314.16,284.77 314.41,284.64 314.41,285.5 314.66,285.5 314.66,284.87 314.91,284.83 314.91,285.5 315.16,285.48 315.16,284.76 315.41,284.71 315.41,284.96 315.66,285.5 315.66,284.81 315.91,284.82 315.91,285.1 316.16,285.18 316.16,284.69 316.41,284.89 316.41,285.5 316.66,285.5 316.66,284.68 316.91,284.78 316.91,285.5 317.16,285.47 317.16,284.73 317.41,284.71 317.41,285.5 317.66,285.5 317.66,284.88 317.92,284.65 317.92,285.5 318.17,285.03 318.17,284.75 318.42,284.92 318.42,285.5 318.67,285.45 318.67,285.02 318.92,285.1 318.92,285.5 319.17,285.5 319.17,285.12 319.42,285.12 319.42,285.23 319.67,285.5 319.67,285.18 319.92,285.29 319.92,285.5 320.17,285.5 320.17,285.34 320.42,285.33 320.42,285.5 320.67,285.5 320.67,285.29 320.92,285.35 320.92,285.5 321.17,285.5 321.17,285.34 321.42,285.31 321.42,285.4 321.67,285.5 321.67,285.34 321.92,285.34 321.92,285.5 322.17,285.5 322.17,285.3 322.43,285.34 322.43,285.5 322.68,285.5 322.68,285.32 322.93,285.32 322.93,285.5 323.18,285.5 323.18,285.34 323.43,285.34 323.43,285.5 323.68,285.5 323.68,285.34 323.93,285.3 323.93,285.5 324.18,285.48 324.18,285.36 324.43,285.35 324.43,285.5 324.68,285.5 324.68,285.34 324.93,285.35 324.93,285.5 325.18,285.42 325.18,285.33 325.43,285.33 325.43,285.5 325.68,285.5 325.68,285.33 325.93,285.34 325.93,285.5 326.18,285.5 326.18,285.33 326.43,285.31 326.43,285.5 326.69,285.5 326.69,285.31 326.94,285.33 326.94,285.5 327.19,285.5 327.19,285.32 327.44,285.36 327.44,285.5 327.69,285.5 327.69,285.36 327.94,285.32 327.94,285.5 328.19,285.5 328.19,285.34 328.44,285.35 328.44,285.5 328.69,285.5 328.69,285.33 328.94,285.35 328.94,285.41 329.19,285.5 329.19,285.32 329.44,285.35 329.44,285.5 329.69,285.5 329.69,285.32 329.94,285.34 329.94,285.5 330.19,285.5 330.19,285.32 330.44,285.34 330.44,285.5 330.69,285.5 330.69,285.32 330.95,285.34 330.95,285.41 331.2,285.5 331.2,285.37 331.45,285.33 331.45,285.49 331.7,285.5 331.7,285.33 331.95,285.37 331.95,285.5 332.2,285.5 332.2,285.32 332.45,285.35 332.45,285.5 332.7,285.5 332.7,285.34 332.95,285.37 332.95,285.5 333.2,285.5 333.2,285.33 333.45,285.34 333.45,285.5 333.7,285.46 333.7,285.35 333.95,285.33 333.95,285.5 334.2,285.5 334.2,285.35 334.45,285.35 334.45,285.5 334.7,285.5 334.7,285.38 334.95,285.35 334.95,285.44 335.2,285.5 335.2,285.34 335.46,285.36 335.46,285.5 335.71,285.5 335.71,285.35 335.96,285.35 335.96,285.5 336.21,285.5 336.21,285.37 336.46,285.36 336.46,285.5 336.71,285.5 336.71,285.36 336.96,285.37 336.96,285.5 337.21,285.5 337.21,285.35 337.46,285.38 337.46,285.5 337.71,285.5 337.71,285.37 337.96,285.37 337.96,285.5 338.21,285.5 338.21,285.34 338.46,285.35 338.46,285.5 338.71,285.5 338.71,285.36 338.96,285.38 338.96,285.5 339.21,285.47 339.21,285.37 339.46,285.37 339.46,285.5 339.72,285.5 339.72,285.35 339.97,285.37 339.97,285.5 340.22,285.49 340.22,285.35 340.47,285.36 340.47,285.5 340.72,285.5 340.72,285.35 340.97,285.4 340.97,285.47 341.22,285.5 341.22,285.35 341.47,285.35 341.47,285.5 341.72,285.5 341.72,285.39 341.97,285.39 341.97,285.5 342.22,285.5 342.22,285.38 342.47,285.37 342.47,285.5 342.72,285.5 342.72,285.37 342.97,285.38 342.97,285.5 343.22,285.5 343.22,285.36 343.47,285.37 343.47,285.5 343.72,285.5 343.72,285.36 343.98,285.38 343.98,285.5 344.23,285.5 344.23,285.39 344.48,285.36 344.48,285.5 344.73,285.5 344.73,285.36 344.98,285.38 344.98,285.5 345.23,285.5 345.23,285.37 345.48,285.38 345.48,285.41 345.73,285.5 345.73,285.4 345.98,285.38 345.98,285.5 346.23,285.5 346.23,285.38 346.48,285.38 346.48,285.5 346.73,285.5 346.73,285.38 346.98,285.38 346.98,285.5 347.23,285.5 347.23,285.38 347.48,285.38 347.48,285.5 347.73,285.5 347.73,285.41 347.98,285.37 347.98,285.5 348.23,285.5 348.23,285.39 348.49,285.38 348.49,285.49 348.74,285.5 348.74,285.4 348.99,285.41 348.99,285.5 349.24,285.5 349.24,285.39 349.49,285.4 349.49,285.5 349.74,285.46 349.74,285.39 349.99,285.4 349.99,285.5 350.24,285.5 350.24,285.41 350.49,285.4 350.49,285.5 350.74,285.5 350.74,285.38 350.99,285.38 350.99,285.5 351.24,285.5 351.24,285.38 351.49,285.4 351.49,285.5 351.74,285.5 351.74,285.39 351.99,285.41 351.99,285.5 352.24,285.43 352.24,285.39 352.49,285.4 352.49,285.5 352.75,285.5 352.75,285.39 353,285.41 353,285.48 353.25,285.5 353.25,285.39 353.5,285.42 353.5,285.5 353.75,285.5 353.75,285.39 354,285.41 354,285.5 354.25,285.5 354.25,285.42 354.5,285.41 354.5,285.5 354.75,285.45 354.75,285.4" class="s"/>
<rect x="224.7" y="185.95" width="130.05" height="99.55000000000001" fill="none" stroke="#727272" stroke-width="1.25"/>
<text x="224.2" y="297.7" text-anchor="middle" class="t">0</text>
<text x="267.55" y="297.7" text-anchor="middle" class="t">200</text>
<text x="310.9" y="297.7" text-anchor="middle" class="t">400</text>
<text x="354.25" y="297.7" text-anchor="middle" class="t">600</text>
<text x="221.1" y="289.55" text-anchor="end" class="t">0</text>
<text x="221.1" y="239.78" text-anchor="end" class="t">0.05</text>
<text x="221.1" y="190" text-anchor="end" class="t">0.1</text>
<path d="M224.7 285.5v-1.6M224.7 185.95v1.6M268.05 285.5v-1.6M268.05 185.95v1.6M311.4 285.5v-1.6M311.4 185.95v1.6M354.75 285.5v-1.6M354.75 185.95v1.6M224.7 285.5h1.6M354.75 285.5h-1.6M224.7 235.72h1.6M354.75 235.72h-1.6M224.7 185.95h1.6M354.75 185.95h-1.6" stroke="#727272" stroke-width="0.8" fill="none"/>
<text x="289.73" y="176.05" text-anchor="middle" class="ti">y-axis direction</text>
<text x="289.73" y="313.8" text-anchor="middle" class="l">Frequency (Hz)</text>
<text transform="translate(194.8 234.92) rotate(-90)" text-anchor="middle" class="l">PSD (g<tspan dy="-3.3" dx="0.2" font-size="5.6">2</tspan><tspan dy="3.3" dx="0.1">/Hz)</tspan></text>
<line x1="224.8" y1="185.75" x2="224.8" y2="285.5" stroke="#2a2a2a" stroke-width="1.4"/>
<polyline points="406.4,215.1 406.4,285.5 406.65,285.5 406.65,285.5 406.9,285.5 406.9,285.5 407.15,285.5 407.15,201.68 407.4,210.06 407.4,285.5 407.65,285.5 407.65,215.4 407.9,285.5 407.9,285.5 408.15,285.5 408.15,285.5 408.4,250.09 408.4,285.5 408.66,285.5 408.66,285.5 408.91,285.5 408.91,285.5 409.16,285.5 409.16,253.6 409.41,254.23 409.41,285.5 409.66,285.5 409.66,254.2 409.91,285.5 409.91,285.5 410.16,285.5 410.16,252.85 410.41,256.11 410.41,285.5 410.66,285.5 410.66,285.5 410.91,271.99 410.91,285.5 411.16,285.5 411.16,275.5 411.41,285.5 411.41,285.5 411.66,285.5 411.66,285.5 411.91,285.5 411.91,285.5 412.16,285.5 412.16,285.5 412.41,281.36 412.41,285.5 412.66,285.5 412.66,281.9 412.92,285.5 412.92,285.5 413.17,285.5 413.17,285.5 413.42,283.39 413.42,285.5 413.67,285.5 413.67,283.39 413.92,285.5 413.92,285.5 414.17,285.5 414.17,285.5 414.42,285.5 414.42,285.5 414.67,285.5 414.67,282.45 414.92,285.5 414.92,285.5 415.17,285.5 415.17,285.5 415.42,285.5 415.42,285.5 415.67,285.5 415.67,285.5 415.92,278.56 415.92,285.5 416.17,285.5 416.17,278.41 416.42,285.5 416.42,285.5 416.67,285.5 416.67,278.56 416.92,285.5 416.92,285.5 417.18,285.5 417.18,285.5 417.43,285.5 417.43,285.5 417.68,285.5 417.68,285.5 417.93,285.5 417.93,285.5 418.18,285.5 418.18,279.09 418.43,279.41 418.43,285.5 418.68,285.5 418.68,285.5 418.93,285.5 418.93,285.5 419.18,285.5 419.18,278.81 419.43,285.5 419.43,285.5 419.68,285.5 419.68,285.5 419.93,285.5 419.93,285.5 420.18,285.5 420.18,277.61 420.43,285.5 420.43,285.5 420.68,285.5 420.68,285.5 420.93,285.5 420.93,285.5 421.18,285.5 421.18,278.98 421.44,285.5 421.44,285.5 421.69,285.5 421.69,285.5 421.94,285.5 421.94,285.5 422.19,285.5 422.19,282.05 422.44,282.18 422.44,285.5 422.69,285.5 422.69,285.5 422.94,282.1 422.94,285.5 423.19,285.5 423.19,282.13 423.44,285.5 423.44,285.5 423.69,285.5 423.69,285.5 423.94,281.56 423.94,285.5 424.19,285.5 424.19,285.5 424.44,285.5 424.44,285.5 424.69,285.5 424.69,285.5 424.94,285.5 424.94,285.5 425.19,285.5 425.19,281.77 425.44,279.89 425.44,285.5 425.7,285.5 425.7,277.86 425.95,285.5 425.95,285.5 426.2,285.5 426.2,264.47 426.45,263.5 426.45,285.5 426.7,285.5 426.7,285.5 426.95,255.93 426.95,285.5 427.2,285.5 427.2,258.89 427.45,264.62 427.45,285.5 427.7,285.5 427.7,285.5 427.95,268.14 427.95,285.5 428.2,285.5 428.2,265.62 428.45,285.5 428.45,285.5 428.7,285.5 428.7,259.86 428.95,258.61 428.95,285.5 429.2,285.5 429.2,254.44 429.45,257.55 429.45,285.5 429.7,285.5 429.7,285.5 429.96,285.5 429.96,285.5 430.21,285.5 430.21,285.5 430.46,254.64 430.46,285.5 430.71,285.5 430.71,257.73 430.96,285.5 430.96,285.5 431.21,285.5 431.21,285.5 431.46,285.5 431.46,285.5 431.71,285.5 431.71,285.5 431.96,260 431.96,285.5 432.21,285.5 432.21,256.94 432.46,285.5 432.46,285.5 432.71,285.5 432.71,239.01 432.96,243.66 432.96,285.5 433.21,285.5 433.21,285.5 433.46,263.69 433.46,285.5 433.71,285.5 433.71,267.48 433.96,285.5 433.96,285.5 434.22,285.5 434.22,285.5 434.47,285.5 434.47,285.5 434.72,285.5 434.72,285.5 434.97,285.5 434.97,285.5 435.22,285.5 435.22,282.12 435.47,285.5 435.47,285.5 435.72,285.5 435.72,285.5 435.97,279.4 435.97,285.5 436.22,285.5 436.22,279.87 436.47,279.77 436.47,285.5 436.72,285.5 436.72,285.5 436.97,285.5 436.97,285.5 437.22,285.5 437.22,280.84 437.47,285.5 437.47,285.5 437.72,285.5 437.72,285.5 437.97,281.88 437.97,285.5 438.22,285.5 438.22,281.71 438.48,285.5 438.48,285.5 438.73,285.5 438.73,285.5 438.98,285.5 438.98,285.5 439.23,285.5 439.23,281.12 439.48,281.16 439.48,285.5 439.73,285.5 439.73,285.5 439.98,279.78 439.98,285.5 440.23,285.5 440.23,278.24 440.48,285.5 440.48,285.5 440.73,285.5 440.73,279.59 440.98,285.5 440.98,285.5 441.23,285.5 441.23,285.5 441.48,285.5 441.48,285.5 441.73,285.5 441.73,285.5 441.98,285.5 441.98,285.5 442.23,285.5 442.23,265.68 442.48,265.54 442.48,285.5 442.73,285.5 442.73,258.12 442.99,260.86 442.99,285.5 443.24,285.5 443.24,285.5 443.49,266.94 443.49,285.5 443.74,285.5 443.74,267.13 443.99,266.59 443.99,285.5 444.24,285.5 444.24,268.48 444.49,272.25 444.49,285.5 444.74,285.5 444.74,285.5 444.99,278.43 444.99,285.5 445.24,285.5 445.24,285.5 445.49,279.98 445.49,285.5 445.74,285.5 445.74,280.89 445.99,285.5 445.99,285.5 446.24,285.5 446.24,285.5 446.49,285.5 446.49,285.5 446.74,285.5 446.74,285.5 446.99,285.5 446.99,285.5 447.25,285.5 447.25,282.41 447.5,282.42 447.5,285.5 447.75,285.5 447.75,285.5 448,281.31 448,285.5 448.25,285.5 448.25,281.43 448.5,285.5 448.5,285.5 448.75,285.5 448.75,285.5 449,285.5 449,285.5 449.25,285.5 449.25,285.5 449.5,285.5 449.5,285.5 449.75,285.5 449.75,285.5 450,285.5 450,285.5 450.25,285.5 450.25,281.46 450.5,285.5 450.5,285.5 450.75,285.5 450.75,280.85 451,280.27 451,285.5 451.25,285.5 451.25,279.88 451.51,285.5 451.51,285.5 451.76,285.5 451.76,285.5 452.01,285.5 452.01,285.5 452.26,285.5 452.26,280.66 452.51,280.62 452.51,285.5 452.76,285.5 452.76,285.5 453.01,279.51 453.01,285.5 453.26,285.5 453.26,279.47 453.51,279.45 453.51,285.5 453.76,285.5 453.76,285.5 454.01,285.5 454.01,285.5 454.26,285.5 454.26,279.02 454.51,285.5 454.51,285.5 454.76,285.5 454.76,285.5 455.01,281.12 455.01,285.5 455.26,285.5 455.26,280.98 455.51,285.5 455.51,285.5 455.77,285.5 455.77,279.45 456.02,278.66 456.02,285.5 456.27,285.5 456.27,276.24 456.52,277.17 456.52,285.5 456.77,285.5 456.77,285.5 457.02,285.5 457.02,285.5 457.27,285.5 457.27,285.5 457.52,285.5 457.52,285.5 457.77,285.5 457.77,285.5 458.02,285.5 458.02,285.5 458.27,285.5 458.27,283.32 458.52,283.79 458.52,285.5 458.77,285.5 458.77,285.5 459.02,285.5 459.02,285.5 459.27,285.5 459.27,285.5 459.52,285.5 459.52,285.5 459.77,285.5 459.77,283.65 460.03,283.69 460.03,285.5 460.28,285.5 460.28,285.5 460.53,285.5 460.53,285.5 460.78,285.5 460.78,285.5 461.03,285.5 461.03,285.5 461.28,285.5 461.28,282.81 461.53,283.48 461.53,285.5 461.78,285.5 461.78,285.5 462.03,285.5 462.03,285.5 462.28,285.5 462.28,285.5 462.53,283.69 462.53,285.5 462.78,285.5 462.78,283.67 463.03,285.5 463.03,285.5 463.28,285.5 463.28,285.5 463.53,285.5 463.53,285.5 463.78,285.5 463.78,283.17 464.03,283.07 464.03,285.5 464.29,285.5 464.29,285.5 464.54,283.5 464.54,285.5 464.79,285.5 464.79,285.5 465.04,283.25 465.04,285.5 465.29,285.5 465.29,282.89 465.54,282.53 465.54,285.5 465.79,285.5 465.79,285.5 466.04,280.54 466.04,285.5 466.29,285.5 466.29,285.5 466.54,280.72 466.54,285.5 466.79,285.5 466.79,280.76 467.04,285.5 467.04,285.5 467.29,285.5 467.29,285.5 467.54,285.5 467.54,285.5 467.79,285.5 467.79,285.5 468.04,285.5 468.04,285.5 468.29,285.5 468.29,281.19 468.55,281.28 468.55,285.5 468.8,285.5 468.8,285.5 469.05,285.5 469.05,285.5 469.3,285.5 469.3,285.5 469.55,285.5 469.55,285.5 469.8,285.5 469.8,280.63 470.05,285.5 470.05,285.5 470.3,285.5 470.3,285.5 470.55,280.12 470.55,285.5 470.8,285.5 470.8,280.65 471.05,285.5 471.05,285.5 471.3,285.5 471.3,285.5 471.55,285.5 471.55,285.5 471.8,285.5 471.8,285.5 472.05,282.62 472.05,285.5 472.3,285.5 472.3,285.5 472.55,282.8 472.55,285.5 472.81,285.5 472.81,283.08 473.06,285.5 473.06,285.5 473.31,285.5 473.31,285.5 473.56,285.5 473.56,285.5 473.81,285.5 473.81,283.13 474.06,285.5 474.06,285.5 474.31,285.5 474.31,285.5 474.56,285.5 474.56,285.5 474.81,285.5 474.81,283.57 475.06,283.63 475.06,285.5 475.31,285.5 475.31,285.5 475.56,283.99 475.56,285.5 475.81,285.5 475.81,285.5 476.06,285.5 476.06,285.5 476.31,285.5 476.31,284.16 476.56,285.5 476.56,285.5 476.81,285.5 476.81,285.5 477.07,283.95 477.07,285.5 477.32,285.5 477.32,285.5 477.57,285.5 477.57,285.5 477.82,285.5 477.82,285.5 478.07,283.15 478.07,285.5 478.32,285.5 478.32,283.21 478.57,285.5 478.57,285.5 478.82,285.5 478.82,285.5 479.07,285.5 479.07,285.5 479.32,285.5 479.32,285.5 479.57,283.55 479.57,285.5 479.82,285.5 479.82,283.54 480.07,285.5 480.07,285.5 480.32,285.5 480.32,284.37 480.57,284.55 480.57,285.5 480.82,285.5 480.82,285.5 481.07,285.5 481.07,285.5 481.33,285.5 481.33,284.93 481.58,285.5 481.58,285.5 481.83,285.5 481.83,284.8 482.08,284.8 482.08,285.5 482.33,285.5 482.33,285.5 482.58,284.93 482.58,285.5 482.83,285.5 482.83,284.94 483.08,285.5 483.08,285.5 483.33,285.5 483.33,285.5 483.58,285.03 483.58,285.5 483.83,285.5 483.83,285.04 484.08,285.5 484.08,285.5 484.33,285.5 484.33,285.5 484.58,284.8 484.58,285.5 484.83,285.5 484.83,284.79 485.08,285.5 485.08,285.5 485.33,285.5 485.33,285.5 485.59,285.5 485.59,285.5 485.84,285.5 485.84,285.5 486.09,285.5 486.09,285.5 486.34,285.5 486.34,284.96 486.59,285.5 486.59,285.5 486.84,285.5 486.84,285.5 487.09,285.5 487.09,285.5 487.34,285.5 487.34,285.5 487.59,285.5 487.59,285.5 487.84,285.5 487.84,285.5 488.09,285 488.09,285.5 488.34,285.5 488.34,285 488.59,285.5 488.59,285.5 488.84,285.5 488.84,285.5 489.09,285.5 489.09,285.5 489.34,285.5 489.34,284.92 489.59,285.5 489.59,285.5 489.85,285.5 489.85,285.5 490.1,285.14 490.1,285.5 490.35,285.5 490.35,285.5 490.6,285.12 490.6,285.5 490.85,285.5 490.85,285.12 491.1,285.5 491.1,285.5 491.35,285.5 491.35,285.5 491.6,285.5 491.6,285.5 491.85,285.5 491.85,285.01 492.1,285.02 492.1,285.5 492.35,285.5 492.35,285.5 492.6,285.5 492.6,285.5 492.85,285.5 492.85,285.03 493.1,285.03 493.1,285.5 493.35,285.5 493.35,285.5 493.6,285.5 493.6,285.5 493.85,285.5 493.85,285.04 494.11,285.05 494.11,285.5 494.36,285.5 494.36,285.03 494.61,285.5 494.61,285.5 494.86,285.5 494.86,285.5 495.11,285.5 495.11,285.5 495.36,285.5 495.36,285.5 495.61,285.5 495.61,285.5 495.86,285.5 495.86,285.05 496.11,285.04 496.11,285.5 496.36,285.5 496.36,285.5 496.61,285.5 496.61,285.5 496.86,285.5 496.86,285.19 497.11,285.5 497.11,285.5 497.36,285.5 497.36,285.12 497.61,283.51 497.61,285.5 497.86,285.5 497.86,283.71 498.11,285.5 498.11,285.5 498.37,285.5 498.37,285.5 498.62,285.5 498.62,285.5 498.87,285.5 498.87,285.5 499.12,285.14 499.12,285.5 499.37,285.5 499.37,285.12 499.62,285.5 499.62,285.5 499.87,285.5 499.87,285.31 500.12,285.5 500.12,285.5 500.37,285.5 500.37,285.18 500.62,285.5 500.62,285.5 500.87,285.5 500.87,285.14 501.12,285.5 501.12,285.5 501.37,285.5 501.37,285.08 501.62,285.5 501.62,285.5 501.87,285.5 501.87,285.5 502.12,285.5 502.12,285.5 502.37,285.5 502.37,285.5 502.62,285.5 502.62,285.5 502.88,285.5 502.88,285.5 503.13,285.21 503.13,285.5 503.38,285.5 503.38,285.2 503.63,285.5 503.63,285.5 503.88,285.5 503.88,285.5 504.13,285.5 504.13,285.5 504.38,285.5 504.38,285.5 504.63,285.5 504.63,285.5 504.88,285.5 504.88,285.21 505.13,285.19 505.13,285.5 505.38,285.5 505.38,285.19 505.63,285.5 505.63,285.5 505.88,285.5 505.88,285.5 506.13,285.5 506.13,285.5 506.38,285.5 506.38,285.5 506.63,285.5 506.63,285.5 506.88,285.5 506.88,285.5 507.14,285.17 507.14,285.5 507.39,285.5 507.39,285.5 507.64,285.5 507.64,285.5 507.89,285.5 507.89,285.5 508.14,285.15 508.14,285.5 508.39,285.5 508.39,285.5 508.64,285.19 508.64,285.5 508.89,285.5 508.89,285.5 509.14,285.5 509.14,285.5 509.39,285.5 509.39,285.5 509.64,285.2 509.64,285.5 509.89,285.5 509.89,285.19 510.14,285.5 510.14,285.5 510.39,285.5 510.39,285.5 510.64,285.27 510.64,285.5 510.89,285.5 510.89,285.5 511.14,285.2 511.14,285.5 511.4,285.5 511.4,285.5 511.65,285.5 511.65,285.5 511.9,285.5 511.9,285.5 512.15,285.24 512.15,285.5 512.4,285.5 512.4,285.5 512.65,285.23 512.65,285.5 512.9,285.5 512.9,285.22 513.15,285.22 513.15,285.5 513.4,285.5 513.4,285.5 513.65,285.5 513.65,285.5 513.9,285.5 513.9,285.5 514.15,285.3 514.15,285.5 514.4,285.5 514.4,285.3 514.65,285.5 514.65,285.5 514.9,285.5 514.9,285.27 515.15,285.5 515.15,285.5 515.4,285.5 515.4,285.5 515.66,285.5 515.66,285.5 515.91,285.5 515.91,285.19 516.16,285.5 516.16,285.5 516.41,285.5 516.41,285.5 516.66,285.5 516.66,285.5 516.91,285.5 516.91,285.28 517.16,285.5 517.16,285.5 517.41,285.5 517.41,285.5 517.66,285.5 517.66,285.5 517.91,285.5 517.91,285.5 518.16,285.31 518.16,285.5 518.41,285.5 518.41,285.5 518.66,285.5 518.66,285.5 518.91,285.5 518.91,285.34 519.16,285.34 519.16,285.5 519.41,285.5 519.41,285.5 519.66,285.5 519.66,285.5 519.92,285.5 519.92,285.26 520.17,285.26 520.17,285.5 520.42,285.5 520.42,285.5 520.67,285.3 520.67,285.5 520.92,285.5 520.92,285.3 521.17,285.3 521.17,285.5 521.42,285.5 521.42,285.5 521.67,285.5 521.67,285.5 521.92,285.5 521.92,285.5 522.17,285.5 522.17,285.5 522.42,285.5 522.42,285.31 522.67,285.5 522.67,285.5 522.92,285.5 522.92,285.5 523.17,285.28 523.17,285.5 523.42,285.5 523.42,285.27 523.67,285.27 523.67,285.5 523.92,285.5 523.92,285.5 524.18,285.5 524.18,285.5 524.43,285.5 524.43,285.28 524.68,285.27 524.68,285.5 524.93,285.5 524.93,285.5 525.18,285.5 525.18,285.5 525.43,285.5 525.43,285.5 525.68,285.5 525.68,285.5 525.93,285.5 525.93,285.36 526.18,285.5 526.18,285.5 526.43,285.5 526.43,285.5 526.68,285.5 526.68,285.5 526.93,285.5 526.93,285.3 527.18,285.3 527.18,285.5 527.43,285.5 527.43,285.5 527.68,285.5 527.68,285.5 527.93,285.5 527.93,285.5 528.18,285.5 528.18,285.5 528.44,285.5 528.44,285.5 528.69,285.35 528.69,285.5 528.94,285.5 528.94,285.5 529.19,285.5 529.19,285.5 529.44,285.5 529.44,285.5 529.69,285.31 529.69,285.5 529.94,285.5 529.94,285.31 530.19,285.5 530.19,285.5 530.44,285.5 530.44,285.5 530.69,285.35 530.69,285.5 530.94,285.5 530.94,285.5 531.19,285.5 531.19,285.5 531.44,285.5 531.44,285.5 531.69,285.5 531.69,285.5 531.94,285.5 531.94,285.5 532.19,285.5 532.19,285.5 532.44,285.5 532.44,285.34 532.7,285.34 532.7,285.5 532.95,285.5 532.95,285.5 533.2,285.5 533.2,285.5 533.45,285.5 533.45,285.37 533.7,285.37 533.7,285.5 533.95,285.5 533.95,285.5 534.2,285.37 534.2,285.5 534.45,285.5 534.45,285.38 534.7,285.5 534.7,285.5" class="k2"/>
<polyline points="406.4,234.41 406.4,285.5 406.65,285.5 406.65,220.4 406.9,234.74 406.9,285.5 407.15,285.5 407.15,220.1 407.4,230.72 407.4,285.5 407.65,285.5 407.65,229.65 407.9,236.75 407.9,285.5 408.15,285.5 408.15,251.33 408.4,257.87 408.4,285.5 408.66,269.78 408.66,260.74 408.91,263.43 408.91,285.5 409.16,285.5 409.16,257.69 409.41,260.91 409.41,285.5 409.66,279.63 409.66,263.91 409.91,257.56 409.91,285.5 410.16,285.5 410.16,263.49 410.41,265.45 410.41,285.5 410.66,285.5 410.66,271.03 410.91,274.15 410.91,285.5 411.16,285.5 411.16,277.32 411.41,280.24 411.41,285.5 411.66,285.5 411.66,282.31 411.91,282.62 411.91,285.5 412.16,284.62 412.16,282.98 412.41,283.24 412.41,285.5 412.66,285.34 412.66,283.72 412.92,283.89 412.92,285.2 413.17,285.5 413.17,283.34 413.42,283.34 413.42,285.5 413.67,285.5 413.67,283.88 413.92,283.99 413.92,285.5 414.17,284.6 414.17,283.86 414.42,283.52 414.42,285.5 414.67,285.5 414.67,283.46 414.92,283.99 414.92,285.5 415.17,285.5 415.17,282.88 415.42,282.78 415.42,285.5 415.67,285.5 415.67,281.31 415.92,280.6 415.92,285.5 416.17,285.5 416.17,279.84 416.42,281.05 416.42,285.5 416.67,284.52 416.67,279.91 416.92,279.64 416.92,282.2 417.18,285.5 417.18,279.4 417.43,281.13 417.43,285.5 417.68,285.5 417.68,280.07 417.93,279.25 417.93,285.5 418.18,285.5 418.18,280.71 418.43,280.28 418.43,285.5 418.68,285.5 418.68,281.06 418.93,281.03 418.93,285.5 419.18,285.5 419.18,281.78 419.43,282.27 419.43,284.06 419.68,285.5 419.68,281.92 419.93,281.62 419.93,285.5 420.18,285.5 420.18,281.1 420.43,279.43 420.43,285.5 420.68,285.5 420.68,279.76 420.93,279.81 420.93,285.5 421.18,285.5 421.18,280.85 421.44,281.3 421.44,285.5 421.69,283.9 421.69,281.63 421.94,282.11 421.94,285.5 422.19,283.96 422.19,282.43 422.44,282.69 422.44,285.5 422.69,285.5 422.69,283.51 422.94,283.42 422.94,284.4 423.19,285.5 423.19,283.82 423.44,283.58 423.44,285.5 423.69,285.5 423.69,283.23 423.94,283.58 423.94,285.5 424.19,285.5 424.19,283.22 424.44,282.8 424.44,285.5 424.69,285.5 424.69,283.53 424.94,282.86 424.94,285.5 425.19,285.5 425.19,283.08 425.44,281.34 425.44,285.5 425.7,285.5 425.7,280.05 425.95,278.31 425.95,281.21 426.2,285.5 426.2,275.61 426.45,274.21 426.45,285.5 426.7,284.02 426.7,276.39 426.95,272.49 426.95,285.5 427.2,285.5 427.2,275.73 427.45,277.65 427.45,285.5 427.7,284.24 427.7,277.75 427.95,277.23 427.95,285.5 428.2,285.5 428.2,274.94 428.45,276.22 428.45,285.5 428.7,285.5 428.7,276.99 428.95,273.07 428.95,285.5 429.2,285.5 429.2,275.74 429.45,274.69 429.45,285.5 429.7,285.5 429.7,274.29 429.96,276.29 429.96,285.5 430.21,285.5 430.21,275.54 430.46,273.06 430.46,285.5 430.71,285.5 430.71,276.45 430.96,275.11 430.96,285.5 431.21,285.5 431.21,276.63 431.46,275.37 431.46,285.5 431.71,285.5 431.71,274.7 431.96,276.5 431.96,285.5 432.21,285.5 432.21,274.94 432.46,273.2 432.46,283.73 432.71,278.32 432.71,271.66 432.96,274.41 432.96,283.3 433.21,285.5 433.21,275.24 433.46,274.38 433.46,285.5 433.71,285.5 433.71,276.04 433.96,279.16 433.96,285.5 434.22,285.5 434.22,279.61 434.47,281.28 434.47,283.75 434.72,285.5 434.72,282.21 434.97,282.16 434.97,285.5 435.22,285.5 435.22,282.64 435.47,282.61 435.47,285.26 435.72,285.5 435.72,282.63 435.97,282.89 435.97,284.92 436.22,285.5 436.22,282.98 436.47,283.11 436.47,285.5 436.72,285.5 436.72,283.2 436.97,283.23 436.97,285.5 437.22,285.5 437.22,283.15 437.47,283.66 437.47,285.5 437.72,285.5 437.72,283.87 437.97,283.76 437.97,285.5 438.22,285.36 438.22,283.77 438.48,283.67 438.48,285.5 438.73,285.41 438.73,283.34 438.98,283.89 438.98,284.68 439.23,285.5 439.23,283.6 439.48,283.34 439.48,285.5 439.73,284.84 439.73,283.74 439.98,283.42 439.98,285.5 440.23,285.5 440.23,282.69 440.48,282.34 440.48,285.5 440.73,285.5 440.73,280.61 440.98,281.12 440.98,285.5 441.23,285.5 441.23,280.38 441.48,278.09 441.48,285.5 441.73,285.5 441.73,277.18 441.98,276.94 441.98,285.5 442.23,285.5 442.23,275.36 442.48,278.09 442.48,285.5 442.73,285.5 442.73,274.9 442.99,276.72 442.99,285.5 443.24,285.5 443.24,278.05 443.49,276.81 443.49,285.5 443.74,285.5 443.74,277.3 443.99,276.34 443.99,285.5 444.24,282.52 444.24,279.7 444.49,279.65 444.49,285.5 444.74,285.5 444.74,281 444.99,281.6 444.99,285.5 445.24,285.5 445.24,282.58 445.49,283.21 445.49,285.5 445.74,285.5 445.74,283.13 445.99,283.67 445.99,285.5 446.24,285.5 446.24,283.28 446.49,283.6 446.49,285.5 446.74,285.1 446.74,283.63 446.99,283.47 446.99,285.5 447.25,285.5 447.25,283.55 447.5,283.23 447.5,285.5 447.75,285.5 447.75,283.35 448,283.57 448,285.5 448.25,285.5 448.25,283.78 448.5,283.49 448.5,284.13 448.75,285.5 448.75,283.38 449,283.38 449,285.5 449.25,285.5 449.25,282.22 449.5,283.03 449.5,285.5 449.75,284.46 449.75,282.82 450,282.82 450,285.5 450.25,285.5 450.25,282.91 450.5,282.55 450.5,285.5 450.75,285.5 450.75,282.1 451,281.68 451,285.5 451.25,285.5 451.25,281.78 451.51,281.9 451.51,285.5 451.76,285.5 451.76,281.59 452.01,281.82 452.01,285.5 452.26,285.5 452.26,281.48 452.51,280.84 452.51,285.5 452.76,285.5 452.76,280.93 453.01,280.21 453.01,285.5 453.26,285.5 453.26,280.9 453.51,280.88 453.51,285.5 453.76,282.64 453.76,280.67 454.01,280.72 454.01,285.5 454.26,285.5 454.26,281.28 454.51,281.69 454.51,285.5 454.76,283.17 454.76,282.04 455.01,282.7 455.01,285.21 455.26,285.5 455.26,282.13 455.51,281.66 455.51,285.5 455.77,285.5 455.77,281.47 456.02,280.99 456.02,282.91 456.27,282.93 456.27,280.97 456.52,281.01 456.52,283.92 456.77,285.5 456.77,282.14 457.02,282.47 457.02,285.5 457.27,285.5 457.27,283.15 457.52,283.27 457.52,285.5 457.77,285.5 457.77,283.54 458.02,283.72 458.02,284.48 458.27,285.5 458.27,284 458.52,284.46 458.52,285.5 458.77,285.5 458.77,284.7 459.02,284.44 459.02,285.5 459.27,285.5 459.27,284.5 459.52,284.58 459.52,285.5 459.77,285.4 459.77,284.53 460.03,284.58 460.03,285.5 460.28,285.5 460.28,284.69 460.53,283.8 460.53,285.5 460.78,285.5 460.78,282.74 461.03,282.69 461.03,285.5 461.28,285.5 461.28,283.73 461.53,284.24 461.53,285.5 461.78,285.5 461.78,284.42 462.03,284.39 462.03,285.5 462.28,285.5 462.28,284.4 462.53,284.35 462.53,285.5 462.78,285.5 462.78,284.56 463.03,284.24 463.03,285.5 463.28,285.5 463.28,284.47 463.53,284.45 463.53,285.5 463.78,285.36 463.78,284.29 464.03,284.45 464.03,285.5 464.29,285.5 464.29,283.99 464.54,284.3 464.54,285.5 464.79,285.5 464.79,283.68 465.04,283.44 465.04,285.5 465.29,285.5 465.29,282.95 465.54,282.76 465.54,285.5 465.79,285.5 465.79,282.02 466.04,282.6 466.04,284.89 466.29,283.99 466.29,282.46 466.54,282.65 466.54,285.5 466.79,285.5 466.79,282.18 467.04,282.69 467.04,285.5 467.29,285.5 467.29,282.12 467.54,282.94 467.54,285.5 467.79,285.5 467.79,282.77 468.04,282.53 468.04,284.01 468.29,285.5 468.29,282.89 468.55,282.8 468.55,285.5 468.8,285.5 468.8,282.07 469.05,282.61 469.05,285.5 469.3,285.5 469.3,282.78 469.55,282.06 469.55,285.5 469.8,285.26 469.8,282.37 470.05,282.31 470.05,285.5 470.3,285.28 470.3,282.01 470.55,282.22 470.55,285.5 470.8,284.37 470.8,282.91 471.05,283.34 471.05,285.5 471.3,285.5 471.3,283 471.55,283.06 471.55,285.5 471.8,285.5 471.8,283.19 472.05,283.85 472.05,285.5 472.3,285.5 472.3,283.74 472.55,283.77 472.55,285.5 472.81,285.5 472.81,284.26 473.06,284.28 473.06,285.5 473.31,285.5 473.31,284.26 473.56,284.23 473.56,285.5 473.81,285.5 473.81,284.08 474.06,284.31 474.06,285.5 474.31,285.5 474.31,284.23 474.56,284.37 474.56,285.5 474.81,285.5 474.81,284.48 475.06,284.59 475.06,285.47 475.31,285.5 475.31,284.61 475.56,284.51 475.56,285.5 475.81,285.11 475.81,284.75 476.06,284.8 476.06,285.5 476.31,285.5 476.31,284.81 476.56,284.7 476.56,285.5 476.81,285.04 476.81,284.67 477.07,284.61 477.07,285.5 477.32,285.5 477.32,284.44 477.57,284.44 477.57,285.5 477.82,285.5 477.82,284.15 478.07,283.99 478.07,285.5 478.32,285.5 478.32,284.21 478.57,284.24 478.57,285.5 478.82,285.5 478.82,284.47 479.07,284.38 479.07,285.5 479.32,285.5 479.32,284.5 479.57,284.54 479.57,285.5 479.82,285.5 479.82,284.22 480.07,284.38 480.07,285.5 480.32,285.5 480.32,284.49 480.57,284.85 480.57,285.5 480.82,285.5 480.82,284.92 481.07,284.96 481.07,285.5 481.33,285.5 481.33,285.14 481.58,285.08 481.58,285.5 481.83,285.5 481.83,285.08 482.08,285.21 482.08,285.5 482.33,285.5 482.33,285.15 482.58,285.14 482.58,285.5 482.83,285.47 482.83,285.17 483.08,285.17 483.08,285.5 483.33,285.5 483.33,285.18 483.58,285.19 483.58,285.44 483.83,285.5 483.83,285.22 484.08,285.14 484.08,285.5 484.33,285.5 484.33,285.11 484.58,285.23 484.58,285.5 484.83,285.23 484.83,285.13 485.08,285.17 485.08,285.27 485.33,285.5 485.33,285.24 485.59,285.24 485.59,285.5 485.84,285.5 485.84,285.19 486.09,285.24 486.09,285.5 486.34,285.5 486.34,285.22 486.59,285.22 486.59,285.5 486.84,285.5 486.84,285.15 487.09,285.21 487.09,285.5 487.34,285.5 487.34,285.23 487.59,285.16 487.59,285.5 487.84,285.5 487.84,285.16 488.09,285.19 488.09,285.5 488.34,285.5 488.34,285.26 488.59,285.18 488.59,285.5 488.84,285.5 488.84,285.23 489.09,285.2 489.09,285.5 489.34,285.5 489.34,285.21 489.59,285.22 489.59,285.5 489.85,285.5 489.85,285.21 490.1,285.21 490.1,285.5 490.35,285.36 490.35,285.25 490.6,285.25 490.6,285.49 490.85,285.5 490.85,285.29 491.1,285.27 491.1,285.5 491.35,285.5 491.35,285.22 491.6,285.28 491.6,285.5 491.85,285.37 491.85,285.24 492.1,285.24 492.1,285.5 492.35,285.5 492.35,285.29 492.6,285.25 492.6,285.5 492.85,285.5 492.85,285.26 493.1,285.24 493.1,285.5 493.35,285.5 493.35,285.29 493.6,285.26 493.6,285.5 493.85,285.5 493.85,285.26 494.11,285.3 494.11,285.44 494.36,285.5 494.36,285.31 494.61,285.31 494.61,285.5 494.86,285.5 494.86,285.29 495.11,285.32 495.11,285.5 495.36,285.5 495.36,285.28 495.61,285.32 495.61,285.5 495.86,285.44 495.86,285.29 496.11,285.33 496.11,285.5 496.36,285.5 496.36,285.32 496.61,285.29 496.61,285.5 496.86,285.5 496.86,285.32 497.11,285.31 497.11,285.5 497.36,285.5 497.36,285.33 497.61,285.32 497.61,285.5 497.86,285.42 497.86,285.35 498.11,285.32 498.11,285.5 498.37,285.5 498.37,285.32 498.62,285.34 498.62,285.42 498.87,285.5 498.87,285.34 499.12,285.33 499.12,285.5 499.37,285.5 499.37,285.34 499.62,285.33 499.62,285.38 499.87,285.5 499.87,285.3 500.12,285.3 500.12,285.5 500.37,285.5 500.37,285.3 500.62,285.33 500.62,285.5 500.87,285.5 500.87,285.3 501.12,285.32 501.12,285.5 501.37,285.43 501.37,285.3 501.62,285.35 501.62,285.5 501.87,285.42 501.87,285.31 502.12,285.32 502.12,285.5 502.37,285.41 502.37,285.33 502.62,285.31 502.62,285.5 502.88,285.46 502.88,285.31 503.13,285.31 503.13,285.5 503.38,285.43 503.38,285.34 503.63,285.34 503.63,285.5 503.88,285.5 503.88,285.33 504.13,285.36 504.13,285.5 504.38,285.5 504.38,285.32 504.63,285.33 504.63,285.5 504.88,285.5 504.88,285.34 505.13,285.33 505.13,285.5 505.38,285.5 505.38,285.31 505.63,285.32 505.63,285.5 505.88,285.5 505.88,285.33 506.13,285.36 506.13,285.5 506.38,285.5 506.38,285.31 506.63,285.35 506.63,285.41 506.88,285.39 506.88,285.32 507.14,285.34 507.14,285.5 507.39,285.44 507.39,285.33 507.64,285.32 507.64,285.5 507.89,285.5 507.89,285.37 508.14,285.36 508.14,285.5 508.39,285.5 508.39,285.36 508.64,285.37 508.64,285.5 508.89,285.5 508.89,285.36 509.14,285.32 509.14,285.44 509.39,285.5 509.39,285.36 509.64,285.37 509.64,285.47 509.89,285.5 509.89,285.32 510.14,285.35 510.14,285.5 510.39,285.47 510.39,285.35 510.64,285.34 510.64,285.5 510.89,285.5 510.89,285.33 511.14,285.37 511.14,285.5 511.4,285.5 511.4,285.37 511.65,285.36 511.65,285.5 511.9,285.5 511.9,285.33 512.15,285.33 512.15,285.5 512.4,285.5 512.4,285.37 512.65,285.34 512.65,285.5 512.9,285.5 512.9,285.36 513.15,285.34 513.15,285.5 513.4,285.5 513.4,285.37 513.65,285.37 513.65,285.5 513.9,285.5 513.9,285.38 514.15,285.34 514.15,285.5 514.4,285.5 514.4,285.38 514.65,285.37 514.65,285.5 514.9,285.5 514.9,285.37 515.15,285.34 515.15,285.5 515.4,285.5 515.4,285.38 515.66,285.37 515.66,285.44 515.91,285.5 515.91,285.35 516.16,285.38 516.16,285.5 516.41,285.44 516.41,285.36 516.66,285.37 516.66,285.5 516.91,285.48 516.91,285.39 517.16,285.36 517.16,285.48 517.41,285.5 517.41,285.37 517.66,285.38 517.66,285.5 517.91,285.5 517.91,285.34 518.16,285.35 518.16,285.5 518.41,285.44 518.41,285.37 518.66,285.38 518.66,285.5 518.91,285.5 518.91,285.39 519.16,285.36 519.16,285.5 519.41,285.5 519.41,285.38 519.66,285.37 519.66,285.5 519.92,285.5 519.92,285.37 520.17,285.36 520.17,285.5 520.42,285.5 520.42,285.39 520.67,285.39 520.67,285.44 520.92,285.5 520.92,285.36 521.17,285.4 521.17,285.5 521.42,285.5 521.42,285.38 521.67,285.4 521.67,285.47 521.92,285.5 521.92,285.39 522.17,285.39 522.17,285.5 522.42,285.47 522.42,285.36 522.67,285.37 522.67,285.47 522.92,285.43 522.92,285.39 523.17,285.38 523.17,285.5 523.42,285.5 523.42,285.38 523.67,285.4 523.67,285.5 523.92,285.5 523.92,285.39 524.18,285.37 524.18,285.43 524.43,285.5 524.43,285.4 524.68,285.4 524.68,285.5 524.93,285.5 524.93,285.39 525.18,285.41 525.18,285.5 525.43,285.5 525.43,285.37 525.68,285.39 525.68,285.5 525.93,285.5 525.93,285.38 526.18,285.39 526.18,285.5 526.43,285.5 526.43,285.38 526.68,285.38 526.68,285.5 526.93,285.5 526.93,285.39 527.18,285.41 527.18,285.49 527.43,285.5 527.43,285.39 527.68,285.41 527.68,285.5 527.93,285.5 527.93,285.41 528.18,285.38 528.18,285.5 528.44,285.5 528.44,285.39 528.69,285.38 528.69,285.5 528.94,285.46 528.94,285.38 529.19,285.39 529.19,285.45 529.44,285.5 529.44,285.39 529.69,285.38 529.69,285.5 529.94,285.46 529.94,285.38 530.19,285.41 530.19,285.5 530.44,285.5 530.44,285.38 530.69,285.4 530.69,285.5 530.94,285.5 530.94,285.41 531.19,285.4 531.19,285.5 531.44,285.5 531.44,285.4 531.69,285.39 531.69,285.5 531.94,285.46 531.94,285.39 532.19,285.4 532.19,285.5 532.44,285.5 532.44,285.39 532.7,285.4 532.7,285.5 532.95,285.5 532.95,285.42 533.2,285.41 533.2,285.5 533.45,285.5 533.45,285.4 533.7,285.4 533.7,285.5 533.95,285.43 533.95,285.4 534.2,285.42 534.2,285.46 534.45,285.5 534.45,285.4 534.7,285.39 534.7,285.5" class="s"/>
<rect x="406.4" y="185.95" width="128.30000000000007" height="99.55000000000001" fill="none" stroke="#727272" stroke-width="1.25"/>
<text x="405.9" y="297.7" text-anchor="middle" class="t">0</text>
<text x="448.67" y="297.7" text-anchor="middle" class="t">200</text>
<text x="491.43" y="297.7" text-anchor="middle" class="t">400</text>
<text x="534.2" y="297.7" text-anchor="middle" class="t">600</text>
<text x="402.8" y="289.55" text-anchor="end" class="t">0</text>
<text x="402.8" y="239.78" text-anchor="end" class="t">0.05</text>
<text x="402.8" y="190" text-anchor="end" class="t">0.1</text>
<path d="M406.4 285.5v-1.6M406.4 185.95v1.6M449.17 285.5v-1.6M449.17 185.95v1.6M491.93 285.5v-1.6M491.93 185.95v1.6M534.7 285.5v-1.6M534.7 185.95v1.6M406.4 285.5h1.6M534.7 285.5h-1.6M406.4 235.72h1.6M534.7 235.72h-1.6M406.4 185.95h1.6M534.7 185.95h-1.6" stroke="#727272" stroke-width="0.8" fill="none"/>
<text x="470.55" y="176.05" text-anchor="middle" class="ti">z-axis direction</text>
<text x="470.55" y="313.8" text-anchor="middle" class="l">Frequency (Hz)</text>
<text transform="translate(375.7 234.92) rotate(-90)" text-anchor="middle" class="l">PSD (g<tspan dy="-3.3" dx="0.2" font-size="5.6">2</tspan><tspan dy="3.3" dx="0.1">/Hz)</tspan></text>
</svg>
</body></html>
